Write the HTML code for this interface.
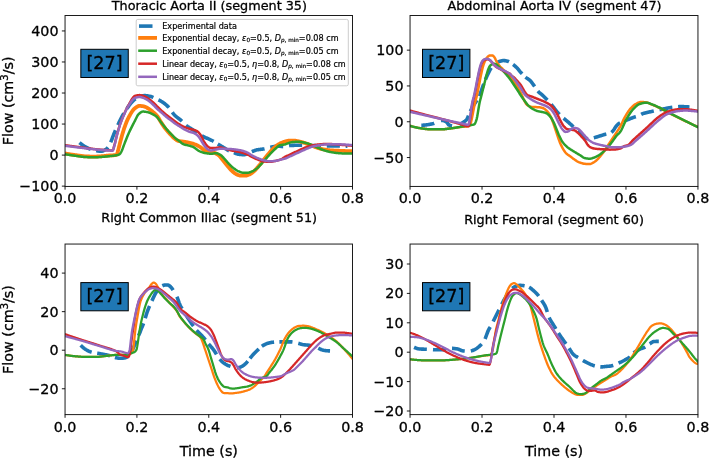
<!DOCTYPE html>
<html><head><meta charset="utf-8"><title>Flow waveforms</title>
<style>html,body{margin:0;padding:0;background:#fff}svg{display:block}</style></head>
<body>
<svg width="709" height="458" viewBox="0 0 709 458" font-family="DejaVu Sans, Liberation Sans, sans-serif">
<rect width="709" height="458" fill="#fff"/>
<defs>
<clipPath id="cTL"><rect x="65.05" y="15.5" width="287.45" height="170.95"/></clipPath>
<clipPath id="cTR"><rect x="410.05" y="15.5" width="287.90" height="170.95"/></clipPath>
<clipPath id="cBL"><rect x="65.05" y="244.05" width="287.45" height="170.55"/></clipPath>
<clipPath id="cBR"><rect x="410.05" y="244.05" width="287.90" height="170.55"/></clipPath>
</defs>
<g clip-path="url(#cTL)" fill="none" stroke-linejoin="round">
<path d="M79.48,142.63 L79.98,143.05 L80.48,143.46 L80.98,143.86 L81.48,144.25 L81.98,144.63 L82.48,145.00 L82.98,145.36 L83.48,145.70 L83.98,146.03 L84.48,146.35 L84.98,146.64 L85.48,146.92 L85.98,147.19 L86.48,147.43 L86.98,147.67 L87.48,147.91 L87.98,148.14 L88.48,148.36 L88.98,148.58 L89.48,148.79 L89.98,148.99 L90.48,149.18 L90.98,149.36 L91.48,149.54 L91.98,149.70 L92.48,149.85 L92.98,149.99 L93.48,150.11 L93.98,150.23 L94.48,150.33 L94.98,150.43 L95.48,150.54 L95.98,150.64 L96.48,150.73 L96.98,150.83 L97.48,150.91 L97.98,150.99 L98.48,151.07 L98.98,151.13 L99.48,151.18 L99.98,151.22 L100.48,151.25 L100.98,151.26 L101.48,151.26 L101.98,151.19 L102.48,151.08 L102.98,150.93 L103.48,150.72 L103.98,150.48 L104.48,150.21 L104.98,149.90 L105.48,149.57 L105.98,149.21 L106.48,148.83 L106.98,148.43 L107.48,147.99 L107.98,147.36 L108.48,146.57 L108.98,145.67 L109.48,144.69 L109.98,143.69 L110.48,142.67 L110.98,141.55 L111.48,140.33 L111.98,139.03 L112.48,137.70 L112.98,136.36 L113.48,135.05 L113.98,133.78 L114.48,132.59 L114.98,131.42 L115.48,130.26 L115.98,129.12 L116.48,127.99 L116.98,126.88 L117.48,125.79 L117.98,124.71 L118.48,123.65 L118.98,122.60 L119.48,121.55 L119.98,120.52 L120.48,119.51 L120.98,118.52 L121.48,117.55 L121.98,116.62 L122.48,115.73 L122.98,114.85 L123.48,114.00 L123.98,113.16 L124.48,112.34 L124.98,111.54 L125.48,110.76 L125.98,109.99 L126.48,109.25 L126.98,108.52 L127.48,107.80 L127.98,107.09 L128.48,106.39 L128.98,105.69 L129.48,105.01 L129.98,104.35 L130.48,103.71 L130.98,103.10 L131.48,102.52 L131.98,101.98 L132.48,101.48 L132.98,100.99 L133.48,100.51 L133.98,100.04 L134.48,99.59 L134.98,99.16 L135.48,98.76 L135.98,98.40 L136.48,98.08 L136.98,97.80 L137.48,97.57 L137.98,97.36 L138.48,97.15 L138.98,96.94 L139.48,96.74 L139.98,96.55 L140.48,96.37 L140.98,96.21 L141.48,96.06 L141.98,95.93 L142.48,95.83 L142.98,95.74 L143.48,95.68 L143.98,95.64 L144.48,95.63 L144.98,95.64 L145.48,95.67 L145.98,95.71 L146.48,95.76 L146.98,95.83 L147.48,95.90 L147.98,95.98 L148.48,96.06 L148.98,96.16 L149.48,96.25 L149.98,96.35 L150.48,96.46 L150.98,96.58 L151.48,96.74 L151.98,96.92 L152.48,97.13 L152.98,97.35 L153.48,97.59 L153.98,97.84 L154.48,98.09 L154.98,98.35 L155.48,98.60 L155.98,98.85 L156.48,99.08 L156.98,99.31 L157.48,99.54 L157.98,99.77 L158.48,99.99 L158.98,100.23 L159.48,100.46 L159.98,100.71 L160.48,100.96 L160.98,101.22 L161.48,101.50 L161.98,101.79 L162.48,102.09 L162.98,102.42 L163.48,102.76 L163.98,103.12 L164.48,103.50 L164.98,103.90 L165.48,104.31 L165.98,104.74 L166.48,105.18 L166.98,105.64 L167.48,106.12 L167.98,106.60 L168.48,107.11 L168.98,107.65 L169.48,108.25 L169.98,108.90 L170.48,109.59 L170.98,110.29 L171.48,111.01 L171.98,111.73 L172.48,112.44 L172.98,113.13 L173.48,113.78 L173.98,114.39 L174.48,114.94 L174.98,115.44 L175.48,115.91 L175.98,116.35 L176.48,116.77 L176.98,117.18 L177.48,117.57 L177.98,117.95 L178.48,118.34 L178.98,118.72 L179.48,119.11 L179.98,119.50 L180.48,119.91 L180.98,120.34 L181.48,120.80 L181.98,121.28 L182.48,121.79 L182.98,122.32 L183.48,122.85 L183.98,123.39 L184.48,123.91 L184.98,124.40 L185.48,124.87 L185.98,125.29 L186.48,125.68 L186.98,126.05 L187.48,126.41 L187.98,126.75 L188.48,127.08 L188.98,127.40 L189.48,127.71 L189.98,128.02 L190.48,128.33 L190.98,128.64 L191.48,128.96 L191.98,129.28 L192.48,129.61 L192.98,129.95 L193.48,130.30 L193.98,130.65 L194.48,131.02 L194.98,131.38 L195.48,131.74 L195.98,132.10 L196.48,132.45 L196.98,132.80 L197.48,133.15 L197.98,133.48 L198.48,133.79 L198.98,134.11 L199.48,134.41 L199.98,134.71 L200.48,135.00 L200.98,135.29 L201.48,135.57 L201.98,135.84 L202.48,136.11 L202.98,136.37 L203.48,136.63 L203.98,136.88 L204.48,137.12 L204.98,137.35 L205.48,137.58 L205.98,137.80 L206.48,138.03 L206.98,138.24 L207.48,138.46 L207.98,138.68 L208.48,138.89 L208.98,139.11 L209.48,139.33 L209.98,139.56 L210.48,139.79 L210.98,140.02 L211.48,140.26 L211.98,140.51 L212.48,140.76 L212.98,141.03 L213.48,141.30 L213.98,141.59 L214.48,141.90 L214.98,142.22 L215.48,142.54 L215.98,142.86 L216.48,143.19 L216.98,143.51 L217.48,143.83 L217.98,144.13 L218.48,144.44 L218.98,144.74 L219.48,145.04 L219.98,145.34 L220.48,145.64 L220.98,145.94 L221.48,146.24 L221.98,146.54 L222.48,146.83 L222.98,147.13 L223.48,147.43 L223.98,147.74 L224.48,148.05 L224.98,148.37 L225.48,148.69 L225.98,149.02 L226.48,149.34 L226.98,149.66 L227.48,149.96 L227.98,150.26 L228.48,150.54 L228.98,150.80 L229.48,151.05 L229.98,151.27 L230.48,151.46 L230.98,151.64 L231.48,151.80 L231.98,151.95 L232.48,152.11 L232.98,152.27 L233.48,152.44 L233.98,152.63 L234.48,152.84 L234.98,153.06 L235.48,153.28 L235.98,153.50 L236.48,153.70 L236.98,153.88 L237.48,154.02 L237.98,154.12 L238.48,154.20 L238.98,154.27 L239.48,154.35 L239.98,154.42 L240.48,154.48 L240.98,154.53 L241.48,154.58 L241.98,154.62 L242.48,154.65 L242.98,154.67 L243.48,154.68 L243.98,154.67 L244.48,154.62 L244.98,154.53 L245.48,154.42 L245.98,154.28 L246.48,154.12 L246.98,153.96 L247.48,153.78 L247.98,153.61 L248.48,153.43 L248.98,153.20 L249.48,152.94 L249.98,152.67 L250.48,152.39 L250.98,152.12 L251.48,151.88 L251.98,151.67 L252.48,151.45 L252.98,151.24 L253.48,151.03 L253.98,150.82 L254.48,150.63 L254.98,150.44 L255.48,150.27 L255.98,150.11 L256.48,149.97 L256.98,149.85 L257.48,149.76 L257.98,149.67 L258.48,149.60 L258.98,149.54 L259.48,149.48 L259.98,149.42 L260.48,149.37 L260.98,149.32 L261.48,149.27 L261.98,149.21 L262.48,149.15 L262.98,149.08 L263.48,149.01 L263.98,148.91 L264.48,148.81 L264.98,148.69 L265.48,148.56 L265.98,148.43 L266.48,148.29 L266.98,148.15 L267.48,148.01 L267.98,147.87 L268.48,147.73 L268.98,147.60 L269.48,147.48 L269.98,147.37 L270.48,147.27 L270.98,147.17 L271.48,147.07 L271.98,146.96 L272.48,146.86 L272.98,146.75 L273.48,146.65 L273.98,146.56 L274.48,146.47 L274.98,146.39 L275.48,146.32 L275.98,146.26 L276.48,146.22 L276.98,146.18 L277.48,146.17 L277.98,146.17 L278.48,146.18 L278.98,146.21 L279.48,146.24 L279.98,146.29 L280.48,146.33 L280.98,146.39 L281.48,146.44 L281.98,146.49 L282.48,146.54 L282.98,146.59 L283.48,146.62 L283.98,146.65 L284.48,146.67 L284.98,146.68 L285.48,146.65 L285.98,146.55 L286.48,146.42 L286.98,146.25 L287.48,146.07 L287.98,145.89 L288.48,145.74 L288.98,145.62 L289.48,145.55 L289.98,145.52 L290.48,145.49 L290.98,145.47 L291.48,145.44 L291.98,145.42 L292.48,145.40 L292.98,145.38 L293.48,145.36 L293.98,145.34 L294.48,145.32 L294.98,145.30 L295.48,145.29 L295.98,145.28 L296.48,145.26 L296.98,145.25 L297.48,145.24 L297.98,145.23 L298.48,145.23 L298.98,145.22 L299.48,145.21 L299.98,145.21 L300.48,145.21 L300.98,145.21 L301.48,145.21 L301.98,145.21 L302.48,145.21 L302.98,145.22 L303.48,145.22 L303.98,145.23 L304.48,145.24 L304.98,145.25 L305.48,145.27 L305.98,145.28 L306.48,145.30 L306.98,145.32 L307.48,145.33 L307.98,145.35 L308.48,145.37 L308.98,145.39 L309.48,145.42 L309.98,145.44 L310.48,145.46 L310.98,145.48 L311.48,145.50 L311.98,145.53 L312.48,145.55 L312.98,145.57 L313.48,145.59 L313.98,145.61 L314.48,145.63 L314.98,145.65 L315.48,145.67 L315.98,145.69 L316.48,145.71 L316.98,145.72 L317.48,145.74 L317.98,145.75 L318.48,145.76 L318.98,145.77 L319.48,145.78 L319.98,145.79 L320.48,145.80 L320.98,145.80 L321.48,145.81 L321.98,145.82 L322.48,145.83 L322.98,145.83 L323.48,145.84 L323.98,145.85 L324.48,145.85 L324.98,145.86 L325.48,145.86 L325.98,145.87 L326.48,145.87 L326.98,145.88 L327.48,145.88 L327.98,145.89 L328.48,145.89 L328.98,145.90 L329.48,145.90 L329.98,145.91 L330.48,145.91 L330.98,145.92 L331.48,145.92 L331.98,145.93 L332.48,145.94 L332.98,145.94 L333.48,145.95 L333.98,145.95 L334.48,145.96 L334.98,145.97 L335.48,145.97 L335.98,145.98 L336.48,145.99 L336.98,146.00 L337.48,146.00 L337.98,146.01 L338.48,146.02 L338.98,146.03 L339.48,146.04 L339.98,146.05 L340.48,146.06 L340.98,146.07 L341.48,146.08 L341.98,146.09 L342.48,146.10 L342.98,146.12 L343.48,146.13 L343.98,146.14 L344.48,146.15 L344.98,146.16 L345.48,146.18 L345.98,146.19 L346.48,146.20 L346.98,146.22 L347.45,146.23" stroke="#1f77b4" stroke-width="3.6" stroke-dasharray="13.10 5.67 13.10 5.67 13.10 5.67 13.10 5.67 13.10 5.67 13.10 5.67 13.10 5.81 13.10 5.86 13.10 5.86 13.10 4.94 13.10 5.17 13.10 5.76 13.10 5.90 13.10 5.97 13.10 5.80 13.10 5.80 13.10 5.80"/>
<path d="M65.42,153.58 L65.92,153.66 L66.42,153.74 L66.92,153.83 L67.42,153.91 L67.92,153.99 L68.42,154.07 L68.92,154.15 L69.42,154.22 L69.92,154.30 L70.42,154.38 L70.92,154.45 L71.42,154.53 L71.92,154.60 L72.42,154.68 L72.92,154.75 L73.42,154.82 L73.92,154.89 L74.42,154.96 L74.92,155.03 L75.42,155.10 L75.92,155.17 L76.42,155.23 L76.92,155.30 L77.42,155.37 L77.92,155.45 L78.42,155.52 L78.92,155.59 L79.42,155.67 L79.92,155.74 L80.42,155.81 L80.92,155.88 L81.42,155.95 L81.92,156.01 L82.42,156.08 L82.92,156.14 L83.42,156.19 L83.92,156.24 L84.42,156.28 L84.92,156.32 L85.42,156.36 L85.92,156.38 L86.42,156.40 L86.92,156.42 L87.42,156.44 L87.92,156.46 L88.42,156.48 L88.92,156.49 L89.42,156.51 L89.92,156.53 L90.42,156.54 L90.92,156.55 L91.42,156.56 L91.92,156.57 L92.42,156.58 L92.92,156.58 L93.42,156.59 L93.92,156.59 L94.42,156.59 L94.92,156.58 L95.42,156.58 L95.92,156.56 L96.42,156.54 L96.92,156.52 L97.42,156.50 L97.92,156.47 L98.42,156.44 L98.92,156.41 L99.42,156.38 L99.92,156.34 L100.42,156.31 L100.92,156.28 L101.42,156.24 L101.92,156.21 L102.42,156.17 L102.92,156.13 L103.42,156.09 L103.92,156.04 L104.42,155.99 L104.92,155.94 L105.42,155.88 L105.92,155.82 L106.42,155.76 L106.92,155.71 L107.42,155.65 L107.92,155.59 L108.42,155.54 L108.92,155.49 L109.42,155.45 L109.92,155.41 L110.42,155.37 L110.92,155.35 L111.42,155.32 L111.92,155.31 L112.42,155.29 L112.92,155.28 L113.42,155.26 L113.92,155.24 L114.42,155.21 L114.92,155.18 L115.42,155.13 L115.92,155.06 L116.42,154.70 L116.92,154.01 L117.42,153.07 L117.92,151.31 L118.42,149.15 L118.92,147.20 L119.42,145.25 L119.92,143.28 L120.42,141.33 L120.92,139.43 L121.42,137.62 L121.92,135.84 L122.42,134.09 L122.92,132.39 L123.42,130.75 L123.92,129.19 L124.42,127.73 L124.92,126.31 L125.42,124.92 L125.92,123.58 L126.42,122.29 L126.92,121.07 L127.42,119.91 L127.92,118.85 L128.42,117.87 L128.92,116.92 L129.42,115.99 L129.92,115.08 L130.42,114.19 L130.92,113.33 L131.42,112.51 L131.92,111.73 L132.42,110.99 L132.92,110.31 L133.42,109.69 L133.92,109.13 L134.42,108.64 L134.92,108.22 L135.42,107.86 L135.92,107.50 L136.42,107.15 L136.92,106.83 L137.42,106.53 L137.92,106.29 L138.42,106.09 L138.92,105.96 L139.42,105.90 L139.92,105.90 L140.42,105.92 L140.92,105.96 L141.42,106.02 L141.92,106.08 L142.42,106.16 L142.92,106.24 L143.42,106.33 L143.92,106.43 L144.42,106.54 L144.92,106.70 L145.42,106.91 L145.92,107.14 L146.42,107.41 L146.92,107.70 L147.42,108.00 L147.92,108.31 L148.42,108.61 L148.92,108.92 L149.42,109.24 L149.92,109.58 L150.42,109.94 L150.92,110.31 L151.42,110.70 L151.92,111.10 L152.42,111.51 L152.92,111.93 L153.42,112.36 L153.92,112.79 L154.42,113.23 L154.92,113.69 L155.42,114.16 L155.92,114.66 L156.42,115.18 L156.92,115.73 L157.42,116.33 L157.92,116.97 L158.42,117.72 L158.92,118.56 L159.42,119.46 L159.92,120.37 L160.42,121.25 L160.92,122.07 L161.42,122.86 L161.92,123.64 L162.42,124.40 L162.92,125.16 L163.42,125.90 L163.92,126.62 L164.42,127.33 L164.92,128.01 L165.42,128.66 L165.92,129.30 L166.42,129.92 L166.92,130.53 L167.42,131.12 L167.92,131.69 L168.42,132.26 L168.92,132.82 L169.42,133.37 L169.92,133.91 L170.42,134.45 L170.92,134.99 L171.42,135.52 L171.92,136.05 L172.42,136.56 L172.92,137.05 L173.42,137.51 L173.92,137.95 L174.42,138.37 L174.92,138.78 L175.42,139.20 L175.92,139.60 L176.42,139.98 L176.92,140.31 L177.42,140.59 L177.92,140.80 L178.42,140.93 L178.92,141.04 L179.42,141.13 L179.92,141.21 L180.42,141.28 L180.92,141.34 L181.42,141.40 L181.92,141.46 L182.42,141.51 L182.92,141.58 L183.42,141.65 L183.92,141.73 L184.42,141.81 L184.92,141.89 L185.42,141.97 L185.92,142.06 L186.42,142.14 L186.92,142.23 L187.42,142.33 L187.92,142.43 L188.42,142.53 L188.92,142.64 L189.42,142.74 L189.92,142.86 L190.42,142.98 L190.92,143.10 L191.42,143.24 L191.92,143.38 L192.42,143.52 L192.92,143.68 L193.42,143.85 L193.92,144.03 L194.42,144.21 L194.92,144.41 L195.42,144.62 L195.92,144.83 L196.42,145.06 L196.92,145.29 L197.42,145.54 L197.92,145.79 L198.42,146.05 L198.92,146.32 L199.42,146.59 L199.92,146.88 L200.42,147.19 L200.92,147.55 L201.42,147.95 L201.92,148.37 L202.42,148.80 L202.92,149.22 L203.42,149.61 L203.92,149.97 L204.42,150.27 L204.92,150.52 L205.42,150.76 L205.92,150.98 L206.42,151.20 L206.92,151.40 L207.42,151.58 L207.92,151.74 L208.42,151.88 L208.92,152.00 L209.42,152.09 L209.92,152.16 L210.42,152.22 L210.92,152.27 L211.42,152.31 L211.92,152.36 L212.42,152.41 L212.92,152.48 L213.42,152.56 L213.92,152.67 L214.42,152.81 L214.92,153.00 L215.42,153.22 L215.92,153.47 L216.42,153.75 L216.92,154.05 L217.42,154.37 L217.92,154.70 L218.42,155.06 L218.92,155.49 L219.42,155.98 L219.92,156.53 L220.42,157.13 L220.92,157.75 L221.42,158.38 L221.92,159.02 L222.42,159.64 L222.92,160.24 L223.42,160.85 L223.92,161.47 L224.42,162.11 L224.92,162.75 L225.42,163.39 L225.92,164.02 L226.42,164.65 L226.92,165.26 L227.42,165.86 L227.92,166.46 L228.42,167.06 L228.92,167.67 L229.42,168.26 L229.92,168.84 L230.42,169.39 L230.92,169.92 L231.42,170.42 L231.92,170.88 L232.42,171.33 L232.92,171.77 L233.42,172.20 L233.92,172.61 L234.42,173.00 L234.92,173.36 L235.42,173.68 L235.92,173.97 L236.42,174.21 L236.92,174.44 L237.42,174.67 L237.92,174.89 L238.42,175.10 L238.92,175.28 L239.42,175.43 L239.92,175.55 L240.42,175.62 L240.92,175.65 L241.42,175.65 L241.92,175.65 L242.42,175.65 L242.92,175.65 L243.42,175.65 L243.92,175.65 L244.42,175.65 L244.92,175.65 L245.42,175.65 L245.92,175.62 L246.42,175.54 L246.92,175.42 L247.42,175.26 L247.92,175.07 L248.42,174.87 L248.92,174.64 L249.42,174.42 L249.92,174.19 L250.42,173.94 L250.92,173.65 L251.42,173.32 L251.92,172.96 L252.42,172.56 L252.92,172.15 L253.42,171.72 L253.92,171.28 L254.42,170.83 L254.92,170.37 L255.42,169.86 L255.92,169.33 L256.42,168.77 L256.92,168.19 L257.42,167.60 L257.92,167.00 L258.42,166.39 L258.92,165.79 L259.42,165.20 L259.92,164.59 L260.42,163.97 L260.92,163.34 L261.42,162.71 L261.92,162.08 L262.42,161.44 L262.92,160.81 L263.42,160.18 L263.92,159.55 L264.42,158.92 L264.92,158.28 L265.42,157.65 L265.92,157.01 L266.42,156.38 L266.92,155.76 L267.42,155.14 L267.92,154.54 L268.42,153.95 L268.92,153.35 L269.42,152.76 L269.92,152.18 L270.42,151.60 L270.92,151.03 L271.42,150.48 L271.92,149.95 L272.42,149.43 L272.92,148.94 L273.42,148.45 L273.92,147.97 L274.42,147.51 L274.92,147.06 L275.42,146.62 L275.92,146.20 L276.42,145.80 L276.92,145.42 L277.42,145.07 L277.92,144.73 L278.42,144.41 L278.92,144.11 L279.42,143.83 L279.92,143.57 L280.42,143.33 L280.92,143.10 L281.42,142.87 L281.92,142.66 L282.42,142.45 L282.92,142.25 L283.42,142.07 L283.92,141.89 L284.42,141.74 L284.92,141.59 L285.42,141.46 L285.92,141.32 L286.42,141.18 L286.92,141.05 L287.42,140.93 L287.92,140.83 L288.42,140.75 L288.92,140.69 L289.42,140.66 L289.92,140.66 L290.42,140.66 L290.92,140.66 L291.42,140.66 L291.92,140.66 L292.42,140.66 L292.92,140.66 L293.42,140.66 L293.92,140.66 L294.42,140.67 L294.92,140.70 L295.42,140.75 L295.92,140.83 L296.42,140.91 L296.92,141.00 L297.42,141.11 L297.92,141.21 L298.42,141.31 L298.92,141.40 L299.42,141.51 L299.92,141.62 L300.42,141.74 L300.92,141.86 L301.42,141.99 L301.92,142.13 L302.42,142.27 L302.92,142.41 L303.42,142.56 L303.92,142.71 L304.42,142.88 L304.92,143.05 L305.42,143.22 L305.92,143.41 L306.42,143.59 L306.92,143.78 L307.42,143.96 L307.92,144.15 L308.42,144.34 L308.92,144.54 L309.42,144.74 L309.92,144.95 L310.42,145.15 L310.92,145.36 L311.42,145.56 L311.92,145.76 L312.42,145.95 L312.92,146.15 L313.42,146.34 L313.92,146.54 L314.42,146.73 L314.92,146.92 L315.42,147.11 L315.92,147.29 L316.42,147.46 L316.92,147.63 L317.42,147.80 L317.92,147.97 L318.42,148.13 L318.92,148.29 L319.42,148.45 L319.92,148.59 L320.42,148.73 L320.92,148.86 L321.42,148.97 L321.92,149.08 L322.42,149.18 L322.92,149.27 L323.42,149.36 L323.92,149.45 L324.42,149.53 L324.92,149.60 L325.42,149.68 L325.92,149.75 L326.42,149.83 L326.92,149.90 L327.42,149.97 L327.92,150.04 L328.42,150.10 L328.92,150.16 L329.42,150.22 L329.92,150.27 L330.42,150.32 L330.92,150.35 L331.42,150.39 L331.92,150.43 L332.42,150.46 L332.92,150.49 L333.42,150.52 L333.92,150.55 L334.42,150.57 L334.92,150.60 L335.42,150.62 L335.92,150.65 L336.42,150.67 L336.92,150.69 L337.42,150.71 L337.92,150.73 L338.42,150.75 L338.92,150.77 L339.42,150.79 L339.92,150.81 L340.42,150.83 L340.92,150.85 L341.42,150.87 L341.92,150.89 L342.42,150.91 L342.92,150.93 L343.42,150.95 L343.92,150.97 L344.42,151.00 L344.92,151.02 L345.42,151.04 L345.92,151.06 L346.42,151.08 L346.92,151.09 L347.42,151.11 L347.92,151.12 L348.42,151.14 L348.92,151.15 L349.42,151.16 L349.92,151.17 L350.42,151.18 L350.92,151.20 L351.42,151.20 L351.92,151.21 L352.42,151.22 L352.55,151.22" stroke="#ff7f0e" stroke-width="3.8" stroke-linecap="square"/>
<path d="M65.42,154.28 L65.92,154.36 L66.42,154.44 L66.92,154.53 L67.42,154.61 L67.92,154.69 L68.42,154.77 L68.92,154.85 L69.42,154.92 L69.92,155.00 L70.42,155.08 L70.92,155.15 L71.42,155.23 L71.92,155.30 L72.42,155.38 L72.92,155.45 L73.42,155.52 L73.92,155.59 L74.42,155.66 L74.92,155.73 L75.42,155.80 L75.92,155.87 L76.42,155.93 L76.92,156.00 L77.42,156.07 L77.92,156.15 L78.42,156.22 L78.92,156.29 L79.42,156.37 L79.92,156.44 L80.42,156.51 L80.92,156.58 L81.42,156.65 L81.92,156.71 L82.42,156.78 L82.92,156.84 L83.42,156.89 L83.92,156.94 L84.42,156.98 L84.92,157.02 L85.42,157.06 L85.92,157.08 L86.42,157.10 L86.92,157.12 L87.42,157.14 L87.92,157.16 L88.42,157.18 L88.92,157.19 L89.42,157.21 L89.92,157.23 L90.42,157.24 L90.92,157.25 L91.42,157.26 L91.92,157.27 L92.42,157.28 L92.92,157.28 L93.42,157.29 L93.92,157.29 L94.42,157.29 L94.92,157.28 L95.42,157.28 L95.92,157.26 L96.42,157.24 L96.92,157.22 L97.42,157.20 L97.92,157.17 L98.42,157.14 L98.92,157.11 L99.42,157.08 L99.92,157.04 L100.42,157.01 L100.92,156.98 L101.42,156.94 L101.92,156.91 L102.42,156.87 L102.92,156.84 L103.42,156.80 L103.92,156.75 L104.42,156.71 L104.92,156.66 L105.42,156.61 L105.92,156.56 L106.42,156.51 L106.92,156.46 L107.42,156.40 L107.92,156.35 L108.42,156.29 L108.92,156.23 L109.42,156.18 L109.92,156.12 L110.42,156.06 L110.92,156.00 L111.42,155.95 L111.92,155.89 L112.42,155.83 L112.92,155.77 L113.42,155.71 L113.92,155.65 L114.42,155.58 L114.92,155.50 L115.42,155.42 L115.92,155.34 L116.42,155.25 L116.92,155.16 L117.42,155.06 L117.92,154.94 L118.42,154.80 L118.92,154.62 L119.42,154.38 L119.92,153.91 L120.42,153.23 L120.92,152.43 L121.42,151.57 L121.92,150.52 L122.42,149.28 L122.92,147.93 L123.42,146.52 L123.92,145.14 L124.42,143.85 L124.92,142.57 L125.42,141.29 L125.92,140.00 L126.42,138.71 L126.92,137.45 L127.42,136.22 L127.92,135.03 L128.42,133.89 L128.92,132.78 L129.42,131.70 L129.92,130.64 L130.42,129.60 L130.92,128.58 L131.42,127.58 L131.92,126.59 L132.42,125.61 L132.92,124.63 L133.42,123.67 L133.92,122.71 L134.42,121.76 L134.92,120.80 L135.42,119.81 L135.92,118.77 L136.42,117.71 L136.92,116.69 L137.42,115.76 L137.92,114.98 L138.42,114.39 L138.92,113.92 L139.42,113.46 L139.92,113.03 L140.42,112.63 L140.92,112.28 L141.42,111.99 L141.92,111.77 L142.42,111.63 L142.92,111.57 L143.42,111.58 L143.92,111.61 L144.42,111.65 L144.92,111.71 L145.42,111.78 L145.92,111.86 L146.42,111.94 L146.92,112.03 L147.42,112.13 L147.92,112.23 L148.42,112.37 L148.92,112.52 L149.42,112.70 L149.92,112.90 L150.42,113.11 L150.92,113.33 L151.42,113.56 L151.92,113.79 L152.42,114.03 L152.92,114.28 L153.42,114.55 L153.92,114.83 L154.42,115.13 L154.92,115.45 L155.42,115.80 L155.92,116.16 L156.42,116.56 L156.92,117.00 L157.42,117.51 L157.92,118.09 L158.42,118.72 L158.92,119.39 L159.42,120.08 L159.92,120.77 L160.42,121.46 L160.92,122.12 L161.42,122.75 L161.92,123.38 L162.42,124.01 L162.92,124.65 L163.42,125.28 L163.92,125.91 L164.42,126.54 L164.92,127.15 L165.42,127.76 L165.92,128.35 L166.42,128.94 L166.92,129.52 L167.42,130.09 L167.92,130.66 L168.42,131.22 L168.92,131.77 L169.42,132.32 L169.92,132.85 L170.42,133.38 L170.92,133.91 L171.42,134.44 L171.92,134.97 L172.42,135.48 L172.92,135.99 L173.42,136.48 L173.92,136.96 L174.42,137.41 L174.92,137.84 L175.42,138.25 L175.92,138.65 L176.42,139.02 L176.92,139.39 L177.42,139.75 L177.92,140.11 L178.42,140.47 L178.92,140.83 L179.42,141.20 L179.92,141.60 L180.42,142.02 L180.92,142.45 L181.42,142.87 L181.92,143.27 L182.42,143.64 L182.92,143.95 L183.42,144.21 L183.92,144.40 L184.42,144.56 L184.92,144.69 L185.42,144.81 L185.92,144.92 L186.42,145.03 L186.92,145.13 L187.42,145.24 L187.92,145.36 L188.42,145.50 L188.92,145.63 L189.42,145.76 L189.92,145.90 L190.42,146.03 L190.92,146.18 L191.42,146.33 L191.92,146.50 L192.42,146.68 L192.92,146.88 L193.42,147.12 L193.92,147.40 L194.42,147.72 L194.92,148.06 L195.42,148.42 L195.92,148.79 L196.42,149.17 L196.92,149.55 L197.42,149.92 L197.92,150.28 L198.42,150.62 L198.92,150.93 L199.42,151.20 L199.92,151.43 L200.42,151.63 L200.92,151.82 L201.42,152.01 L201.92,152.19 L202.42,152.36 L202.92,152.52 L203.42,152.67 L203.92,152.80 L204.42,152.93 L204.92,153.03 L205.42,153.13 L205.92,153.20 L206.42,153.28 L206.92,153.35 L207.42,153.42 L207.92,153.49 L208.42,153.55 L208.92,153.60 L209.42,153.65 L209.92,153.68 L210.42,153.71 L210.92,153.73 L211.42,153.73 L211.92,153.71 L212.42,153.65 L212.92,153.58 L213.42,153.49 L213.92,153.39 L214.42,153.31 L214.92,153.23 L215.42,153.18 L215.92,153.17 L216.42,153.20 L216.92,153.29 L217.42,153.43 L217.92,153.61 L218.42,153.82 L218.92,154.06 L219.42,154.32 L219.92,154.59 L220.42,154.86 L220.92,155.18 L221.42,155.57 L221.92,156.03 L222.42,156.54 L222.92,157.09 L223.42,157.66 L223.92,158.23 L224.42,158.80 L224.92,159.35 L225.42,159.89 L225.92,160.46 L226.42,161.04 L226.92,161.62 L227.42,162.21 L227.92,162.79 L228.42,163.36 L228.92,163.91 L229.42,164.42 L229.92,164.91 L230.42,165.39 L230.92,165.86 L231.42,166.32 L231.92,166.77 L232.42,167.20 L232.92,167.61 L233.42,168.01 L233.92,168.39 L234.42,168.76 L234.92,169.12 L235.42,169.48 L235.92,169.82 L236.42,170.16 L236.92,170.47 L237.42,170.76 L237.92,171.02 L238.42,171.26 L238.92,171.46 L239.42,171.67 L239.92,171.88 L240.42,172.08 L240.92,172.26 L241.42,172.42 L241.92,172.55 L242.42,172.64 L242.92,172.69 L243.42,172.69 L243.92,172.69 L244.42,172.69 L244.92,172.69 L245.42,172.69 L245.92,172.69 L246.42,172.69 L246.92,172.69 L247.42,172.69 L247.92,172.69 L248.42,172.64 L248.92,172.55 L249.42,172.42 L249.92,172.25 L250.42,172.07 L250.92,171.87 L251.42,171.67 L251.92,171.46 L252.42,171.25 L252.92,171.02 L253.42,170.76 L253.92,170.48 L254.42,170.17 L254.92,169.84 L255.42,169.49 L255.92,169.13 L256.42,168.76 L256.92,168.37 L257.42,167.95 L257.92,167.50 L258.42,167.02 L258.92,166.51 L259.42,165.98 L259.92,165.45 L260.42,164.91 L260.92,164.37 L261.42,163.83 L261.92,163.29 L262.42,162.74 L262.92,162.18 L263.42,161.62 L263.92,161.04 L264.42,160.47 L264.92,159.90 L265.42,159.33 L265.92,158.76 L266.42,158.20 L266.92,157.62 L267.42,157.05 L267.92,156.48 L268.42,155.91 L268.92,155.34 L269.42,154.79 L269.92,154.24 L270.42,153.70 L270.92,153.17 L271.42,152.65 L271.92,152.12 L272.42,151.61 L272.92,151.10 L273.42,150.60 L273.92,150.12 L274.42,149.65 L274.92,149.20 L275.42,148.75 L275.92,148.28 L276.42,147.80 L276.92,147.33 L277.42,146.88 L277.92,146.45 L278.42,146.06 L278.92,145.72 L279.42,145.45 L279.92,145.25 L280.42,145.12 L280.92,145.02 L281.42,144.94 L281.92,144.86 L282.42,144.80 L282.92,144.74 L283.42,144.68 L283.92,144.61 L284.42,144.53 L284.92,144.43 L285.42,144.30 L285.92,144.13 L286.42,143.93 L286.92,143.72 L287.42,143.50 L287.92,143.28 L288.42,143.07 L288.92,142.89 L289.42,142.74 L289.92,142.62 L290.42,142.50 L290.92,142.38 L291.42,142.28 L291.92,142.18 L292.42,142.09 L292.92,142.02 L293.42,141.96 L293.92,141.92 L294.42,141.90 L294.92,141.88 L295.42,141.86 L295.92,141.84 L296.42,141.83 L296.92,141.82 L297.42,141.81 L297.92,141.80 L298.42,141.80 L298.92,141.80 L299.42,141.83 L299.92,141.87 L300.42,141.92 L300.92,141.99 L301.42,142.07 L301.92,142.15 L302.42,142.24 L302.92,142.33 L303.42,142.41 L303.92,142.51 L304.42,142.61 L304.92,142.73 L305.42,142.86 L305.92,142.99 L306.42,143.13 L306.92,143.27 L307.42,143.42 L307.92,143.57 L308.42,143.73 L308.92,143.90 L309.42,144.08 L309.92,144.27 L310.42,144.47 L310.92,144.66 L311.42,144.87 L311.92,145.07 L312.42,145.28 L312.92,145.49 L313.42,145.71 L313.92,145.93 L314.42,146.16 L314.92,146.39 L315.42,146.62 L315.92,146.85 L316.42,147.08 L316.92,147.31 L317.42,147.54 L317.92,147.77 L318.42,148.00 L318.92,148.24 L319.42,148.47 L319.92,148.70 L320.42,148.92 L320.92,149.13 L321.42,149.33 L321.92,149.52 L322.42,149.71 L322.92,149.90 L323.42,150.08 L323.92,150.26 L324.42,150.43 L324.92,150.59 L325.42,150.75 L325.92,150.90 L326.42,151.04 L326.92,151.18 L327.42,151.32 L327.92,151.45 L328.42,151.57 L328.92,151.69 L329.42,151.81 L329.92,151.92 L330.42,152.02 L330.92,152.12 L331.42,152.21 L331.92,152.30 L332.42,152.39 L332.92,152.48 L333.42,152.56 L333.92,152.64 L334.42,152.72 L334.92,152.79 L335.42,152.85 L335.92,152.91 L336.42,152.96 L336.92,153.01 L337.42,153.06 L337.92,153.11 L338.42,153.15 L338.92,153.19 L339.42,153.23 L339.92,153.27 L340.42,153.30 L340.92,153.33 L341.42,153.36 L341.92,153.39 L342.42,153.42 L342.92,153.44 L343.42,153.47 L343.92,153.50 L344.42,153.52 L344.92,153.55 L345.42,153.57 L345.92,153.58 L346.42,153.60 L346.92,153.60 L347.42,153.61 L347.92,153.61 L348.42,153.61 L348.92,153.61 L349.42,153.61 L349.92,153.61 L350.42,153.61 L350.92,153.61 L351.42,153.61 L351.92,153.61 L352.42,153.61 L352.55,153.61" stroke="#2ca02c" stroke-width="2.5" stroke-linecap="square"/>
<path d="M65.42,145.24 L65.92,145.31 L66.42,145.38 L66.92,145.45 L67.42,145.52 L67.92,145.59 L68.42,145.67 L68.92,145.74 L69.42,145.81 L69.92,145.88 L70.42,145.94 L70.92,146.01 L71.42,146.08 L71.92,146.15 L72.42,146.22 L72.92,146.29 L73.42,146.36 L73.92,146.43 L74.42,146.49 L74.92,146.56 L75.42,146.63 L75.92,146.70 L76.42,146.76 L76.92,146.83 L77.42,146.90 L77.92,146.96 L78.42,147.03 L78.92,147.10 L79.42,147.16 L79.92,147.23 L80.42,147.29 L80.92,147.36 L81.42,147.43 L81.92,147.49 L82.42,147.56 L82.92,147.63 L83.42,147.69 L83.92,147.76 L84.42,147.83 L84.92,147.89 L85.42,147.96 L85.92,148.03 L86.42,148.09 L86.92,148.16 L87.42,148.23 L87.92,148.29 L88.42,148.36 L88.92,148.42 L89.42,148.48 L89.92,148.55 L90.42,148.61 L90.92,148.67 L91.42,148.73 L91.92,148.79 L92.42,148.85 L92.92,148.91 L93.42,148.97 L93.92,149.02 L94.42,149.08 L94.92,149.13 L95.42,149.18 L95.92,149.23 L96.42,149.28 L96.92,149.33 L97.42,149.38 L97.92,149.43 L98.42,149.48 L98.92,149.53 L99.42,149.57 L99.92,149.62 L100.42,149.67 L100.92,149.71 L101.42,149.76 L101.92,149.80 L102.42,149.84 L102.92,149.89 L103.42,149.93 L103.92,149.97 L104.42,150.01 L104.92,150.05 L105.42,150.08 L105.92,150.12 L106.42,150.15 L106.92,150.18 L107.42,150.22 L107.92,150.25 L108.42,150.27 L108.92,150.30 L109.42,150.33 L109.92,150.37 L110.42,150.39 L110.92,150.42 L111.42,150.44 L111.92,150.45 L112.42,150.46 L112.92,150.19 L113.42,148.82 L113.92,146.94 L114.42,145.18 L114.92,143.31 L115.42,141.27 L115.92,139.14 L116.42,137.02 L116.92,134.99 L117.42,133.13 L117.92,131.34 L118.42,129.59 L118.92,127.90 L119.42,126.27 L119.92,124.72 L120.42,123.27 L120.92,121.87 L121.42,120.54 L121.92,119.25 L122.42,118.00 L122.92,116.80 L123.42,115.63 L123.92,114.49 L124.42,113.37 L124.92,112.27 L125.42,111.20 L125.92,110.16 L126.42,109.14 L126.92,108.16 L127.42,107.21 L127.92,106.31 L128.42,105.44 L128.92,104.55 L129.42,103.64 L129.92,102.71 L130.42,101.78 L130.92,100.86 L131.42,99.98 L131.92,99.14 L132.42,98.37 L132.92,97.67 L133.42,97.06 L133.92,96.56 L134.42,96.17 L134.92,95.93 L135.42,95.78 L135.92,95.64 L136.42,95.52 L136.92,95.41 L137.42,95.31 L137.92,95.23 L138.42,95.17 L138.92,95.13 L139.42,95.11 L139.92,95.12 L140.42,95.17 L140.92,95.26 L141.42,95.37 L141.92,95.51 L142.42,95.67 L142.92,95.84 L143.42,96.01 L143.92,96.19 L144.42,96.37 L144.92,96.59 L145.42,96.84 L145.92,97.11 L146.42,97.41 L146.92,97.72 L147.42,98.05 L147.92,98.38 L148.42,98.72 L148.92,99.06 L149.42,99.41 L149.92,99.78 L150.42,100.17 L150.92,100.57 L151.42,100.98 L151.92,101.40 L152.42,101.84 L152.92,102.27 L153.42,102.72 L153.92,103.19 L154.42,103.68 L154.92,104.18 L155.42,104.70 L155.92,105.22 L156.42,105.73 L156.92,106.25 L157.42,106.75 L157.92,107.24 L158.42,107.73 L158.92,108.21 L159.42,108.70 L159.92,109.18 L160.42,109.66 L160.92,110.13 L161.42,110.59 L161.92,111.05 L162.42,111.50 L162.92,111.95 L163.42,112.39 L163.92,112.82 L164.42,113.25 L164.92,113.67 L165.42,114.09 L165.92,114.50 L166.42,114.91 L166.92,115.31 L167.42,115.70 L167.92,116.08 L168.42,116.46 L168.92,116.83 L169.42,117.20 L169.92,117.57 L170.42,117.94 L170.92,118.31 L171.42,118.68 L171.92,119.06 L172.42,119.44 L172.92,119.82 L173.42,120.21 L173.92,120.59 L174.42,120.97 L174.92,121.34 L175.42,121.70 L175.92,122.05 L176.42,122.40 L176.92,122.74 L177.42,123.09 L177.92,123.42 L178.42,123.75 L178.92,124.07 L179.42,124.38 L179.92,124.68 L180.42,124.97 L180.92,125.25 L181.42,125.53 L181.92,125.80 L182.42,126.06 L182.92,126.31 L183.42,126.56 L183.92,126.79 L184.42,127.01 L184.92,127.23 L185.42,127.43 L185.92,127.62 L186.42,127.81 L186.92,128.00 L187.42,128.17 L187.92,128.34 L188.42,128.50 L188.92,128.66 L189.42,128.81 L189.92,128.95 L190.42,129.07 L190.92,129.19 L191.42,129.30 L191.92,129.41 L192.42,129.53 L192.92,129.65 L193.42,129.78 L193.92,129.93 L194.42,130.09 L194.92,130.26 L195.42,130.44 L195.92,130.65 L196.42,130.87 L196.92,131.13 L197.42,131.43 L197.92,131.79 L198.42,132.26 L198.92,132.81 L199.42,133.42 L199.92,134.09 L200.42,134.79 L200.92,135.52 L201.42,136.36 L201.92,137.33 L202.42,138.38 L202.92,139.45 L203.42,140.49 L203.92,141.44 L204.42,142.26 L204.92,143.04 L205.42,143.81 L205.92,144.53 L206.42,145.18 L206.92,145.75 L207.42,146.19 L207.92,146.55 L208.42,146.91 L208.92,147.24 L209.42,147.52 L209.92,147.74 L210.42,147.88 L210.92,147.93 L211.42,147.93 L211.92,147.93 L212.42,147.93 L212.92,147.93 L213.42,147.93 L213.92,147.93 L214.42,147.93 L214.92,147.93 L215.42,147.93 L215.92,147.91 L216.42,147.85 L216.92,147.78 L217.42,147.69 L217.92,147.60 L218.42,147.51 L218.92,147.43 L219.42,147.38 L219.92,147.36 L220.42,147.38 L220.92,147.45 L221.42,147.55 L221.92,147.68 L222.42,147.83 L222.92,148.00 L223.42,148.16 L223.92,148.32 L224.42,148.47 L224.92,148.61 L225.42,148.76 L225.92,148.91 L226.42,149.07 L226.92,149.23 L227.42,149.39 L227.92,149.55 L228.42,149.71 L228.92,149.85 L229.42,149.99 L229.92,150.12 L230.42,150.24 L230.92,150.35 L231.42,150.46 L231.92,150.56 L232.42,150.66 L232.92,150.75 L233.42,150.85 L233.92,150.94 L234.42,151.03 L234.92,151.13 L235.42,151.22 L235.92,151.32 L236.42,151.42 L236.92,151.51 L237.42,151.61 L237.92,151.70 L238.42,151.79 L238.92,151.88 L239.42,151.98 L239.92,152.08 L240.42,152.19 L240.92,152.31 L241.42,152.43 L241.92,152.56 L242.42,152.70 L242.92,152.85 L243.42,153.01 L243.92,153.17 L244.42,153.34 L244.92,153.52 L245.42,153.71 L245.92,153.90 L246.42,154.09 L246.92,154.30 L247.42,154.51 L247.92,154.74 L248.42,154.99 L248.92,155.25 L249.42,155.52 L249.92,155.80 L250.42,156.08 L250.92,156.36 L251.42,156.63 L251.92,156.90 L252.42,157.15 L252.92,157.40 L253.42,157.63 L253.92,157.87 L254.42,158.11 L254.92,158.34 L255.42,158.57 L255.92,158.80 L256.42,159.01 L256.92,159.22 L257.42,159.43 L257.92,159.62 L258.42,159.80 L258.92,159.99 L259.42,160.17 L259.92,160.36 L260.42,160.54 L260.92,160.72 L261.42,160.89 L261.92,161.05 L262.42,161.19 L262.92,161.31 L263.42,161.41 L263.92,161.48 L264.42,161.53 L264.92,161.58 L265.42,161.62 L265.92,161.66 L266.42,161.70 L266.92,161.74 L267.42,161.77 L267.92,161.79 L268.42,161.81 L268.92,161.83 L269.42,161.83 L269.92,161.83 L270.42,161.81 L270.92,161.77 L271.42,161.71 L271.92,161.64 L272.42,161.56 L272.92,161.46 L273.42,161.36 L273.92,161.25 L274.42,161.14 L274.92,161.03 L275.42,160.92 L275.92,160.82 L276.42,160.70 L276.92,160.58 L277.42,160.45 L277.92,160.31 L278.42,160.16 L278.92,160.01 L279.42,159.84 L279.92,159.67 L280.42,159.49 L280.92,159.29 L281.42,159.08 L281.92,158.82 L282.42,158.52 L282.92,158.20 L283.42,157.87 L283.92,157.54 L284.42,157.23 L284.92,156.94 L285.42,156.68 L285.92,156.44 L286.42,156.20 L286.92,155.97 L287.42,155.74 L287.92,155.52 L288.42,155.30 L288.92,155.08 L289.42,154.86 L289.92,154.64 L290.42,154.41 L290.92,154.17 L291.42,153.94 L291.92,153.70 L292.42,153.45 L292.92,153.21 L293.42,152.97 L293.92,152.73 L294.42,152.49 L294.92,152.24 L295.42,152.00 L295.92,151.77 L296.42,151.53 L296.92,151.30 L297.42,151.06 L297.92,150.82 L298.42,150.59 L298.92,150.35 L299.42,150.12 L299.92,149.89 L300.42,149.66 L300.92,149.44 L301.42,149.22 L301.92,149.00 L302.42,148.78 L302.92,148.57 L303.42,148.35 L303.92,148.14 L304.42,147.92 L304.92,147.71 L305.42,147.51 L305.92,147.31 L306.42,147.12 L306.92,146.94 L307.42,146.77 L307.92,146.61 L308.42,146.46 L308.92,146.31 L309.42,146.16 L309.92,146.02 L310.42,145.88 L310.92,145.75 L311.42,145.63 L311.92,145.51 L312.42,145.40 L312.92,145.29 L313.42,145.20 L313.92,145.11 L314.42,145.02 L314.92,144.94 L315.42,144.86 L315.92,144.78 L316.42,144.71 L316.92,144.64 L317.42,144.58 L317.92,144.52 L318.42,144.47 L318.92,144.42 L319.42,144.38 L319.92,144.34 L320.42,144.30 L320.92,144.25 L321.42,144.22 L321.92,144.18 L322.42,144.15 L322.92,144.12 L323.42,144.10 L323.92,144.08 L324.42,144.07 L324.92,144.07 L325.42,144.07 L325.92,144.07 L326.42,144.07 L326.92,144.07 L327.42,144.07 L327.92,144.07 L328.42,144.07 L328.92,144.07 L329.42,144.07 L329.92,144.07 L330.42,144.07 L330.92,144.07 L331.42,144.09 L331.92,144.11 L332.42,144.14 L332.92,144.17 L333.42,144.20 L333.92,144.24 L334.42,144.28 L334.92,144.32 L335.42,144.36 L335.92,144.40 L336.42,144.43 L336.92,144.47 L337.42,144.51 L337.92,144.55 L338.42,144.59 L338.92,144.63 L339.42,144.67 L339.92,144.71 L340.42,144.75 L340.92,144.80 L341.42,144.84 L341.92,144.88 L342.42,144.92 L342.92,144.96 L343.42,145.00 L343.92,145.03 L344.42,145.07 L344.92,145.11 L345.42,145.15 L345.92,145.19 L346.42,145.23 L346.92,145.28 L347.42,145.32 L347.92,145.36 L348.42,145.40 L348.92,145.45 L349.42,145.49 L349.92,145.53 L350.42,145.58 L350.92,145.62 L351.42,145.67 L351.92,145.71 L352.42,145.76 L352.55,145.77" stroke="#d62728" stroke-width="2.5" stroke-linecap="square"/>
<path d="M65.42,145.84 L65.92,145.91 L66.42,145.97 L66.92,146.03 L67.42,146.10 L67.92,146.16 L68.42,146.23 L68.92,146.29 L69.42,146.35 L69.92,146.41 L70.42,146.48 L70.92,146.54 L71.42,146.60 L71.92,146.66 L72.42,146.73 L72.92,146.79 L73.42,146.85 L73.92,146.91 L74.42,146.97 L74.92,147.03 L75.42,147.09 L75.92,147.15 L76.42,147.21 L76.92,147.27 L77.42,147.33 L77.92,147.39 L78.42,147.45 L78.92,147.51 L79.42,147.57 L79.92,147.63 L80.42,147.69 L80.92,147.75 L81.42,147.81 L81.92,147.87 L82.42,147.93 L82.92,147.99 L83.42,148.05 L83.92,148.11 L84.42,148.17 L84.92,148.22 L85.42,148.28 L85.92,148.34 L86.42,148.40 L86.92,148.46 L87.42,148.52 L87.92,148.58 L88.42,148.63 L88.92,148.69 L89.42,148.75 L89.92,148.81 L90.42,148.86 L90.92,148.92 L91.42,148.97 L91.92,149.03 L92.42,149.08 L92.92,149.13 L93.42,149.19 L93.92,149.24 L94.42,149.29 L94.92,149.34 L95.42,149.39 L95.92,149.44 L96.42,149.48 L96.92,149.53 L97.42,149.58 L97.92,149.63 L98.42,149.67 L98.92,149.72 L99.42,149.77 L99.92,149.82 L100.42,149.86 L100.92,149.91 L101.42,149.95 L101.92,150.00 L102.42,150.04 L102.92,150.08 L103.42,150.12 L103.92,150.17 L104.42,150.21 L104.92,150.24 L105.42,150.28 L105.92,150.32 L106.42,150.35 L106.92,150.38 L107.42,150.42 L107.92,150.45 L108.42,150.47 L108.92,150.51 L109.42,150.54 L109.92,150.57 L110.42,150.59 L110.92,150.62 L111.42,150.64 L111.92,150.65 L112.42,150.66 L112.92,150.40 L113.42,149.10 L113.92,147.30 L114.42,145.60 L114.92,143.75 L115.42,141.71 L115.92,139.57 L116.42,137.44 L116.92,135.40 L117.42,133.53 L117.92,131.74 L118.42,129.99 L118.92,128.30 L119.42,126.67 L119.92,125.12 L120.42,123.67 L120.92,122.28 L121.42,120.94 L121.92,119.65 L122.42,118.41 L122.92,117.20 L123.42,116.03 L123.92,114.89 L124.42,113.77 L124.92,112.66 L125.42,111.57 L125.92,110.49 L126.42,109.45 L126.92,108.46 L127.42,107.53 L127.92,106.66 L128.42,105.87 L128.92,105.09 L129.42,104.30 L129.92,103.52 L130.42,102.75 L130.92,102.01 L131.42,101.30 L131.92,100.63 L132.42,100.00 L132.92,99.44 L133.42,98.95 L133.92,98.53 L134.42,98.21 L134.92,97.97 L135.42,97.81 L135.92,97.66 L136.42,97.52 L136.92,97.39 L137.42,97.27 L137.92,97.18 L138.42,97.11 L138.92,97.06 L139.42,97.04 L139.92,97.05 L140.42,97.10 L140.92,97.19 L141.42,97.30 L141.92,97.44 L142.42,97.60 L142.92,97.77 L143.42,97.94 L143.92,98.12 L144.42,98.30 L144.92,98.52 L145.42,98.76 L145.92,99.03 L146.42,99.33 L146.92,99.64 L147.42,99.96 L147.92,100.30 L148.42,100.65 L148.92,101.00 L149.42,101.38 L149.92,101.79 L150.42,102.22 L150.92,102.66 L151.42,103.12 L151.92,103.59 L152.42,104.06 L152.92,104.53 L153.42,105.00 L153.92,105.49 L154.42,105.99 L154.92,106.50 L155.42,107.02 L155.92,107.53 L156.42,108.04 L156.92,108.54 L157.42,109.03 L157.92,109.50 L158.42,109.96 L158.92,110.40 L159.42,110.84 L159.92,111.27 L160.42,111.70 L160.92,112.13 L161.42,112.56 L161.92,112.99 L162.42,113.43 L162.92,113.87 L163.42,114.32 L163.92,114.77 L164.42,115.21 L164.92,115.66 L165.42,116.10 L165.92,116.53 L166.42,116.95 L166.92,117.36 L167.42,117.75 L167.92,118.14 L168.42,118.51 L168.92,118.88 L169.42,119.25 L169.92,119.62 L170.42,119.98 L170.92,120.35 L171.42,120.72 L171.92,121.10 L172.42,121.49 L172.92,121.87 L173.42,122.26 L173.92,122.64 L174.42,123.02 L174.92,123.39 L175.42,123.75 L175.92,124.09 L176.42,124.43 L176.92,124.75 L177.42,125.07 L177.92,125.38 L178.42,125.68 L178.92,125.99 L179.42,126.29 L179.92,126.59 L180.42,126.90 L180.92,127.22 L181.42,127.55 L181.92,127.88 L182.42,128.20 L182.92,128.53 L183.42,128.85 L183.92,129.15 L184.42,129.45 L184.92,129.72 L185.42,129.98 L185.92,130.23 L186.42,130.48 L186.92,130.71 L187.42,130.94 L187.92,131.16 L188.42,131.37 L188.92,131.57 L189.42,131.75 L189.92,131.93 L190.42,132.08 L190.92,132.21 L191.42,132.34 L191.92,132.47 L192.42,132.60 L192.92,132.74 L193.42,132.91 L193.92,133.10 L194.42,133.32 L194.92,133.58 L195.42,133.87 L195.92,134.20 L196.42,134.57 L196.92,134.97 L197.42,135.39 L197.92,135.88 L198.42,136.45 L198.92,137.09 L199.42,137.78 L199.92,138.52 L200.42,139.29 L200.92,140.07 L201.42,140.99 L201.92,141.90 L202.42,142.68 L202.92,143.47 L203.42,144.26 L203.92,145.02 L204.42,145.76 L204.92,146.47 L205.42,147.12 L205.92,147.71 L206.42,148.24 L206.92,148.68 L207.42,149.03 L207.92,149.33 L208.42,149.61 L208.92,149.87 L209.42,150.10 L209.92,150.28 L210.42,150.39 L210.92,150.42 L211.42,150.40 L211.92,150.35 L212.42,150.27 L212.92,150.17 L213.42,150.06 L213.92,149.95 L214.42,149.83 L214.92,149.72 L215.42,149.63 L215.92,149.53 L216.42,149.42 L216.92,149.31 L217.42,149.19 L217.92,149.08 L218.42,148.98 L218.92,148.91 L219.42,148.85 L219.92,148.83 L220.42,148.83 L220.92,148.83 L221.42,148.83 L221.92,148.83 L222.42,148.83 L222.92,148.83 L223.42,148.83 L223.92,148.83 L224.42,148.83 L224.92,148.84 L225.42,148.84 L225.92,148.85 L226.42,148.86 L226.92,148.88 L227.42,148.89 L227.92,148.91 L228.42,148.93 L228.92,148.95 L229.42,148.98 L229.92,149.00 L230.42,149.03 L230.92,149.06 L231.42,149.10 L231.92,149.14 L232.42,149.19 L232.92,149.24 L233.42,149.30 L233.92,149.36 L234.42,149.42 L234.92,149.48 L235.42,149.54 L235.92,149.60 L236.42,149.67 L236.92,149.73 L237.42,149.80 L237.92,149.87 L238.42,149.94 L238.92,150.02 L239.42,150.11 L239.92,150.20 L240.42,150.29 L240.92,150.39 L241.42,150.50 L241.92,150.61 L242.42,150.74 L242.92,150.88 L243.42,151.04 L243.92,151.20 L244.42,151.37 L244.92,151.56 L245.42,151.75 L245.92,151.95 L246.42,152.15 L246.92,152.36 L247.42,152.59 L247.92,152.85 L248.42,153.13 L248.92,153.44 L249.42,153.76 L249.92,154.09 L250.42,154.42 L250.92,154.75 L251.42,155.07 L251.92,155.38 L252.42,155.66 L252.92,155.93 L253.42,156.18 L253.92,156.44 L254.42,156.68 L254.92,156.92 L255.42,157.16 L255.92,157.39 L256.42,157.61 L256.92,157.83 L257.42,158.04 L257.92,158.24 L258.42,158.44 L258.92,158.64 L259.42,158.84 L259.92,159.03 L260.42,159.22 L260.92,159.41 L261.42,159.59 L261.92,159.76 L262.42,159.92 L262.92,160.07 L263.42,160.21 L263.92,160.33 L264.42,160.44 L264.92,160.55 L265.42,160.66 L265.92,160.77 L266.42,160.87 L266.92,160.97 L267.42,161.06 L267.92,161.13 L268.42,161.19 L268.92,161.24 L269.42,161.26 L269.92,161.27 L270.42,161.26 L270.92,161.25 L271.42,161.23 L271.92,161.20 L272.42,161.17 L272.92,161.14 L273.42,161.10 L273.92,161.06 L274.42,161.02 L274.92,160.97 L275.42,160.92 L275.92,160.86 L276.42,160.78 L276.92,160.68 L277.42,160.57 L277.92,160.44 L278.42,160.30 L278.92,160.16 L279.42,160.02 L279.92,159.87 L280.42,159.74 L280.92,159.61 L281.42,159.48 L281.92,159.37 L282.42,159.26 L282.92,159.14 L283.42,159.03 L283.92,158.90 L284.42,158.77 L284.92,158.63 L285.42,158.46 L285.92,158.28 L286.42,158.08 L286.92,157.87 L287.42,157.65 L287.92,157.41 L288.42,157.17 L288.92,156.93 L289.42,156.69 L289.92,156.45 L290.42,156.22 L290.92,155.99 L291.42,155.77 L291.92,155.54 L292.42,155.31 L292.92,155.08 L293.42,154.85 L293.92,154.62 L294.42,154.39 L294.92,154.15 L295.42,153.92 L295.92,153.69 L296.42,153.46 L296.92,153.23 L297.42,153.00 L297.92,152.77 L298.42,152.54 L298.92,152.31 L299.42,152.07 L299.92,151.84 L300.42,151.61 L300.92,151.38 L301.42,151.16 L301.92,150.93 L302.42,150.71 L302.92,150.48 L303.42,150.25 L303.92,150.02 L304.42,149.80 L304.92,149.57 L305.42,149.35 L305.92,149.13 L306.42,148.91 L306.92,148.70 L307.42,148.50 L307.92,148.30 L308.42,148.10 L308.92,147.90 L309.42,147.70 L309.92,147.50 L310.42,147.31 L310.92,147.12 L311.42,146.94 L311.92,146.77 L312.42,146.61 L312.92,146.47 L313.42,146.33 L313.92,146.21 L314.42,146.09 L314.92,145.97 L315.42,145.86 L315.92,145.76 L316.42,145.66 L316.92,145.56 L317.42,145.47 L317.92,145.39 L318.42,145.30 L318.92,145.23 L319.42,145.15 L319.92,145.08 L320.42,145.01 L320.92,144.94 L321.42,144.87 L321.92,144.81 L322.42,144.75 L322.92,144.70 L323.42,144.64 L323.92,144.59 L324.42,144.55 L324.92,144.51 L325.42,144.47 L325.92,144.43 L326.42,144.39 L326.92,144.35 L327.42,144.31 L327.92,144.27 L328.42,144.24 L328.92,144.22 L329.42,144.20 L329.92,144.19 L330.42,144.18 L330.92,144.18 L331.42,144.18 L331.92,144.18 L332.42,144.18 L332.92,144.18 L333.42,144.18 L333.92,144.18 L334.42,144.18 L334.92,144.18 L335.42,144.18 L335.92,144.18 L336.42,144.18 L336.92,144.19 L337.42,144.20 L337.92,144.22 L338.42,144.24 L338.92,144.26 L339.42,144.29 L339.92,144.31 L340.42,144.34 L340.92,144.37 L341.42,144.39 L341.92,144.42 L342.42,144.44 L342.92,144.47 L343.42,144.50 L343.92,144.52 L344.42,144.55 L344.92,144.58 L345.42,144.61 L345.92,144.65 L346.42,144.68 L346.92,144.71 L347.42,144.75 L347.92,144.79 L348.42,144.83 L348.92,144.87 L349.42,144.91 L349.92,144.95 L350.42,145.00 L350.92,145.04 L351.42,145.09 L351.92,145.14 L352.42,145.19 L352.55,145.21" stroke="#9467bd" stroke-width="2.5" stroke-linecap="square"/>
</g>
<rect x="65.05" y="15.5" width="287.45" height="170.95" fill="none" stroke="#1c1c1c" stroke-width="1"/>
<line x1="65.05" y1="186.45" x2="65.05" y2="189.64999999999998" stroke="#000" stroke-width="0.9"/>
<text transform="translate(65.05,203.45) scale(1.0,1)" font-size="14.3" text-anchor="middle" fill="#000" stroke="#000" stroke-width="0.3" >0.0</text>
<line x1="136.91" y1="186.45" x2="136.91" y2="189.64999999999998" stroke="#000" stroke-width="0.9"/>
<text transform="translate(136.91,203.45) scale(1.0,1)" font-size="14.3" text-anchor="middle" fill="#000" stroke="#000" stroke-width="0.3" >0.2</text>
<line x1="208.77" y1="186.45" x2="208.77" y2="189.64999999999998" stroke="#000" stroke-width="0.9"/>
<text transform="translate(208.77,203.45) scale(1.0,1)" font-size="14.3" text-anchor="middle" fill="#000" stroke="#000" stroke-width="0.3" >0.4</text>
<line x1="280.64" y1="186.45" x2="280.64" y2="189.64999999999998" stroke="#000" stroke-width="0.9"/>
<text transform="translate(280.64,203.45) scale(1.0,1)" font-size="14.3" text-anchor="middle" fill="#000" stroke="#000" stroke-width="0.3" >0.6</text>
<line x1="352.50" y1="186.45" x2="352.50" y2="189.64999999999998" stroke="#000" stroke-width="0.9"/>
<text transform="translate(352.50,203.45) scale(1.0,1)" font-size="14.3" text-anchor="middle" fill="#000" stroke="#000" stroke-width="0.3" >0.8</text>
<line x1="65.05" y1="186.14" x2="61.849999999999994" y2="186.14" stroke="#000" stroke-width="0.9"/>
<text transform="translate(58.55,191.14) scale(1.0,1)" font-size="14.3" text-anchor="end" fill="#000" stroke="#000" stroke-width="0.3" >−100</text>
<line x1="65.05" y1="155.10" x2="61.849999999999994" y2="155.10" stroke="#000" stroke-width="0.9"/>
<text transform="translate(58.55,160.10) scale(1.0,1)" font-size="14.3" text-anchor="end" fill="#000" stroke="#000" stroke-width="0.3" >0</text>
<line x1="65.05" y1="124.06" x2="61.849999999999994" y2="124.06" stroke="#000" stroke-width="0.9"/>
<text transform="translate(58.55,129.06) scale(1.0,1)" font-size="14.3" text-anchor="end" fill="#000" stroke="#000" stroke-width="0.3" >100</text>
<line x1="65.05" y1="93.02" x2="61.849999999999994" y2="93.02" stroke="#000" stroke-width="0.9"/>
<text transform="translate(58.55,98.02) scale(1.0,1)" font-size="14.3" text-anchor="end" fill="#000" stroke="#000" stroke-width="0.3" >200</text>
<line x1="65.05" y1="61.98" x2="61.849999999999994" y2="61.98" stroke="#000" stroke-width="0.9"/>
<text transform="translate(58.55,66.98) scale(1.0,1)" font-size="14.3" text-anchor="end" fill="#000" stroke="#000" stroke-width="0.3" >300</text>
<line x1="65.05" y1="30.94" x2="61.849999999999994" y2="30.94" stroke="#000" stroke-width="0.9"/>
<text transform="translate(58.55,35.94) scale(1.0,1)" font-size="14.3" text-anchor="end" fill="#000" stroke="#000" stroke-width="0.3" >400</text>
<g clip-path="url(#cTR)" fill="none" stroke-linejoin="round">
<path d="M421.33,125.21 L421.83,125.21 L422.33,125.20 L422.83,125.18 L423.33,125.15 L423.83,125.12 L424.33,125.09 L424.83,125.04 L425.33,124.99 L425.83,124.94 L426.33,124.88 L426.83,124.81 L427.33,124.74 L427.83,124.67 L428.33,124.59 L428.83,124.50 L429.33,124.41 L429.83,124.32 L430.33,124.22 L430.83,124.12 L431.33,124.02 L431.83,123.91 L432.33,123.80 L432.83,123.69 L433.33,123.57 L433.83,123.43 L434.33,123.22 L434.83,122.96 L435.33,122.67 L435.83,122.36 L436.33,122.05 L436.83,121.74 L437.33,121.47 L437.83,121.23 L438.33,121.06 L438.83,120.93 L439.33,120.81 L439.83,120.70 L440.33,120.60 L440.83,120.51 L441.33,120.44 L441.83,120.40 L442.33,120.39 L442.83,120.42 L443.33,120.52 L443.83,120.65 L444.33,120.83 L444.83,121.04 L445.33,121.27 L445.83,121.53 L446.33,121.82 L446.83,122.35 L447.33,123.04 L447.83,123.78 L448.33,124.46 L448.83,124.98 L449.33,125.23 L449.83,125.35 L450.33,125.46 L450.83,125.57 L451.33,125.66 L451.83,125.74 L452.33,125.82 L452.83,125.89 L453.33,125.94 L453.83,125.99 L454.33,126.03 L454.83,126.06 L455.33,126.08 L455.83,126.10 L456.33,126.10 L456.83,126.05 L457.33,125.95 L457.83,125.78 L458.33,125.57 L458.83,125.32 L459.33,125.03 L459.83,124.72 L460.33,124.38 L460.83,124.02 L461.33,123.65 L461.83,123.28 L462.33,122.92 L462.83,122.56 L463.33,122.22 L463.83,121.89 L464.33,121.56 L464.83,121.22 L465.33,120.84 L465.83,120.42 L466.33,119.93 L466.83,119.36 L467.33,118.63 L467.83,117.50 L468.33,116.11 L468.83,114.66 L469.33,113.31 L469.83,112.21 L470.33,111.20 L470.83,110.23 L471.33,109.29 L471.83,108.39 L472.33,107.51 L472.83,106.66 L473.33,105.82 L473.83,104.99 L474.33,104.17 L474.83,103.38 L475.33,102.65 L475.83,101.95 L476.33,101.27 L476.83,100.57 L477.33,99.84 L477.83,99.06 L478.33,98.20 L478.83,97.24 L479.33,96.14 L479.83,94.92 L480.33,93.60 L480.83,92.21 L481.33,90.77 L481.83,89.31 L482.33,87.86 L482.83,86.43 L483.33,85.06 L483.83,83.77 L484.33,82.49 L484.83,81.21 L485.33,79.94 L485.83,78.69 L486.33,77.47 L486.83,76.29 L487.33,75.17 L487.83,74.11 L488.33,73.09 L488.83,72.09 L489.33,71.12 L489.83,70.21 L490.33,69.35 L490.83,68.55 L491.33,67.83 L491.83,67.14 L492.33,66.48 L492.83,65.87 L493.33,65.29 L493.83,64.78 L494.33,64.33 L494.83,63.94 L495.33,63.57 L495.83,63.22 L496.33,62.89 L496.83,62.59 L497.33,62.31 L497.83,62.06 L498.33,61.84 L498.83,61.65 L499.33,61.49 L499.83,61.32 L500.33,61.17 L500.83,61.02 L501.33,60.88 L501.83,60.76 L502.33,60.67 L502.83,60.60 L503.33,60.56 L503.83,60.56 L504.33,60.59 L504.83,60.64 L505.33,60.71 L505.83,60.80 L506.33,60.90 L506.83,61.02 L507.33,61.14 L507.83,61.27 L508.33,61.42 L508.83,61.61 L509.33,61.85 L509.83,62.14 L510.33,62.47 L510.83,62.82 L511.33,63.19 L511.83,63.57 L512.33,63.94 L512.83,64.31 L513.33,64.69 L513.83,65.08 L514.33,65.49 L514.83,65.92 L515.33,66.36 L515.83,66.82 L516.33,67.29 L516.83,67.78 L517.33,68.29 L517.83,68.86 L518.33,69.47 L518.83,70.10 L519.33,70.73 L519.83,71.33 L520.33,71.89 L520.83,72.44 L521.33,72.98 L521.83,73.52 L522.33,74.04 L522.83,74.56 L523.33,75.07 L523.83,75.56 L524.33,76.04 L524.83,76.51 L525.33,76.95 L525.83,77.37 L526.33,77.76 L526.83,78.12 L527.33,78.46 L527.83,78.80 L528.33,79.14 L528.83,79.50 L529.33,79.88 L529.83,80.31 L530.33,80.78 L530.83,81.33 L531.33,81.93 L531.83,82.57 L532.33,83.25 L532.83,83.94 L533.33,84.64 L533.83,85.34 L534.33,86.02 L534.83,86.75 L535.33,87.52 L535.83,88.29 L536.33,89.05 L536.83,89.79 L537.33,90.48 L537.83,91.10 L538.33,91.64 L538.83,92.13 L539.33,92.58 L539.83,93.00 L540.33,93.40 L540.83,93.80 L541.33,94.20 L541.83,94.62 L542.33,95.07 L542.83,95.54 L543.33,96.01 L543.83,96.48 L544.33,96.96 L544.83,97.45 L545.33,97.94 L545.83,98.44 L546.33,98.94 L546.83,99.45 L547.33,99.97 L547.83,100.49 L548.33,101.02 L548.83,101.56 L549.33,102.11 L549.83,102.68 L550.33,103.26 L550.83,103.87 L551.33,104.49 L551.83,105.12 L552.33,105.76 L552.83,106.40 L553.33,107.05 L553.83,107.71 L554.33,108.36 L554.83,109.01 L555.33,109.66 L555.83,110.29 L556.33,110.92 L556.83,111.54 L557.33,112.14 L557.83,112.72 L558.33,113.29 L558.83,113.83 L559.33,114.35 L559.83,114.85 L560.33,115.33 L560.83,115.81 L561.33,116.27 L561.83,116.71 L562.33,117.15 L562.83,117.59 L563.33,118.01 L563.83,118.43 L564.33,118.85 L564.83,119.27 L565.33,119.68 L565.83,120.09 L566.33,120.51 L566.83,120.93 L567.33,121.35 L567.83,121.78 L568.33,122.22 L568.83,122.66 L569.33,123.11 L569.83,123.56 L570.33,124.01 L570.83,124.46 L571.33,124.92 L571.83,125.37 L572.33,125.83 L572.83,126.28 L573.33,126.74 L573.83,127.19 L574.33,127.64 L574.83,128.09 L575.33,128.54 L575.83,128.98 L576.33,129.42 L576.83,129.85 L577.33,130.28 L577.83,130.71 L578.33,131.12 L578.83,131.54 L579.33,131.98 L579.83,132.45 L580.33,132.93 L580.83,133.43 L581.33,133.94 L581.83,134.45 L582.33,134.95 L582.83,135.45 L583.33,135.94 L583.83,136.41 L584.33,136.85 L584.83,137.26 L585.33,137.64 L585.83,137.97 L586.33,138.26 L586.83,138.50 L587.33,138.68 L587.83,138.79 L588.33,138.84 L588.83,138.83 L589.33,138.79 L589.83,138.73 L590.33,138.64 L590.83,138.54 L591.33,138.43 L591.83,138.30 L592.33,138.17 L592.83,138.03 L593.33,137.90 L593.83,137.77 L594.33,137.65 L594.83,137.52 L595.33,137.38 L595.83,137.24 L596.33,137.09 L596.83,136.93 L597.33,136.77 L597.83,136.61 L598.33,136.45 L598.83,136.29 L599.33,136.14 L599.83,135.98 L600.33,135.83 L600.83,135.67 L601.33,135.51 L601.83,135.35 L602.33,135.19 L602.83,135.03 L603.33,134.87 L603.83,134.72 L604.33,134.56 L604.83,134.41 L605.33,134.27 L605.83,134.12 L606.33,133.99 L606.83,133.87 L607.33,133.77 L607.83,133.67 L608.33,133.57 L608.83,133.47 L609.33,133.34 L609.83,133.20 L610.33,133.02 L610.83,132.80 L611.33,132.46 L611.83,132.03 L612.33,131.52 L612.83,130.97 L613.33,130.39 L613.83,129.75 L614.33,128.97 L614.83,128.15 L615.33,127.37 L615.83,126.70 L616.33,126.08 L616.83,125.48 L617.33,124.92 L617.83,124.41 L618.33,123.98 L618.83,123.62 L619.33,123.30 L619.83,123.00 L620.33,122.73 L620.83,122.47 L621.33,122.23 L621.83,122.01 L622.33,121.79 L622.83,121.58 L623.33,121.36 L623.83,121.15 L624.33,120.94 L624.83,120.75 L625.33,120.56 L625.83,120.38 L626.33,120.21 L626.83,120.03 L627.33,119.85 L627.83,119.66 L628.33,119.47 L628.83,119.27 L629.33,119.07 L629.83,118.86 L630.33,118.65 L630.83,118.44 L631.33,118.23 L631.83,118.02 L632.33,117.82 L632.83,117.63 L633.33,117.44 L633.83,117.27 L634.33,117.11 L634.83,116.96 L635.33,116.82 L635.83,116.69 L636.33,116.55 L636.83,116.41 L637.33,116.26 L637.83,116.10 L638.33,115.92 L638.83,115.71 L639.33,115.45 L639.83,115.16 L640.33,114.86 L640.83,114.56 L641.33,114.27 L641.83,114.02 L642.33,113.82 L642.83,113.65 L643.33,113.48 L643.83,113.33 L644.33,113.18 L644.83,113.03 L645.33,112.90 L645.83,112.77 L646.33,112.64 L646.83,112.52 L647.33,112.40 L647.83,112.29 L648.33,112.18 L648.83,112.07 L649.33,111.96 L649.83,111.86 L650.33,111.75 L650.83,111.64 L651.33,111.54 L651.83,111.43 L652.33,111.32 L652.83,111.20 L653.33,111.09 L653.83,110.97 L654.33,110.86 L654.83,110.75 L655.33,110.64 L655.83,110.53 L656.33,110.42 L656.83,110.31 L657.33,110.20 L657.83,110.10 L658.33,109.99 L658.83,109.89 L659.33,109.78 L659.83,109.68 L660.33,109.58 L660.83,109.47 L661.33,109.37 L661.83,109.27 L662.33,109.17 L662.83,109.07 L663.33,108.97 L663.83,108.86 L664.33,108.75 L664.83,108.65 L665.33,108.54 L665.83,108.43 L666.33,108.33 L666.83,108.23 L667.33,108.12 L667.83,108.02 L668.33,107.93 L668.83,107.83 L669.33,107.74 L669.83,107.66 L670.33,107.57 L670.83,107.50 L671.33,107.42 L671.83,107.36 L672.33,107.30 L672.83,107.24 L673.33,107.18 L673.83,107.12 L674.33,107.06 L674.83,107.01 L675.33,106.95 L675.83,106.90 L676.33,106.85 L676.83,106.80 L677.33,106.76 L677.83,106.72 L678.33,106.69 L678.83,106.66 L679.33,106.64 L679.83,106.63 L680.33,106.63 L680.83,106.63 L681.33,106.63 L681.83,106.63 L682.33,106.64 L682.83,106.65 L683.33,106.65 L683.83,106.67 L684.33,106.68 L684.83,106.70 L685.33,106.71 L685.83,106.74 L686.33,106.76 L686.83,106.79 L687.33,106.83 L687.83,106.87 L688.33,106.91 L688.83,106.95 L689.33,107.01 L689.47,107.02" stroke="#1f77b4" stroke-width="3.6" stroke-dasharray="13.10 7.31 13.10 7.94 13.10 4.66 13.10 4.66 13.10 4.58 13.10 7.29 13.10 4.88 13.10 4.69 13.10 5.69 13.10 5.69 13.10 5.69 13.10 5.89 13.10 5.89 13.10 5.29 13.10 3.92 13.10 5.80 13.10 5.80 13.10 5.80 13.10 5.80"/>
<path d="M410.22,125.92 L410.72,126.06 L411.22,126.20 L411.72,126.34 L412.22,126.47 L412.72,126.61 L413.22,126.74 L413.72,126.86 L414.22,126.99 L414.72,127.11 L415.22,127.23 L415.72,127.34 L416.22,127.45 L416.72,127.56 L417.22,127.67 L417.72,127.77 L418.22,127.86 L418.72,127.96 L419.22,128.04 L419.72,128.13 L420.22,128.21 L420.72,128.28 L421.22,128.35 L421.72,128.42 L422.22,128.49 L422.72,128.56 L423.22,128.63 L423.72,128.70 L424.22,128.77 L424.72,128.83 L425.22,128.90 L425.72,128.96 L426.22,129.02 L426.72,129.07 L427.22,129.12 L427.72,129.17 L428.22,129.21 L428.72,129.25 L429.22,129.28 L429.72,129.30 L430.22,129.32 L430.72,129.33 L431.22,129.33 L431.72,129.33 L432.22,129.33 L432.72,129.33 L433.22,129.33 L433.72,129.33 L434.22,129.33 L434.72,129.33 L435.22,129.33 L435.72,129.33 L436.22,129.33 L436.72,129.33 L437.22,129.33 L437.72,129.33 L438.22,129.33 L438.72,129.33 L439.22,129.33 L439.72,129.33 L440.22,129.33 L440.72,129.33 L441.22,129.33 L441.72,129.33 L442.22,129.31 L442.72,129.29 L443.22,129.26 L443.72,129.23 L444.22,129.19 L444.72,129.14 L445.22,129.09 L445.72,129.03 L446.22,128.97 L446.72,128.91 L447.22,128.85 L447.72,128.78 L448.22,128.71 L448.72,128.65 L449.22,128.58 L449.72,128.51 L450.22,128.45 L450.72,128.39 L451.22,128.33 L451.72,128.27 L452.22,128.20 L452.72,128.14 L453.22,128.07 L453.72,128.00 L454.22,127.93 L454.72,127.86 L455.22,127.79 L455.72,127.72 L456.22,127.64 L456.72,127.57 L457.22,127.50 L457.72,127.42 L458.22,127.35 L458.72,127.27 L459.22,127.20 L459.72,127.13 L460.22,127.06 L460.72,126.99 L461.22,126.92 L461.72,126.86 L462.22,126.81 L462.72,126.76 L463.22,126.72 L463.72,126.67 L464.22,126.63 L464.72,126.59 L465.22,126.55 L465.72,126.50 L466.22,126.45 L466.72,126.39 L467.22,126.32 L467.72,126.24 L468.22,126.15 L468.72,126.05 L469.22,125.93 L469.72,125.55 L470.22,124.60 L470.72,123.16 L471.22,121.32 L471.72,119.15 L472.22,116.74 L472.72,114.18 L473.22,111.54 L473.72,108.91 L474.22,106.37 L474.72,104.01 L475.22,101.90 L475.72,99.99 L476.22,98.11 L476.72,96.15 L477.22,94.02 L477.72,91.74 L478.22,89.34 L478.72,86.86 L479.22,84.20 L479.72,81.45 L480.22,78.81 L480.72,76.32 L481.22,73.92 L481.72,71.65 L482.22,69.56 L482.72,67.57 L483.22,65.74 L483.72,64.16 L484.22,62.82 L484.72,61.63 L485.22,60.58 L485.72,59.66 L486.22,58.77 L486.72,57.97 L487.22,57.29 L487.72,56.78 L488.22,56.35 L488.72,55.96 L489.22,55.65 L489.72,55.47 L490.22,55.45 L490.72,55.45 L491.22,55.45 L491.72,55.45 L492.22,55.45 L492.72,55.58 L493.22,55.94 L493.72,56.45 L494.22,57.04 L494.72,57.70 L495.22,58.67 L495.72,59.80 L496.22,60.82 L496.72,61.72 L497.22,62.57 L497.72,63.36 L498.22,64.07 L498.72,64.74 L499.22,65.36 L499.72,65.95 L500.22,66.52 L500.72,67.05 L501.22,67.54 L501.72,68.03 L502.22,68.51 L502.72,69.01 L503.22,69.51 L503.72,70.01 L504.22,70.51 L504.72,71.01 L505.22,71.51 L505.72,72.01 L506.22,72.51 L506.72,72.99 L507.22,73.48 L507.72,73.96 L508.22,74.46 L508.72,74.97 L509.22,75.51 L509.72,76.07 L510.22,76.65 L510.72,77.26 L511.22,77.88 L511.72,78.52 L512.22,79.16 L512.72,79.82 L513.22,80.50 L513.72,81.18 L514.22,81.88 L514.72,82.60 L515.22,83.34 L515.72,84.09 L516.22,84.87 L516.72,85.67 L517.22,86.50 L517.72,87.35 L518.22,88.22 L518.72,89.09 L519.22,89.98 L519.72,90.87 L520.22,91.76 L520.72,92.72 L521.22,93.75 L521.72,94.84 L522.22,95.95 L522.72,97.09 L523.22,98.22 L523.72,99.33 L524.22,100.41 L524.72,101.42 L525.22,102.37 L525.72,103.22 L526.22,103.96 L526.72,104.57 L527.22,105.04 L527.72,105.35 L528.22,105.63 L528.72,105.89 L529.22,106.13 L529.72,106.34 L530.22,106.52 L530.72,106.68 L531.22,106.80 L531.72,106.89 L532.22,106.94 L532.72,106.98 L533.22,107.01 L533.72,107.04 L534.22,107.06 L534.72,107.08 L535.22,107.09 L535.72,107.11 L536.22,107.12 L536.72,107.14 L537.22,107.16 L537.72,107.19 L538.22,107.22 L538.72,107.25 L539.22,107.30 L539.72,107.36 L540.22,107.43 L540.72,107.53 L541.22,107.63 L541.72,107.75 L542.22,107.88 L542.72,108.03 L543.22,108.21 L543.72,108.45 L544.22,108.75 L544.72,109.10 L545.22,109.49 L545.72,109.90 L546.22,110.33 L546.72,110.79 L547.22,111.32 L547.72,111.90 L548.22,112.54 L548.72,113.24 L549.22,113.98 L549.72,114.82 L550.22,115.76 L550.72,116.78 L551.22,117.86 L551.72,119.00 L552.22,120.19 L552.72,121.51 L553.22,122.91 L553.72,124.36 L554.22,125.80 L554.72,127.27 L555.22,128.77 L555.72,130.29 L556.22,131.81 L556.72,133.32 L557.22,134.87 L557.72,136.41 L558.22,137.91 L558.72,139.31 L559.22,140.63 L559.72,141.93 L560.22,143.17 L560.72,144.35 L561.22,145.43 L561.72,146.42 L562.22,147.37 L562.72,148.28 L563.22,149.17 L563.72,150.01 L564.22,150.80 L564.72,151.54 L565.22,152.22 L565.72,152.82 L566.22,153.36 L566.72,153.82 L567.22,154.24 L567.72,154.61 L568.22,154.96 L568.72,155.30 L569.22,155.63 L569.72,155.98 L570.22,156.34 L570.72,156.72 L571.22,157.11 L571.72,157.49 L572.22,157.88 L572.72,158.26 L573.22,158.63 L573.72,158.99 L574.22,159.34 L574.72,159.68 L575.22,160.02 L575.72,160.36 L576.22,160.70 L576.72,161.03 L577.22,161.34 L577.72,161.63 L578.22,161.89 L578.72,162.13 L579.22,162.33 L579.72,162.51 L580.22,162.69 L580.72,162.86 L581.22,163.02 L581.72,163.17 L582.22,163.31 L582.72,163.44 L583.22,163.55 L583.72,163.65 L584.22,163.73 L584.72,163.80 L585.22,163.84 L585.72,163.88 L586.22,163.91 L586.72,163.95 L587.22,163.98 L587.72,164.00 L588.22,164.02 L588.72,164.04 L589.22,164.05 L589.72,164.04 L590.22,163.98 L590.72,163.85 L591.22,163.67 L591.72,163.45 L592.22,163.20 L592.72,162.92 L593.22,162.62 L593.72,162.33 L594.22,162.04 L594.72,161.71 L595.22,161.35 L595.72,160.94 L596.22,160.51 L596.72,160.05 L597.22,159.57 L597.72,159.07 L598.22,158.56 L598.72,158.04 L599.22,157.50 L599.72,156.93 L600.22,156.34 L600.72,155.72 L601.22,155.07 L601.72,154.42 L602.22,153.75 L602.72,153.07 L603.22,152.39 L603.72,151.69 L604.22,150.97 L604.72,150.22 L605.22,149.47 L605.72,148.70 L606.22,147.93 L606.72,147.16 L607.22,146.39 L607.72,145.63 L608.22,144.88 L608.72,144.13 L609.22,143.38 L609.72,142.63 L610.22,141.88 L610.72,141.13 L611.22,140.38 L611.72,139.63 L612.22,138.88 L612.72,138.14 L613.22,137.39 L613.72,136.65 L614.22,135.90 L614.72,135.16 L615.22,134.41 L615.72,133.66 L616.22,132.90 L616.72,132.14 L617.22,131.37 L617.72,130.61 L618.22,129.84 L618.72,129.06 L619.22,128.26 L619.72,127.43 L620.22,126.55 L620.72,125.61 L621.22,124.62 L621.72,123.59 L622.22,122.53 L622.72,121.46 L623.22,120.40 L623.72,119.36 L624.22,118.35 L624.72,117.39 L625.22,116.50 L625.72,115.64 L626.22,114.79 L626.72,113.96 L627.22,113.14 L627.72,112.35 L628.22,111.58 L628.72,110.85 L629.22,110.15 L629.72,109.50 L630.22,108.89 L630.72,108.33 L631.22,107.79 L631.72,107.27 L632.22,106.76 L632.72,106.28 L633.22,105.82 L633.72,105.39 L634.22,104.99 L634.72,104.62 L635.22,104.30 L635.72,104.01 L636.22,103.75 L636.72,103.48 L637.22,103.22 L637.72,102.97 L638.22,102.74 L638.72,102.53 L639.22,102.35 L639.72,102.20 L640.22,102.10 L640.72,102.05 L641.22,102.04 L641.72,102.05 L642.22,102.06 L642.72,102.07 L643.22,102.09 L643.72,102.12 L644.22,102.15 L644.72,102.18 L645.22,102.22 L645.72,102.26 L646.22,102.30 L646.72,102.38 L647.22,102.50 L647.72,102.66 L648.22,102.86 L648.72,103.08 L649.22,103.32 L649.72,103.57 L650.22,103.82 L650.72,104.07 L651.22,104.30 L651.72,104.51 L652.22,104.72 L652.72,104.92 L653.22,105.13 L653.72,105.34 L654.22,105.55 L654.72,105.76 L655.22,105.97 L655.72,106.19 L656.22,106.40 L656.72,106.62 L657.22,106.84 L657.72,107.07 L658.22,107.29 L658.72,107.53 L659.22,107.76 L659.72,108.00 L660.22,108.24 L660.72,108.49 L661.22,108.75 L661.72,109.01 L662.22,109.27 L662.72,109.53 L663.22,109.80 L663.72,110.06 L664.22,110.33 L664.72,110.60 L665.22,110.87 L665.72,111.13 L666.22,111.40 L666.72,111.67 L667.22,111.94 L667.72,112.21 L668.22,112.48 L668.72,112.76 L669.22,113.03 L669.72,113.30 L670.22,113.58 L670.72,113.85 L671.22,114.12 L671.72,114.38 L672.22,114.65 L672.72,114.91 L673.22,115.16 L673.72,115.42 L674.22,115.67 L674.72,115.92 L675.22,116.17 L675.72,116.42 L676.22,116.67 L676.72,116.92 L677.22,117.17 L677.72,117.41 L678.22,117.66 L678.72,117.90 L679.22,118.15 L679.72,118.39 L680.22,118.63 L680.72,118.87 L681.22,119.11 L681.72,119.35 L682.22,119.59 L682.72,119.83 L683.22,120.07 L683.72,120.31 L684.22,120.55 L684.72,120.79 L685.22,121.03 L685.72,121.27 L686.22,121.51 L686.72,121.75 L687.22,121.99 L687.72,122.23 L688.22,122.48 L688.72,122.72 L689.22,122.96 L689.72,123.20 L690.22,123.44 L690.72,123.68 L691.22,123.92 L691.72,124.15 L692.22,124.38 L692.72,124.61 L693.22,124.84 L693.72,125.07 L694.22,125.29 L694.72,125.52 L695.22,125.74 L695.72,125.96 L696.22,126.18 L696.72,126.40 L697.22,126.61 L697.72,126.83 L697.99,126.95" stroke="#ff7f0e" stroke-width="2.5" stroke-linecap="square"/>
<path d="M410.22,125.92 L410.72,126.06 L411.22,126.20 L411.72,126.34 L412.22,126.47 L412.72,126.61 L413.22,126.74 L413.72,126.86 L414.22,126.99 L414.72,127.11 L415.22,127.23 L415.72,127.34 L416.22,127.45 L416.72,127.56 L417.22,127.67 L417.72,127.77 L418.22,127.86 L418.72,127.96 L419.22,128.04 L419.72,128.13 L420.22,128.21 L420.72,128.28 L421.22,128.35 L421.72,128.42 L422.22,128.49 L422.72,128.56 L423.22,128.63 L423.72,128.70 L424.22,128.77 L424.72,128.83 L425.22,128.90 L425.72,128.96 L426.22,129.02 L426.72,129.07 L427.22,129.12 L427.72,129.17 L428.22,129.21 L428.72,129.25 L429.22,129.28 L429.72,129.30 L430.22,129.32 L430.72,129.33 L431.22,129.33 L431.72,129.33 L432.22,129.33 L432.72,129.33 L433.22,129.33 L433.72,129.33 L434.22,129.33 L434.72,129.33 L435.22,129.33 L435.72,129.33 L436.22,129.33 L436.72,129.33 L437.22,129.33 L437.72,129.33 L438.22,129.33 L438.72,129.33 L439.22,129.33 L439.72,129.33 L440.22,129.33 L440.72,129.33 L441.22,129.33 L441.72,129.33 L442.22,129.31 L442.72,129.29 L443.22,129.26 L443.72,129.23 L444.22,129.19 L444.72,129.14 L445.22,129.09 L445.72,129.04 L446.22,128.98 L446.72,128.92 L447.22,128.85 L447.72,128.79 L448.22,128.72 L448.72,128.65 L449.22,128.59 L449.72,128.52 L450.22,128.45 L450.72,128.39 L451.22,128.33 L451.72,128.26 L452.22,128.20 L452.72,128.13 L453.22,128.05 L453.72,127.98 L454.22,127.90 L454.72,127.83 L455.22,127.75 L455.72,127.66 L456.22,127.58 L456.72,127.50 L457.22,127.41 L457.72,127.33 L458.22,127.24 L458.72,127.15 L459.22,127.07 L459.72,126.98 L460.22,126.89 L460.72,126.81 L461.22,126.72 L461.72,126.64 L462.22,126.56 L462.72,126.47 L463.22,126.39 L463.72,126.30 L464.22,126.22 L464.72,126.13 L465.22,126.04 L465.72,125.96 L466.22,125.87 L466.72,125.78 L467.22,125.69 L467.72,125.60 L468.22,125.51 L468.72,125.42 L469.22,125.33 L469.72,125.24 L470.22,125.16 L470.72,125.10 L471.22,125.03 L471.72,124.96 L472.22,124.88 L472.72,124.79 L473.22,124.67 L473.72,124.52 L474.22,124.34 L474.72,123.93 L475.22,123.06 L475.72,121.87 L476.22,120.51 L476.72,118.83 L477.22,116.47 L477.72,113.64 L478.22,110.57 L478.72,107.48 L479.22,104.57 L479.72,102.07 L480.22,100.00 L480.72,98.12 L481.22,96.26 L481.72,94.30 L482.22,92.31 L482.72,90.30 L483.22,88.29 L483.72,86.29 L484.22,84.29 L484.72,82.29 L485.22,80.27 L485.72,78.21 L486.22,76.21 L486.72,74.35 L487.22,72.53 L487.72,70.83 L488.22,69.38 L488.72,68.16 L489.22,67.06 L489.72,66.20 L490.22,65.61 L490.72,65.11 L491.22,64.70 L491.72,64.39 L492.22,64.19 L492.72,64.07 L493.22,63.97 L493.72,63.90 L494.22,63.86 L494.72,63.86 L495.22,63.98 L495.72,64.19 L496.22,64.45 L496.72,64.73 L497.22,65.09 L497.72,65.58 L498.22,66.13 L498.72,66.70 L499.22,67.21 L499.72,67.71 L500.22,68.21 L500.72,68.71 L501.22,69.21 L501.72,69.71 L502.22,70.21 L502.72,70.70 L503.22,71.19 L503.72,71.68 L504.22,72.19 L504.72,72.71 L505.22,73.26 L505.72,73.82 L506.22,74.39 L506.72,74.98 L507.22,75.58 L507.72,76.19 L508.22,76.81 L508.72,77.44 L509.22,78.08 L509.72,78.74 L510.22,79.41 L510.72,80.10 L511.22,80.79 L511.72,81.50 L512.22,82.22 L512.72,82.97 L513.22,83.73 L513.72,84.49 L514.22,85.25 L514.72,86.01 L515.22,86.76 L515.72,87.50 L516.22,88.24 L516.72,88.97 L517.22,89.72 L517.72,90.48 L518.22,91.25 L518.72,92.07 L519.22,92.92 L519.72,93.76 L520.22,94.56 L520.72,95.32 L521.22,96.08 L521.72,96.81 L522.22,97.53 L522.72,98.24 L523.22,98.94 L523.72,99.62 L524.22,100.30 L524.72,100.98 L525.22,101.66 L525.72,102.34 L526.22,103.00 L526.72,103.65 L527.22,104.27 L527.72,104.85 L528.22,105.39 L528.72,105.88 L529.22,106.33 L529.72,106.77 L530.22,107.19 L530.72,107.58 L531.22,107.96 L531.72,108.31 L532.22,108.64 L532.72,108.94 L533.22,109.22 L533.72,109.49 L534.22,109.74 L534.72,109.99 L535.22,110.22 L535.72,110.43 L536.22,110.63 L536.72,110.82 L537.22,110.98 L537.72,111.13 L538.22,111.25 L538.72,111.36 L539.22,111.46 L539.72,111.55 L540.22,111.64 L540.72,111.73 L541.22,111.82 L541.72,111.91 L542.22,112.02 L542.72,112.14 L543.22,112.26 L543.72,112.37 L544.22,112.50 L544.72,112.64 L545.22,112.79 L545.72,112.97 L546.22,113.17 L546.72,113.41 L547.22,113.73 L547.72,114.10 L548.22,114.53 L548.72,114.99 L549.22,115.50 L549.72,116.04 L550.22,116.60 L550.72,117.23 L551.22,117.95 L551.72,118.75 L552.22,119.62 L552.72,120.54 L553.22,121.50 L553.72,122.49 L554.22,123.58 L554.72,124.76 L555.22,126.01 L555.72,127.28 L556.22,128.53 L556.72,129.74 L557.22,130.98 L557.72,132.23 L558.22,133.47 L558.72,134.65 L559.22,135.75 L559.72,136.79 L560.22,137.81 L560.72,138.80 L561.22,139.75 L561.72,140.63 L562.22,141.44 L562.72,142.17 L563.22,142.83 L563.72,143.46 L564.22,144.05 L564.72,144.61 L565.22,145.14 L565.72,145.64 L566.22,146.12 L566.72,146.57 L567.22,147.00 L567.72,147.41 L568.22,147.80 L568.72,148.17 L569.22,148.53 L569.72,148.88 L570.22,149.22 L570.72,149.54 L571.22,149.86 L571.72,150.17 L572.22,150.48 L572.72,150.78 L573.22,151.08 L573.72,151.38 L574.22,151.69 L574.72,151.99 L575.22,152.30 L575.72,152.61 L576.22,152.92 L576.72,153.22 L577.22,153.52 L577.72,153.82 L578.22,154.12 L578.72,154.41 L579.22,154.71 L579.72,155.00 L580.22,155.30 L580.72,155.62 L581.22,155.96 L581.72,156.32 L582.22,156.68 L582.72,157.03 L583.22,157.36 L583.72,157.65 L584.22,157.89 L584.72,158.07 L585.22,158.19 L585.72,158.29 L586.22,158.38 L586.72,158.46 L587.22,158.54 L587.72,158.60 L588.22,158.65 L588.72,158.69 L589.22,158.71 L589.72,158.71 L590.22,158.67 L590.72,158.60 L591.22,158.49 L591.72,158.36 L592.22,158.21 L592.72,158.04 L593.22,157.87 L593.72,157.70 L594.22,157.53 L594.72,157.34 L595.22,157.13 L595.72,156.91 L596.22,156.66 L596.72,156.40 L597.22,156.12 L597.72,155.84 L598.22,155.55 L598.72,155.25 L599.22,154.93 L599.72,154.60 L600.22,154.25 L600.72,153.88 L601.22,153.50 L601.72,153.10 L602.22,152.69 L602.72,152.28 L603.22,151.85 L603.72,151.41 L604.22,150.95 L604.72,150.48 L605.22,149.99 L605.72,149.48 L606.22,148.97 L606.72,148.43 L607.22,147.89 L607.72,147.34 L608.22,146.77 L608.72,146.19 L609.22,145.58 L609.72,144.96 L610.22,144.32 L610.72,143.68 L611.22,143.03 L611.72,142.37 L612.22,141.72 L612.72,141.05 L613.22,140.35 L613.72,139.63 L614.22,138.90 L614.72,138.18 L615.22,137.47 L615.72,136.78 L616.22,136.13 L616.72,135.52 L617.22,134.97 L617.72,134.48 L618.22,134.02 L618.72,133.57 L619.22,133.08 L619.72,132.53 L620.22,131.89 L620.72,131.13 L621.22,130.26 L621.72,129.31 L622.22,128.29 L622.72,127.21 L623.22,126.10 L623.72,124.97 L624.22,123.84 L624.72,122.73 L625.22,121.65 L625.72,120.63 L626.22,119.67 L626.72,118.79 L627.22,117.94 L627.72,117.08 L628.22,116.24 L628.72,115.40 L629.22,114.58 L629.72,113.79 L630.22,113.01 L630.72,112.27 L631.22,111.56 L631.72,110.89 L632.22,110.25 L632.72,109.67 L633.22,109.13 L633.72,108.61 L634.22,108.10 L634.72,107.59 L635.22,107.10 L635.72,106.63 L636.22,106.18 L636.72,105.75 L637.22,105.36 L637.72,105.00 L638.22,104.68 L638.72,104.40 L639.22,104.17 L639.72,103.99 L640.22,103.83 L640.72,103.68 L641.22,103.53 L641.72,103.39 L642.22,103.26 L642.72,103.14 L643.22,103.03 L643.72,102.93 L644.22,102.85 L644.72,102.78 L645.22,102.74 L645.72,102.71 L646.22,102.70 L646.72,102.72 L647.22,102.77 L647.72,102.86 L648.22,102.98 L648.72,103.13 L649.22,103.29 L649.72,103.47 L650.22,103.66 L650.72,103.86 L651.22,104.06 L651.72,104.26 L652.22,104.46 L652.72,104.64 L653.22,104.83 L653.72,105.02 L654.22,105.22 L654.72,105.43 L655.22,105.64 L655.72,105.86 L656.22,106.08 L656.72,106.31 L657.22,106.55 L657.72,106.78 L658.22,107.02 L658.72,107.26 L659.22,107.50 L659.72,107.74 L660.22,107.98 L660.72,108.23 L661.22,108.49 L661.72,108.75 L662.22,109.01 L662.72,109.27 L663.22,109.54 L663.72,109.80 L664.22,110.07 L664.72,110.34 L665.22,110.60 L665.72,110.87 L666.22,111.14 L666.72,111.40 L667.22,111.68 L667.72,111.95 L668.22,112.22 L668.72,112.49 L669.22,112.77 L669.72,113.04 L670.22,113.31 L670.72,113.59 L671.22,113.85 L671.72,114.12 L672.22,114.38 L672.72,114.64 L673.22,114.90 L673.72,115.15 L674.22,115.41 L674.72,115.66 L675.22,115.91 L675.72,116.15 L676.22,116.40 L676.72,116.65 L677.22,116.89 L677.72,117.14 L678.22,117.39 L678.72,117.64 L679.22,117.89 L679.72,118.14 L680.22,118.39 L680.72,118.64 L681.22,118.89 L681.72,119.14 L682.22,119.39 L682.72,119.64 L683.22,119.89 L683.72,120.14 L684.22,120.39 L684.72,120.64 L685.22,120.89 L685.72,121.14 L686.22,121.39 L686.72,121.64 L687.22,121.89 L687.72,122.14 L688.22,122.39 L688.72,122.64 L689.22,122.89 L689.72,123.14 L690.22,123.39 L690.72,123.64 L691.22,123.89 L691.72,124.14 L692.22,124.39 L692.72,124.63 L693.22,124.88 L693.72,125.13 L694.22,125.37 L694.72,125.62 L695.22,125.86 L695.72,126.11 L696.22,126.35 L696.72,126.59 L697.22,126.83 L697.72,127.08 L697.99,127.21" stroke="#2ca02c" stroke-width="2.5" stroke-linecap="square"/>
<path d="M410.22,110.65 L410.72,110.79 L411.22,110.93 L411.72,111.07 L412.22,111.20 L412.72,111.34 L413.22,111.48 L413.72,111.61 L414.22,111.75 L414.72,111.89 L415.22,112.02 L415.72,112.16 L416.22,112.29 L416.72,112.43 L417.22,112.56 L417.72,112.70 L418.22,112.83 L418.72,112.97 L419.22,113.10 L419.72,113.24 L420.22,113.37 L420.72,113.51 L421.22,113.64 L421.72,113.78 L422.22,113.91 L422.72,114.04 L423.22,114.18 L423.72,114.31 L424.22,114.44 L424.72,114.58 L425.22,114.71 L425.72,114.84 L426.22,114.97 L426.72,115.10 L427.22,115.23 L427.72,115.37 L428.22,115.50 L428.72,115.63 L429.22,115.76 L429.72,115.89 L430.22,116.02 L430.72,116.14 L431.22,116.27 L431.72,116.40 L432.22,116.53 L432.72,116.66 L433.22,116.79 L433.72,116.92 L434.22,117.04 L434.72,117.17 L435.22,117.30 L435.72,117.43 L436.22,117.56 L436.72,117.69 L437.22,117.82 L437.72,117.94 L438.22,118.07 L438.72,118.20 L439.22,118.33 L439.72,118.46 L440.22,118.59 L440.72,118.72 L441.22,118.85 L441.72,118.98 L442.22,119.11 L442.72,119.24 L443.22,119.38 L443.72,119.51 L444.22,119.64 L444.72,119.77 L445.22,119.91 L445.72,120.04 L446.22,120.18 L446.72,120.31 L447.22,120.45 L447.72,120.58 L448.22,120.72 L448.72,120.85 L449.22,120.99 L449.72,121.12 L450.22,121.26 L450.72,121.40 L451.22,121.53 L451.72,121.67 L452.22,121.81 L452.72,121.94 L453.22,122.08 L453.72,122.22 L454.22,122.36 L454.72,122.50 L455.22,122.63 L455.72,122.77 L456.22,122.91 L456.72,123.05 L457.22,123.19 L457.72,123.33 L458.22,123.47 L458.72,123.61 L459.22,123.75 L459.72,123.89 L460.22,124.03 L460.72,124.17 L461.22,124.31 L461.72,124.46 L462.22,124.62 L462.72,124.80 L463.22,124.99 L463.72,125.18 L464.22,125.37 L464.72,125.55 L465.22,125.73 L465.72,125.89 L466.22,126.03 L466.72,126.15 L467.22,126.24 L467.72,126.30 L468.22,126.32 L468.72,125.80 L469.22,124.18 L469.72,121.70 L470.22,118.60 L470.72,115.13 L471.22,111.52 L471.72,108.03 L472.22,104.89 L472.72,102.35 L473.22,100.34 L473.72,98.50 L474.22,96.61 L474.72,94.48 L475.22,92.20 L475.72,89.81 L476.22,87.33 L476.72,84.67 L477.22,81.92 L477.72,79.27 L478.22,76.79 L478.72,74.38 L479.22,72.12 L479.72,70.02 L480.22,67.99 L480.72,66.14 L481.22,64.63 L481.72,63.39 L482.22,62.32 L482.72,61.48 L483.22,60.91 L483.72,60.41 L484.22,59.99 L484.72,59.69 L485.22,59.53 L485.72,59.45 L486.22,59.38 L486.72,59.34 L487.22,59.31 L487.72,59.33 L488.22,59.43 L488.72,59.61 L489.22,59.84 L489.72,60.10 L490.22,60.44 L490.72,60.92 L491.22,61.48 L491.72,62.06 L492.22,62.63 L492.72,63.27 L493.22,63.95 L493.72,64.60 L494.22,65.17 L494.72,65.64 L495.22,66.09 L495.72,66.50 L496.22,66.89 L496.72,67.24 L497.22,67.55 L497.72,67.84 L498.22,68.10 L498.72,68.34 L499.22,68.58 L499.72,68.81 L500.22,69.04 L500.72,69.29 L501.22,69.54 L501.72,69.79 L502.22,70.04 L502.72,70.29 L503.22,70.54 L503.72,70.79 L504.22,71.04 L504.72,71.29 L505.22,71.54 L505.72,71.80 L506.22,72.05 L506.72,72.30 L507.22,72.54 L507.72,72.76 L508.22,72.94 L508.72,73.10 L509.22,73.29 L509.72,73.55 L510.22,73.91 L510.72,74.85 L511.22,75.43 L511.72,75.87 L512.22,76.20 L512.72,76.50 L513.22,76.80 L513.72,77.18 L514.22,77.64 L514.72,78.15 L515.22,78.68 L515.72,79.23 L516.22,79.79 L516.72,80.35 L517.22,80.90 L517.72,81.44 L518.22,81.98 L518.72,82.52 L519.22,83.08 L519.72,83.67 L520.22,84.29 L520.72,84.98 L521.22,85.75 L521.72,86.57 L522.22,87.42 L522.72,88.31 L523.22,89.20 L523.72,90.08 L524.22,90.95 L524.72,91.77 L525.22,92.55 L525.72,93.26 L526.22,93.88 L526.72,94.41 L527.22,94.83 L527.72,95.13 L528.22,95.37 L528.72,95.59 L529.22,95.77 L529.72,95.94 L530.22,96.10 L530.72,96.26 L531.22,96.42 L531.72,96.59 L532.22,96.78 L532.72,96.97 L533.22,97.17 L533.72,97.37 L534.22,97.57 L534.72,97.77 L535.22,97.97 L535.72,98.17 L536.22,98.38 L536.72,98.58 L537.22,98.78 L537.72,98.98 L538.22,99.18 L538.72,99.37 L539.22,99.57 L539.72,99.76 L540.22,99.95 L540.72,100.14 L541.22,100.34 L541.72,100.54 L542.22,100.75 L542.72,100.96 L543.22,101.17 L543.72,101.40 L544.22,101.62 L544.72,101.85 L545.22,102.09 L545.72,102.33 L546.22,102.58 L546.72,102.84 L547.22,103.11 L547.72,103.40 L548.22,103.69 L548.72,103.99 L549.22,104.30 L549.72,104.63 L550.22,104.98 L550.72,105.35 L551.22,105.75 L551.72,106.19 L552.22,106.67 L552.72,107.23 L553.22,107.86 L553.72,108.53 L554.22,109.25 L554.72,110.00 L555.22,110.77 L555.72,111.56 L556.22,112.42 L556.72,113.32 L557.22,114.25 L557.72,115.20 L558.22,116.15 L558.72,117.14 L559.22,118.17 L559.72,119.21 L560.22,120.23 L560.72,121.21 L561.22,122.11 L561.72,123.01 L562.22,123.88 L562.72,124.71 L563.22,125.47 L563.72,126.11 L564.22,126.67 L564.72,127.20 L565.22,127.71 L565.72,128.17 L566.22,128.56 L566.72,128.86 L567.22,129.06 L567.72,129.18 L568.22,129.28 L568.72,129.36 L569.22,129.43 L569.72,129.50 L570.22,129.57 L570.72,129.64 L571.22,129.72 L571.72,129.79 L572.22,129.85 L572.72,129.93 L573.22,130.01 L573.72,130.12 L574.22,130.25 L574.72,130.46 L575.22,130.75 L575.72,131.09 L576.22,131.47 L576.72,131.88 L577.22,132.29 L577.72,132.70 L578.22,133.14 L578.72,133.63 L579.22,134.14 L579.72,134.66 L580.22,135.20 L580.72,135.74 L581.22,136.26 L581.72,136.79 L582.22,137.32 L582.72,137.86 L583.22,138.42 L583.72,138.99 L584.22,139.58 L584.72,140.19 L585.22,140.85 L585.72,141.61 L586.22,142.44 L586.72,143.29 L587.22,144.11 L587.72,144.86 L588.22,145.47 L588.72,145.94 L589.22,146.37 L589.72,146.77 L590.22,147.13 L590.72,147.44 L591.22,147.70 L591.72,147.90 L592.22,148.05 L592.72,148.19 L593.22,148.31 L593.72,148.43 L594.22,148.53 L594.72,148.62 L595.22,148.69 L595.72,148.76 L596.22,148.82 L596.72,148.87 L597.22,148.92 L597.72,148.96 L598.22,149.00 L598.72,149.03 L599.22,149.07 L599.72,149.10 L600.22,149.13 L600.72,149.16 L601.22,149.18 L601.72,149.21 L602.22,149.24 L602.72,149.26 L603.22,149.29 L603.72,149.32 L604.22,149.35 L604.72,149.39 L605.22,149.42 L605.72,149.45 L606.22,149.49 L606.72,149.52 L607.22,149.54 L607.72,149.57 L608.22,149.59 L608.72,149.61 L609.22,149.62 L609.72,149.63 L610.22,149.63 L610.72,149.62 L611.22,149.62 L611.72,149.60 L612.22,149.59 L612.72,149.57 L613.22,149.55 L613.72,149.52 L614.22,149.49 L614.72,149.46 L615.22,149.43 L615.72,149.40 L616.22,149.35 L616.72,149.29 L617.22,149.21 L617.72,149.12 L618.22,149.02 L618.72,148.90 L619.22,148.77 L619.72,148.63 L620.22,148.49 L620.72,148.29 L621.22,148.03 L621.72,147.72 L622.22,147.39 L622.72,147.05 L623.22,146.72 L623.72,146.43 L624.22,146.20 L624.72,146.02 L625.22,145.87 L625.72,145.73 L626.22,145.60 L626.72,145.46 L627.22,145.30 L627.72,145.10 L628.22,144.84 L628.72,144.51 L629.22,144.10 L629.72,143.63 L630.22,143.13 L630.72,142.59 L631.22,142.04 L631.72,141.48 L632.22,140.94 L632.72,140.43 L633.22,139.95 L633.72,139.48 L634.22,139.02 L634.72,138.57 L635.22,138.11 L635.72,137.65 L636.22,137.20 L636.72,136.75 L637.22,136.30 L637.72,135.85 L638.22,135.40 L638.72,134.95 L639.22,134.50 L639.72,134.06 L640.22,133.61 L640.72,133.16 L641.22,132.72 L641.72,132.27 L642.22,131.83 L642.72,131.38 L643.22,130.94 L643.72,130.49 L644.22,130.04 L644.72,129.60 L645.22,129.15 L645.72,128.70 L646.22,128.25 L646.72,127.80 L647.22,127.34 L647.72,126.87 L648.22,126.40 L648.72,125.92 L649.22,125.45 L649.72,124.97 L650.22,124.48 L650.72,124.00 L651.22,123.52 L651.72,123.04 L652.22,122.56 L652.72,122.08 L653.22,121.61 L653.72,121.14 L654.22,120.68 L654.72,120.22 L655.22,119.77 L655.72,119.33 L656.22,118.90 L656.72,118.47 L657.22,118.06 L657.72,117.66 L658.22,117.27 L658.72,116.89 L659.22,116.53 L659.72,116.18 L660.22,115.83 L660.72,115.49 L661.22,115.16 L661.72,114.84 L662.22,114.52 L662.72,114.21 L663.22,113.91 L663.72,113.62 L664.22,113.35 L664.72,113.08 L665.22,112.83 L665.72,112.60 L666.22,112.37 L666.72,112.15 L667.22,111.93 L667.72,111.72 L668.22,111.51 L668.72,111.31 L669.22,111.12 L669.72,110.94 L670.22,110.76 L670.72,110.60 L671.22,110.46 L671.72,110.33 L672.22,110.21 L672.72,110.11 L673.22,110.01 L673.72,109.91 L674.22,109.81 L674.72,109.71 L675.22,109.62 L675.72,109.54 L676.22,109.47 L676.72,109.40 L677.22,109.34 L677.72,109.30 L678.22,109.27 L678.72,109.25 L679.22,109.25 L679.72,109.25 L680.22,109.25 L680.72,109.25 L681.22,109.25 L681.72,109.25 L682.22,109.25 L682.72,109.25 L683.22,109.25 L683.72,109.25 L684.22,109.25 L684.72,109.25 L685.22,109.25 L685.72,109.25 L686.22,109.26 L686.72,109.28 L687.22,109.32 L687.72,109.36 L688.22,109.41 L688.72,109.46 L689.22,109.52 L689.72,109.59 L690.22,109.65 L690.72,109.72 L691.22,109.79 L691.72,109.86 L692.22,109.92 L692.72,109.99 L693.22,110.06 L693.72,110.14 L694.22,110.22 L694.72,110.31 L695.22,110.40 L695.72,110.49 L696.22,110.59 L696.72,110.69 L697.22,110.79 L697.72,110.90 L697.99,110.95" stroke="#d62728" stroke-width="2.5" stroke-linecap="square"/>
<path d="M410.22,111.86 L410.72,111.97 L411.22,112.09 L411.72,112.20 L412.22,112.32 L412.72,112.43 L413.22,112.55 L413.72,112.66 L414.22,112.78 L414.72,112.89 L415.22,113.01 L415.72,113.12 L416.22,113.24 L416.72,113.35 L417.22,113.47 L417.72,113.58 L418.22,113.70 L418.72,113.81 L419.22,113.93 L419.72,114.04 L420.22,114.16 L420.72,114.27 L421.22,114.39 L421.72,114.50 L422.22,114.62 L422.72,114.73 L423.22,114.85 L423.72,114.96 L424.22,115.08 L424.72,115.19 L425.22,115.31 L425.72,115.42 L426.22,115.54 L426.72,115.65 L427.22,115.77 L427.72,115.88 L428.22,116.00 L428.72,116.12 L429.22,116.23 L429.72,116.35 L430.22,116.46 L430.72,116.58 L431.22,116.70 L431.72,116.81 L432.22,116.93 L432.72,117.05 L433.22,117.16 L433.72,117.28 L434.22,117.40 L434.72,117.51 L435.22,117.63 L435.72,117.75 L436.22,117.86 L436.72,117.98 L437.22,118.09 L437.72,118.21 L438.22,118.32 L438.72,118.44 L439.22,118.55 L439.72,118.67 L440.22,118.78 L440.72,118.90 L441.22,119.01 L441.72,119.12 L442.22,119.24 L442.72,119.35 L443.22,119.46 L443.72,119.57 L444.22,119.68 L444.72,119.79 L445.22,119.91 L445.72,120.02 L446.22,120.13 L446.72,120.23 L447.22,120.34 L447.72,120.45 L448.22,120.56 L448.72,120.67 L449.22,120.78 L449.72,120.89 L450.22,120.99 L450.72,121.10 L451.22,121.21 L451.72,121.32 L452.22,121.42 L452.72,121.53 L453.22,121.64 L453.72,121.74 L454.22,121.85 L454.72,121.95 L455.22,122.06 L455.72,122.16 L456.22,122.27 L456.72,122.37 L457.22,122.48 L457.72,122.58 L458.22,122.69 L458.72,122.79 L459.22,122.89 L459.72,123.00 L460.22,123.10 L460.72,123.20 L461.22,123.30 L461.72,123.41 L462.22,123.53 L462.72,123.66 L463.22,123.79 L463.72,123.92 L464.22,124.06 L464.72,124.18 L465.22,124.30 L465.72,124.42 L466.22,124.51 L466.72,124.59 L467.22,124.66 L467.72,124.70 L468.22,124.71 L468.72,124.13 L469.22,122.33 L469.72,119.62 L470.22,116.28 L470.72,112.61 L471.22,108.92 L471.72,105.49 L472.22,102.64 L472.72,100.48 L473.22,98.62 L473.72,96.77 L474.22,94.73 L474.72,92.49 L475.22,90.13 L475.72,87.68 L476.22,85.08 L476.72,82.34 L477.22,79.64 L477.72,77.12 L478.22,74.69 L478.72,72.37 L479.22,70.22 L479.72,68.17 L480.22,66.25 L480.72,64.61 L481.22,63.32 L481.72,62.18 L482.22,61.26 L482.72,60.63 L483.22,60.11 L483.72,59.66 L484.22,59.32 L484.72,59.11 L485.22,59.02 L485.72,58.95 L486.22,58.90 L486.72,58.86 L487.22,58.86 L487.72,58.93 L488.22,59.09 L488.72,59.31 L489.22,59.56 L489.72,59.86 L490.22,60.30 L490.72,60.84 L491.22,61.42 L491.72,61.99 L492.22,62.61 L492.72,63.28 L493.22,63.94 L493.72,64.54 L494.22,65.04 L494.72,65.50 L495.22,65.92 L495.72,66.31 L496.22,66.67 L496.72,67.00 L497.22,67.30 L497.72,67.57 L498.22,67.81 L498.72,68.05 L499.22,68.28 L499.72,68.51 L500.22,68.76 L500.72,69.01 L501.22,69.26 L501.72,69.51 L502.22,69.76 L502.72,70.01 L503.22,70.26 L503.72,70.51 L504.22,70.75 L504.72,70.99 L505.22,71.23 L505.72,71.47 L506.22,71.72 L506.72,71.99 L507.22,72.27 L507.72,72.56 L508.22,72.86 L508.72,73.18 L509.22,73.51 L509.72,73.87 L510.22,74.27 L510.72,74.71 L511.22,75.21 L511.72,75.78 L512.22,76.38 L512.72,77.01 L513.22,77.65 L513.72,78.29 L514.22,78.92 L514.72,79.56 L515.22,80.23 L515.72,80.90 L516.22,81.58 L516.72,82.26 L517.22,82.95 L517.72,83.63 L518.22,84.32 L518.72,85.01 L519.22,85.71 L519.72,86.43 L520.22,87.17 L520.72,87.96 L521.22,88.79 L521.72,89.66 L522.22,90.54 L522.72,91.41 L523.22,92.25 L523.72,93.05 L524.22,93.79 L524.72,94.45 L525.22,95.00 L525.72,95.48 L526.22,95.92 L526.72,96.33 L527.22,96.70 L527.72,97.06 L528.22,97.40 L528.72,97.72 L529.22,98.05 L529.72,98.38 L530.22,98.71 L530.72,99.05 L531.22,99.37 L531.72,99.69 L532.22,100.01 L532.72,100.32 L533.22,100.62 L533.72,100.91 L534.22,101.19 L534.72,101.45 L535.22,101.71 L535.72,101.95 L536.22,102.17 L536.72,102.39 L537.22,102.59 L537.72,102.79 L538.22,102.98 L538.72,103.17 L539.22,103.36 L539.72,103.55 L540.22,103.74 L540.72,103.93 L541.22,104.13 L541.72,104.32 L542.22,104.51 L542.72,104.69 L543.22,104.87 L543.72,105.05 L544.22,105.23 L544.72,105.42 L545.22,105.63 L545.72,105.84 L546.22,106.07 L546.72,106.32 L547.22,106.59 L547.72,106.88 L548.22,107.19 L548.72,107.53 L549.22,107.89 L549.72,108.28 L550.22,108.70 L550.72,109.15 L551.22,109.65 L551.72,110.22 L552.22,110.85 L552.72,111.53 L553.22,112.26 L553.72,113.02 L554.22,113.82 L554.72,114.70 L555.22,115.67 L555.72,116.71 L556.22,117.78 L556.72,118.83 L557.22,119.84 L557.72,120.87 L558.22,121.90 L558.72,122.93 L559.22,123.92 L559.72,124.86 L560.22,125.76 L560.72,126.66 L561.22,127.54 L561.72,128.35 L562.22,129.07 L562.72,129.67 L563.22,130.22 L563.72,130.76 L564.22,131.25 L564.72,131.63 L565.22,131.86 L565.72,131.90 L566.22,131.85 L566.72,131.78 L567.22,131.66 L567.72,131.53 L568.22,131.38 L568.72,131.17 L569.22,130.80 L569.72,130.33 L570.22,129.84 L570.72,129.39 L571.22,129.05 L571.72,128.78 L572.22,128.50 L572.72,128.26 L573.22,128.06 L573.72,127.95 L574.22,127.93 L574.72,127.95 L575.22,128.01 L575.72,128.09 L576.22,128.19 L576.72,128.30 L577.22,128.43 L577.72,128.59 L578.22,128.87 L578.72,129.24 L579.22,129.69 L579.72,130.19 L580.22,130.70 L580.72,131.21 L581.22,131.70 L581.72,132.23 L582.22,132.79 L582.72,133.37 L583.22,133.96 L583.72,134.56 L584.22,135.14 L584.72,135.70 L585.22,136.24 L585.72,136.78 L586.22,137.33 L586.72,137.88 L587.22,138.41 L587.72,138.93 L588.22,139.42 L588.72,139.88 L589.22,140.30 L589.72,140.68 L590.22,141.03 L590.72,141.37 L591.22,141.69 L591.72,142.00 L592.22,142.28 L592.72,142.55 L593.22,142.79 L593.72,143.01 L594.22,143.21 L594.72,143.39 L595.22,143.56 L595.72,143.71 L596.22,143.86 L596.72,144.00 L597.22,144.13 L597.72,144.25 L598.22,144.38 L598.72,144.50 L599.22,144.62 L599.72,144.74 L600.22,144.86 L600.72,144.98 L601.22,145.10 L601.72,145.21 L602.22,145.32 L602.72,145.44 L603.22,145.55 L603.72,145.65 L604.22,145.76 L604.72,145.86 L605.22,145.96 L605.72,146.06 L606.22,146.16 L606.72,146.25 L607.22,146.35 L607.72,146.46 L608.22,146.57 L608.72,146.68 L609.22,146.79 L609.72,146.90 L610.22,147.00 L610.72,147.09 L611.22,147.18 L611.72,147.25 L612.22,147.30 L612.72,147.34 L613.22,147.36 L613.72,147.36 L614.22,147.36 L614.72,147.36 L615.22,147.36 L615.72,147.36 L616.22,147.36 L616.72,147.36 L617.22,147.36 L617.72,147.36 L618.22,147.36 L618.72,147.36 L619.22,147.36 L619.72,147.34 L620.22,147.30 L620.72,147.25 L621.22,147.18 L621.72,147.11 L622.22,147.03 L622.72,146.94 L623.22,146.85 L623.72,146.77 L624.22,146.69 L624.72,146.60 L625.22,146.51 L625.72,146.41 L626.22,146.30 L626.72,146.19 L627.22,146.07 L627.72,145.94 L628.22,145.80 L628.72,145.66 L629.22,145.50 L629.72,145.32 L630.22,145.14 L630.72,144.93 L631.22,144.66 L631.72,144.33 L632.22,143.94 L632.72,143.51 L633.22,143.06 L633.72,142.58 L634.22,142.10 L634.72,141.62 L635.22,141.15 L635.72,140.71 L636.22,140.29 L636.72,139.86 L637.22,139.44 L637.72,139.01 L638.22,138.57 L638.72,138.14 L639.22,137.71 L639.72,137.27 L640.22,136.83 L640.72,136.39 L641.22,135.95 L641.72,135.51 L642.22,135.07 L642.72,134.63 L643.22,134.19 L643.72,133.75 L644.22,133.30 L644.72,132.86 L645.22,132.41 L645.72,131.97 L646.22,131.53 L646.72,131.08 L647.22,130.63 L647.72,130.18 L648.22,129.72 L648.72,129.26 L649.22,128.80 L649.72,128.34 L650.22,127.87 L650.72,127.40 L651.22,126.94 L651.72,126.47 L652.22,126.01 L652.72,125.54 L653.22,125.08 L653.72,124.62 L654.22,124.16 L654.72,123.70 L655.22,123.25 L655.72,122.80 L656.22,122.36 L656.72,121.92 L657.22,121.49 L657.72,121.06 L658.22,120.64 L658.72,120.22 L659.22,119.82 L659.72,119.41 L660.22,119.01 L660.72,118.59 L661.22,118.18 L661.72,117.78 L662.22,117.38 L662.72,116.98 L663.22,116.60 L663.72,116.24 L664.22,115.89 L664.72,115.56 L665.22,115.25 L665.72,114.97 L666.22,114.71 L666.72,114.46 L667.22,114.22 L667.72,113.98 L668.22,113.76 L668.72,113.55 L669.22,113.34 L669.72,113.15 L670.22,112.96 L670.72,112.78 L671.22,112.62 L671.72,112.46 L672.22,112.32 L672.72,112.19 L673.22,112.06 L673.72,111.93 L674.22,111.80 L674.72,111.69 L675.22,111.57 L675.72,111.46 L676.22,111.36 L676.72,111.27 L677.22,111.18 L677.72,111.10 L678.22,111.04 L678.72,110.98 L679.22,110.93 L679.72,110.89 L680.22,110.84 L680.72,110.80 L681.22,110.76 L681.72,110.72 L682.22,110.68 L682.72,110.65 L683.22,110.62 L683.72,110.60 L684.22,110.58 L684.72,110.57 L685.22,110.56 L685.72,110.56 L686.22,110.57 L686.72,110.58 L687.22,110.60 L687.72,110.62 L688.22,110.65 L688.72,110.69 L689.22,110.72 L689.72,110.76 L690.22,110.80 L690.72,110.84 L691.22,110.88 L691.72,110.92 L692.22,110.96 L692.72,111.01 L693.22,111.05 L693.72,111.10 L694.22,111.15 L694.72,111.20 L695.22,111.26 L695.72,111.32 L696.22,111.38 L696.72,111.44 L697.22,111.51 L697.72,111.57 L697.99,111.61" stroke="#9467bd" stroke-width="2.5" stroke-linecap="square"/>
</g>
<rect x="410.05" y="15.5" width="287.90" height="170.95" fill="none" stroke="#1c1c1c" stroke-width="1"/>
<line x1="410.05" y1="186.45" x2="410.05" y2="189.64999999999998" stroke="#000" stroke-width="0.9"/>
<text transform="translate(410.05,203.45) scale(1.0,1)" font-size="14.3" text-anchor="middle" fill="#000" stroke="#000" stroke-width="0.3" >0.0</text>
<line x1="482.03" y1="186.45" x2="482.03" y2="189.64999999999998" stroke="#000" stroke-width="0.9"/>
<text transform="translate(482.03,203.45) scale(1.0,1)" font-size="14.3" text-anchor="middle" fill="#000" stroke="#000" stroke-width="0.3" >0.2</text>
<line x1="554.00" y1="186.45" x2="554.00" y2="189.64999999999998" stroke="#000" stroke-width="0.9"/>
<text transform="translate(554.00,203.45) scale(1.0,1)" font-size="14.3" text-anchor="middle" fill="#000" stroke="#000" stroke-width="0.3" >0.4</text>
<line x1="625.98" y1="186.45" x2="625.98" y2="189.64999999999998" stroke="#000" stroke-width="0.9"/>
<text transform="translate(625.98,203.45) scale(1.0,1)" font-size="14.3" text-anchor="middle" fill="#000" stroke="#000" stroke-width="0.3" >0.6</text>
<line x1="697.95" y1="186.45" x2="697.95" y2="189.64999999999998" stroke="#000" stroke-width="0.9"/>
<text transform="translate(697.95,203.45) scale(1.0,1)" font-size="14.3" text-anchor="middle" fill="#000" stroke="#000" stroke-width="0.3" >0.8</text>
<line x1="410.05" y1="157.55" x2="406.85" y2="157.55" stroke="#000" stroke-width="0.9"/>
<text transform="translate(403.55,162.55) scale(1.0,1)" font-size="14.3" text-anchor="end" fill="#000" stroke="#000" stroke-width="0.3" >−50</text>
<line x1="410.05" y1="121.75" x2="406.85" y2="121.75" stroke="#000" stroke-width="0.9"/>
<text transform="translate(403.55,126.75) scale(1.0,1)" font-size="14.3" text-anchor="end" fill="#000" stroke="#000" stroke-width="0.3" >0</text>
<line x1="410.05" y1="85.95" x2="406.85" y2="85.95" stroke="#000" stroke-width="0.9"/>
<text transform="translate(403.55,90.95) scale(1.0,1)" font-size="14.3" text-anchor="end" fill="#000" stroke="#000" stroke-width="0.3" >50</text>
<line x1="410.05" y1="50.15" x2="406.85" y2="50.15" stroke="#000" stroke-width="0.9"/>
<text transform="translate(403.55,55.15) scale(1.0,1)" font-size="14.3" text-anchor="end" fill="#000" stroke="#000" stroke-width="0.3" >100</text>
<g clip-path="url(#cBL)" fill="none" stroke-linejoin="round">
<path d="M80.69,345.30 L81.19,345.79 L81.69,346.27 L82.19,346.73 L82.69,347.18 L83.19,347.62 L83.69,348.03 L84.19,348.42 L84.69,348.79 L85.19,349.14 L85.69,349.46 L86.19,349.76 L86.69,350.04 L87.19,350.31 L87.69,350.57 L88.19,350.82 L88.69,351.06 L89.19,351.28 L89.69,351.50 L90.19,351.70 L90.69,351.88 L91.19,352.05 L91.69,352.20 L92.19,352.34 L92.69,352.46 L93.19,352.57 L93.69,352.67 L94.19,352.77 L94.69,352.86 L95.19,352.94 L95.69,353.02 L96.19,353.10 L96.69,353.18 L97.19,353.25 L97.69,353.32 L98.19,353.40 L98.69,353.48 L99.19,353.56 L99.69,353.64 L100.19,353.73 L100.69,353.83 L101.19,353.92 L101.69,354.01 L102.19,354.10 L102.69,354.20 L103.19,354.29 L103.69,354.38 L104.19,354.48 L104.69,354.58 L105.19,354.68 L105.69,354.78 L106.19,354.88 L106.69,354.99 L107.19,355.10 L107.69,355.22 L108.19,355.33 L108.69,355.46 L109.19,355.60 L109.69,355.75 L110.19,355.91 L110.69,356.07 L111.19,356.24 L111.69,356.41 L112.19,356.58 L112.69,356.75 L113.19,356.92 L113.69,357.08 L114.19,357.23 L114.69,357.38 L115.19,357.51 L115.69,357.63 L116.19,357.74 L116.69,357.84 L117.19,357.94 L117.69,358.04 L118.19,358.13 L118.69,358.21 L119.19,358.27 L119.69,358.30 L120.19,358.30 L120.69,358.30 L121.19,358.28 L121.69,358.25 L122.19,358.22 L122.69,358.17 L123.19,358.13 L123.69,358.07 L124.19,358.01 L124.69,357.94 L125.19,357.83 L125.69,357.67 L126.19,357.45 L126.69,357.19 L127.19,356.89 L127.69,356.56 L128.19,356.19 L128.69,355.80 L129.19,355.37 L129.69,354.82 L130.19,354.11 L130.69,353.27 L131.19,352.35 L131.69,351.38 L132.19,350.38 L132.69,349.40 L133.19,348.33 L133.69,347.19 L134.19,345.99 L134.69,344.77 L135.19,343.54 L135.69,342.33 L136.19,341.16 L136.69,340.01 L137.19,338.86 L137.69,337.70 L138.19,336.54 L138.69,335.36 L139.19,334.17 L139.69,332.95 L140.19,331.71 L140.69,330.45 L141.19,329.19 L141.69,327.93 L142.19,326.71 L142.69,325.50 L143.19,324.27 L143.69,322.97 L144.19,321.56 L144.69,320.02 L145.19,318.39 L145.69,316.73 L146.19,315.08 L146.69,313.48 L147.19,311.98 L147.69,310.60 L148.19,309.30 L148.69,308.06 L149.19,306.86 L149.69,305.68 L150.19,304.53 L150.69,303.40 L151.19,302.30 L151.69,301.22 L152.19,300.16 L152.69,299.11 L153.19,298.04 L153.69,296.97 L154.19,295.92 L154.69,294.90 L155.19,293.95 L155.69,293.07 L156.19,292.26 L156.69,291.50 L157.19,290.77 L157.69,290.08 L158.19,289.44 L158.69,288.85 L159.19,288.31 L159.69,287.82 L160.19,287.34 L160.69,286.90 L161.19,286.51 L161.69,286.18 L162.19,285.92 L162.69,285.69 L163.19,285.47 L163.69,285.28 L164.19,285.13 L164.69,285.05 L165.19,285.04 L165.69,285.04 L166.19,285.04 L166.69,285.04 L167.19,285.04 L167.69,285.04 L168.19,285.09 L168.69,285.30 L169.19,285.62 L169.69,286.02 L170.19,286.46 L170.69,286.90 L171.19,287.41 L171.69,288.02 L172.19,288.72 L172.69,289.47 L173.19,290.26 L173.69,291.06 L174.19,291.86 L174.69,292.67 L175.19,293.51 L175.69,294.39 L176.19,295.33 L176.69,296.33 L177.19,297.44 L177.69,298.74 L178.19,300.16 L178.69,301.62 L179.19,303.03 L179.69,304.31 L180.19,305.38 L180.69,306.31 L181.19,307.17 L181.69,307.98 L182.19,308.75 L182.69,309.52 L183.19,310.32 L183.69,311.15 L184.19,311.99 L184.69,312.84 L185.19,313.68 L185.69,314.52 L186.19,315.35 L186.69,316.15 L187.19,316.94 L187.69,317.72 L188.19,318.49 L188.69,319.25 L189.19,320.00 L189.69,320.74 L190.19,321.48 L190.69,322.20 L191.19,322.93 L191.69,323.64 L192.19,324.36 L192.69,325.08 L193.19,325.79 L193.69,326.50 L194.19,327.19 L194.69,327.87 L195.19,328.52 L195.69,329.15 L196.19,329.76 L196.69,330.35 L197.19,330.91 L197.69,331.45 L198.19,331.98 L198.69,332.50 L199.19,333.02 L199.69,333.52 L200.19,334.03 L200.69,334.53 L201.19,335.04 L201.69,335.55 L202.19,336.08 L202.69,336.62 L203.19,337.17 L203.69,337.74 L204.19,338.34 L204.69,338.96 L205.19,339.61 L205.69,340.27 L206.19,340.93 L206.69,341.59 L207.19,342.24 L207.69,342.87 L208.19,343.49 L208.69,344.08 L209.19,344.65 L209.69,345.22 L210.19,345.78 L210.69,346.34 L211.19,346.90 L211.69,347.47 L212.19,348.05 L212.69,348.66 L213.19,349.28 L213.69,349.94 L214.19,350.64 L214.69,351.39 L215.19,352.19 L215.69,353.02 L216.19,353.86 L216.69,354.70 L217.19,355.53 L217.69,356.32 L218.19,357.06 L218.69,357.75 L219.19,358.37 L219.69,358.98 L220.19,359.58 L220.69,360.15 L221.19,360.69 L221.69,361.21 L222.19,361.70 L222.69,362.15 L223.19,362.56 L223.69,362.94 L224.19,363.29 L224.69,363.63 L225.19,363.95 L225.69,364.25 L226.19,364.54 L226.69,364.81 L227.19,365.07 L227.69,365.31 L228.19,365.54 L228.69,365.75 L229.19,365.95 L229.69,366.14 L230.19,366.31 L230.69,366.48 L231.19,366.64 L231.69,366.80 L232.19,366.95 L232.69,367.10 L233.19,367.27 L233.69,367.45 L234.19,367.62 L234.69,367.77 L235.19,367.88 L235.69,367.93 L236.19,367.93 L236.69,367.90 L237.19,367.84 L237.69,367.75 L238.19,367.65 L238.69,367.53 L239.19,367.39 L239.69,367.25 L240.19,367.10 L240.69,366.94 L241.19,366.74 L241.69,366.50 L242.19,366.21 L242.69,365.90 L243.19,365.56 L243.69,365.19 L244.19,364.81 L244.69,364.41 L245.19,364.00 L245.69,363.53 L246.19,363.01 L246.69,362.44 L247.19,361.84 L247.69,361.21 L248.19,360.57 L248.69,359.93 L249.19,359.29 L249.69,358.68 L250.19,358.09 L250.69,357.49 L251.19,356.90 L251.69,356.30 L252.19,355.71 L252.69,355.13 L253.19,354.57 L253.69,354.03 L254.19,353.50 L254.69,352.99 L255.19,352.48 L255.69,351.99 L256.19,351.50 L256.69,351.02 L257.19,350.54 L257.69,350.07 L258.19,349.58 L258.69,349.09 L259.19,348.61 L259.69,348.13 L260.19,347.66 L260.69,347.21 L261.19,346.78 L261.69,346.38 L262.19,346.02 L262.69,345.69 L263.19,345.38 L263.69,345.09 L264.19,344.81 L264.69,344.55 L265.19,344.30 L265.69,344.07 L266.19,343.86 L266.69,343.67 L267.19,343.49 L267.69,343.33 L268.19,343.18 L268.69,343.04 L269.19,342.90 L269.69,342.78 L270.19,342.66 L270.69,342.56 L271.19,342.47 L271.69,342.39 L272.19,342.32 L272.69,342.25 L273.19,342.18 L273.69,342.11 L274.19,342.05 L274.69,341.99 L275.19,341.94 L275.69,341.90 L276.19,341.87 L276.69,341.85 L277.19,341.84 L277.69,341.84 L278.19,341.84 L278.69,341.84 L279.19,341.84 L279.69,341.84 L280.19,341.84 L280.69,341.84 L281.19,341.84 L281.69,341.84 L282.19,341.84 L282.69,341.84 L283.19,341.84 L283.69,341.84 L284.19,341.84 L284.69,341.84 L285.19,341.84 L285.69,341.84 L286.19,341.84 L286.69,341.84 L287.19,341.84 L287.69,341.84 L288.19,341.84 L288.69,341.84 L289.19,341.84 L289.69,341.84 L290.19,341.84 L290.69,341.84 L291.19,341.85 L291.69,341.88 L292.19,341.93 L292.69,342.00 L293.19,342.09 L293.69,342.19 L294.19,342.31 L294.69,342.43 L295.19,342.56 L295.69,342.70 L296.19,342.83 L296.69,342.96 L297.19,343.09 L297.69,343.21 L298.19,343.33 L298.69,343.46 L299.19,343.60 L299.69,343.75 L300.19,343.90 L300.69,344.05 L301.19,344.19 L301.69,344.33 L302.19,344.45 L302.69,344.56 L303.19,344.65 L303.69,344.73 L304.19,344.79 L304.69,344.84 L305.19,344.89 L305.69,344.93 L306.19,344.97 L306.69,345.01 L307.19,345.05 L307.69,345.10 L308.19,345.15 L308.69,345.20 L309.19,345.27 L309.69,345.34 L310.19,345.41 L310.69,345.49 L311.19,345.58 L311.69,345.67 L312.19,345.77 L312.69,345.87 L313.19,345.98 L313.69,346.11 L314.19,346.24 L314.69,346.38 L315.19,346.54 L315.69,346.76 L316.19,347.00 L316.69,347.27 L317.19,347.56 L317.69,347.84 L318.19,348.12 L318.69,348.39 L319.19,348.62 L319.69,348.84 L320.19,349.07 L320.69,349.30 L321.19,349.52 L321.69,349.73 L322.19,349.92 L322.69,350.09 L323.19,350.23 L323.69,350.34 L324.19,350.42 L324.69,350.49 L325.19,350.56 L325.69,350.62 L326.19,350.68 L326.69,350.74 L327.19,350.79 L327.69,350.83 L328.19,350.86 L328.69,350.89 L329.19,350.91 L329.69,350.92 L330.04,350.93" stroke="#1f77b4" stroke-width="3.6" stroke-dasharray="13.10 5.62 13.10 5.16 13.10 5.44 13.10 5.44 13.10 5.44 13.10 5.58 13.10 5.58 13.10 7.61 13.10 7.67 13.10 5.19 13.10 5.19 13.10 5.83 13.10 6.63 13.10 3.47 13.10 4.01 13.10 5.31 13.10 6.00 13.10 7.67 13.10 5.80"/>
<path d="M65.22,354.94 L65.72,355.02 L66.22,355.10 L66.72,355.18 L67.22,355.26 L67.72,355.33 L68.22,355.41 L68.72,355.48 L69.22,355.56 L69.72,355.63 L70.22,355.70 L70.72,355.76 L71.22,355.83 L71.72,355.89 L72.22,355.95 L72.72,356.01 L73.22,356.07 L73.72,356.12 L74.22,356.17 L74.72,356.22 L75.22,356.27 L75.72,356.31 L76.22,356.35 L76.72,356.40 L77.22,356.44 L77.72,356.48 L78.22,356.52 L78.72,356.56 L79.22,356.60 L79.72,356.64 L80.22,356.68 L80.72,356.72 L81.22,356.75 L81.72,356.79 L82.22,356.82 L82.72,356.85 L83.22,356.87 L83.72,356.89 L84.22,356.91 L84.72,356.93 L85.22,356.94 L85.72,356.94 L86.22,356.94 L86.72,356.94 L87.22,356.94 L87.72,356.94 L88.22,356.94 L88.72,356.94 L89.22,356.94 L89.72,356.94 L90.22,356.94 L90.72,356.94 L91.22,356.94 L91.72,356.94 L92.22,356.94 L92.72,356.94 L93.22,356.94 L93.72,356.94 L94.22,356.94 L94.72,356.94 L95.22,356.94 L95.72,356.94 L96.22,356.94 L96.72,356.94 L97.22,356.92 L97.72,356.90 L98.22,356.87 L98.72,356.83 L99.22,356.79 L99.72,356.74 L100.22,356.68 L100.72,356.62 L101.22,356.56 L101.72,356.50 L102.22,356.43 L102.72,356.37 L103.22,356.30 L103.72,356.23 L104.22,356.17 L104.72,356.11 L105.22,356.05 L105.72,355.99 L106.22,355.94 L106.72,355.88 L107.22,355.83 L107.72,355.77 L108.22,355.70 L108.72,355.64 L109.22,355.57 L109.72,355.51 L110.22,355.44 L110.72,355.38 L111.22,355.31 L111.72,355.25 L112.22,355.19 L112.72,355.14 L113.22,355.09 L113.72,355.05 L114.22,355.01 L114.72,354.98 L115.22,354.96 L115.72,354.94 L116.22,354.94 L116.72,354.94 L117.22,354.94 L117.72,354.94 L118.22,354.94 L118.72,354.94 L119.22,354.94 L119.72,354.94 L120.22,354.94 L120.72,354.94 L121.22,354.94 L121.72,354.94 L122.22,354.94 L122.72,354.94 L123.22,354.94 L123.72,354.94 L124.22,354.94 L124.72,354.94 L125.22,354.94 L125.72,354.94 L126.22,354.94 L126.72,354.92 L127.22,354.85 L127.72,354.74 L128.22,354.60 L128.72,354.44 L129.22,354.26 L129.72,354.08 L130.22,353.87 L130.72,353.60 L131.22,353.26 L131.72,352.83 L132.22,352.26 L132.72,351.30 L133.22,349.59 L133.72,345.34 L134.22,340.45 L134.72,335.83 L135.22,331.34 L135.72,327.51 L136.22,324.08 L136.72,320.98 L137.22,318.19 L137.72,315.40 L138.22,312.51 L138.72,309.65 L139.22,306.93 L139.72,304.47 L140.22,302.38 L140.72,300.75 L141.22,299.44 L141.72,298.30 L142.22,297.29 L142.72,296.34 L143.22,295.42 L143.72,294.55 L144.22,293.73 L144.72,292.96 L145.22,292.23 L145.72,291.53 L146.22,290.90 L146.72,290.31 L147.22,289.75 L147.72,289.21 L148.22,288.65 L148.72,288.07 L149.22,287.44 L149.72,286.70 L150.22,285.91 L150.72,285.12 L151.22,284.41 L151.72,283.83 L152.22,283.41 L152.72,283.02 L153.22,282.70 L153.72,282.55 L154.22,282.62 L154.72,282.89 L155.22,283.29 L155.72,283.76 L156.22,284.31 L156.72,285.08 L157.22,286.00 L157.72,286.93 L158.22,287.77 L158.72,288.53 L159.22,289.26 L159.72,289.99 L160.22,290.75 L160.72,291.58 L161.22,292.49 L161.72,293.42 L162.22,294.31 L162.72,295.08 L163.22,295.75 L163.72,296.37 L164.22,296.95 L164.72,297.49 L165.22,298.02 L165.72,298.54 L166.22,299.06 L166.72,299.59 L167.22,300.13 L167.72,300.70 L168.22,301.26 L168.72,301.82 L169.22,302.38 L169.72,302.95 L170.22,303.51 L170.72,304.07 L171.22,304.63 L171.72,305.20 L172.22,305.75 L172.72,306.28 L173.22,306.80 L173.72,307.32 L174.22,307.85 L174.72,308.39 L175.22,308.97 L175.72,309.58 L176.22,310.24 L176.72,310.98 L177.22,311.83 L177.72,312.77 L178.22,313.74 L178.72,314.71 L179.22,315.64 L179.72,316.50 L180.22,317.24 L180.72,317.91 L181.22,318.54 L181.72,319.14 L182.22,319.73 L182.72,320.31 L183.22,320.90 L183.72,321.51 L184.22,322.12 L184.72,322.74 L185.22,323.35 L185.72,323.96 L186.22,324.54 L186.72,325.11 L187.22,325.65 L187.72,326.18 L188.22,326.70 L188.72,327.21 L189.22,327.71 L189.72,328.20 L190.22,328.68 L190.72,329.16 L191.22,329.63 L191.72,330.09 L192.22,330.55 L192.72,331.00 L193.22,331.44 L193.72,331.88 L194.22,332.31 L194.72,332.74 L195.22,333.16 L195.72,333.58 L196.22,333.99 L196.72,334.35 L197.22,334.69 L197.72,335.02 L198.22,335.36 L198.72,335.72 L199.22,336.12 L199.72,336.58 L200.22,337.10 L200.72,337.75 L201.22,338.63 L201.72,339.73 L202.22,341.00 L202.72,342.41 L203.22,343.90 L203.72,345.45 L204.22,347.01 L204.72,348.55 L205.22,350.01 L205.72,351.46 L206.22,352.96 L206.72,354.48 L207.22,356.01 L207.72,357.51 L208.22,359.01 L208.72,360.51 L209.22,362.01 L209.72,363.51 L210.22,365.01 L210.72,366.51 L211.22,368.01 L211.72,369.51 L212.22,371.01 L212.72,372.55 L213.22,374.09 L213.72,375.60 L214.22,377.03 L214.72,378.38 L215.22,379.69 L215.72,380.94 L216.22,382.13 L216.72,383.26 L217.22,384.34 L217.72,385.37 L218.22,386.35 L218.72,387.26 L219.22,388.11 L219.72,388.93 L220.22,389.70 L220.72,390.40 L221.22,391.00 L221.72,391.59 L222.22,392.15 L222.72,392.61 L223.22,392.88 L223.72,392.96 L224.22,393.01 L224.72,393.04 L225.22,393.07 L225.72,393.09 L226.22,393.11 L226.72,393.14 L227.22,393.17 L227.72,393.20 L228.22,393.24 L228.72,393.27 L229.22,393.30 L229.72,393.33 L230.22,393.35 L230.72,393.36 L231.22,393.37 L231.72,393.37 L232.22,393.34 L232.72,393.31 L233.22,393.26 L233.72,393.20 L234.22,393.13 L234.72,393.07 L235.22,393.00 L235.72,392.94 L236.22,392.87 L236.72,392.81 L237.22,392.75 L237.72,392.68 L238.22,392.60 L238.72,392.53 L239.22,392.45 L239.72,392.36 L240.22,392.27 L240.72,392.18 L241.22,392.07 L241.72,391.96 L242.22,391.84 L242.72,391.72 L243.22,391.59 L243.72,391.45 L244.22,391.31 L244.72,391.17 L245.22,391.02 L245.72,390.87 L246.22,390.72 L246.72,390.56 L247.22,390.40 L247.72,390.22 L248.22,390.04 L248.72,389.84 L249.22,389.63 L249.72,389.41 L250.22,389.16 L250.72,388.88 L251.22,388.58 L251.72,388.27 L252.22,387.94 L252.72,387.59 L253.22,387.24 L253.72,386.86 L254.22,386.46 L254.72,386.04 L255.22,385.61 L255.72,385.16 L256.22,384.71 L256.72,384.25 L257.22,383.77 L257.72,383.27 L258.22,382.76 L258.72,382.25 L259.22,381.73 L259.72,381.22 L260.22,380.71 L260.72,380.22 L261.22,379.73 L261.72,379.25 L262.22,378.75 L262.72,378.24 L263.22,377.71 L263.72,377.15 L264.22,376.55 L264.72,375.90 L265.22,375.15 L265.72,374.32 L266.22,373.48 L266.72,372.71 L267.22,371.97 L267.72,371.23 L268.22,370.48 L268.72,369.72 L269.22,368.93 L269.72,368.14 L270.22,367.33 L270.72,366.52 L271.22,365.71 L271.72,364.92 L272.22,364.13 L272.72,363.34 L273.22,362.55 L273.72,361.75 L274.22,360.92 L274.72,360.07 L275.22,359.19 L275.72,358.30 L276.22,357.39 L276.72,356.46 L277.22,355.52 L277.72,354.56 L278.22,353.59 L278.72,352.60 L279.22,351.58 L279.72,350.54 L280.22,349.47 L280.72,348.33 L281.22,347.13 L281.72,345.89 L282.22,344.63 L282.72,343.38 L283.22,342.14 L283.72,340.95 L284.22,339.82 L284.72,338.77 L285.22,337.82 L285.72,336.95 L286.22,336.12 L286.72,335.33 L287.22,334.59 L287.72,333.89 L288.22,333.23 L288.72,332.62 L289.22,332.04 L289.72,331.49 L290.22,330.97 L290.72,330.48 L291.22,330.02 L291.72,329.59 L292.22,329.18 L292.72,328.79 L293.22,328.42 L293.72,328.06 L294.22,327.73 L294.72,327.43 L295.22,327.17 L295.72,326.95 L296.22,326.73 L296.72,326.52 L297.22,326.33 L297.72,326.16 L298.22,326.04 L298.72,325.96 L299.22,325.91 L299.72,325.87 L300.22,325.84 L300.72,325.80 L301.22,325.78 L301.72,325.75 L302.22,325.74 L302.72,325.73 L303.22,325.72 L303.72,325.72 L304.22,325.74 L304.72,325.77 L305.22,325.82 L305.72,325.87 L306.22,325.93 L306.72,326.00 L307.22,326.07 L307.72,326.15 L308.22,326.23 L308.72,326.34 L309.22,326.48 L309.72,326.63 L310.22,326.81 L310.72,326.99 L311.22,327.18 L311.72,327.38 L312.22,327.57 L312.72,327.75 L313.22,327.95 L313.72,328.15 L314.22,328.36 L314.72,328.58 L315.22,328.80 L315.72,329.02 L316.22,329.24 L316.72,329.46 L317.22,329.68 L317.72,329.90 L318.22,330.12 L318.72,330.33 L319.22,330.55 L319.72,330.78 L320.22,331.00 L320.72,331.24 L321.22,331.47 L321.72,331.72 L322.22,331.97 L322.72,332.23 L323.22,332.50 L323.72,332.77 L324.22,333.05 L324.72,333.33 L325.22,333.62 L325.72,333.91 L326.22,334.21 L326.72,334.52 L327.22,334.84 L327.72,335.16 L328.22,335.49 L328.72,335.83 L329.22,336.17 L329.72,336.51 L330.22,336.86 L330.72,337.20 L331.22,337.55 L331.72,337.89 L332.22,338.24 L332.72,338.59 L333.22,338.94 L333.72,339.31 L334.22,339.67 L334.72,340.05 L335.22,340.43 L335.72,340.83 L336.22,341.23 L336.72,341.65 L337.22,342.09 L337.72,342.54 L338.22,343.02 L338.72,343.51 L339.22,344.01 L339.72,344.52 L340.22,345.03 L340.72,345.56 L341.22,346.09 L341.72,346.61 L342.22,347.14 L342.72,347.67 L343.22,348.20 L343.72,348.73 L344.22,349.27 L344.72,349.82 L345.22,350.36 L345.72,350.92 L346.22,351.47 L346.72,352.04 L347.22,352.60 L347.72,353.17 L348.22,353.74 L348.72,354.31 L349.22,354.89 L349.72,355.48 L350.22,356.07 L350.72,356.66 L351.22,357.26 L351.72,357.87 L352.22,358.47 L352.40,358.69" stroke="#ff7f0e" stroke-width="2.25" stroke-linecap="square"/>
<path d="M65.22,354.94 L65.72,355.02 L66.22,355.10 L66.72,355.18 L67.22,355.26 L67.72,355.33 L68.22,355.41 L68.72,355.48 L69.22,355.56 L69.72,355.63 L70.22,355.70 L70.72,355.76 L71.22,355.83 L71.72,355.89 L72.22,355.95 L72.72,356.01 L73.22,356.07 L73.72,356.12 L74.22,356.17 L74.72,356.22 L75.22,356.27 L75.72,356.31 L76.22,356.35 L76.72,356.40 L77.22,356.44 L77.72,356.48 L78.22,356.52 L78.72,356.56 L79.22,356.60 L79.72,356.64 L80.22,356.68 L80.72,356.72 L81.22,356.75 L81.72,356.79 L82.22,356.82 L82.72,356.85 L83.22,356.87 L83.72,356.89 L84.22,356.91 L84.72,356.93 L85.22,356.94 L85.72,356.94 L86.22,356.94 L86.72,356.94 L87.22,356.94 L87.72,356.94 L88.22,356.94 L88.72,356.94 L89.22,356.94 L89.72,356.94 L90.22,356.94 L90.72,356.94 L91.22,356.94 L91.72,356.94 L92.22,356.94 L92.72,356.94 L93.22,356.94 L93.72,356.94 L94.22,356.94 L94.72,356.94 L95.22,356.94 L95.72,356.94 L96.22,356.94 L96.72,356.94 L97.22,356.92 L97.72,356.90 L98.22,356.87 L98.72,356.83 L99.22,356.79 L99.72,356.74 L100.22,356.68 L100.72,356.62 L101.22,356.56 L101.72,356.50 L102.22,356.43 L102.72,356.37 L103.22,356.30 L103.72,356.23 L104.22,356.17 L104.72,356.11 L105.22,356.05 L105.72,355.99 L106.22,355.94 L106.72,355.88 L107.22,355.83 L107.72,355.77 L108.22,355.71 L108.72,355.64 L109.22,355.58 L109.72,355.51 L110.22,355.45 L110.72,355.38 L111.22,355.32 L111.72,355.26 L112.22,355.20 L112.72,355.15 L113.22,355.10 L113.72,355.06 L114.22,355.02 L114.72,354.99 L115.22,354.96 L115.72,354.94 L116.22,354.94 L116.72,354.93 L117.22,354.93 L117.72,354.93 L118.22,354.93 L118.72,354.92 L119.22,354.92 L119.72,354.92 L120.22,354.92 L120.72,354.92 L121.22,354.92 L121.72,354.92 L122.22,354.92 L122.72,354.92 L123.22,354.92 L123.72,354.91 L124.22,354.91 L124.72,354.91 L125.22,354.91 L125.72,354.91 L126.22,354.90 L126.72,354.90 L127.22,354.87 L127.72,354.77 L128.22,354.62 L128.72,354.42 L129.22,354.20 L129.72,353.95 L130.22,353.71 L130.72,353.47 L131.22,353.25 L131.72,353.06 L132.22,352.89 L132.72,352.73 L133.22,352.56 L133.72,352.37 L134.22,352.14 L134.72,351.86 L135.22,351.49 L135.72,350.98 L136.22,350.24 L136.72,348.99 L137.22,346.38 L137.72,343.36 L138.22,339.83 L138.72,336.24 L139.22,333.00 L139.72,329.90 L140.22,327.01 L140.72,324.30 L141.22,321.75 L141.72,319.46 L142.22,317.40 L142.72,315.41 L143.22,313.48 L143.72,311.62 L144.22,309.84 L144.72,308.13 L145.22,306.52 L145.72,304.99 L146.22,303.56 L146.72,302.24 L147.22,301.02 L147.72,299.92 L148.22,298.92 L148.72,298.01 L149.22,297.16 L149.72,296.35 L150.22,295.56 L150.72,294.77 L151.22,293.99 L151.72,293.24 L152.22,292.55 L152.72,291.95 L153.22,291.44 L153.72,290.93 L154.22,290.45 L154.72,290.09 L155.22,289.93 L155.72,289.95 L156.22,290.04 L156.72,290.18 L157.22,290.35 L157.72,290.55 L158.22,290.89 L158.72,291.37 L159.22,291.94 L159.72,292.54 L160.22,293.12 L160.72,293.66 L161.22,294.20 L161.72,294.77 L162.22,295.34 L162.72,295.92 L163.22,296.50 L163.72,297.07 L164.22,297.64 L164.72,298.19 L165.22,298.72 L165.72,299.24 L166.22,299.76 L166.72,300.27 L167.22,300.78 L167.72,301.28 L168.22,301.77 L168.72,302.25 L169.22,302.72 L169.72,303.18 L170.22,303.61 L170.72,304.01 L171.22,304.41 L171.72,304.81 L172.22,305.22 L172.72,305.65 L173.22,306.13 L173.72,306.65 L174.22,307.23 L174.72,307.86 L175.22,308.52 L175.72,309.22 L176.22,309.95 L176.72,310.69 L177.22,311.47 L177.72,312.33 L178.22,313.24 L178.72,314.16 L179.22,315.07 L179.72,315.92 L180.22,316.69 L180.72,317.41 L181.22,318.10 L181.72,318.76 L182.22,319.41 L182.72,320.04 L183.22,320.67 L183.72,321.29 L184.22,321.90 L184.72,322.50 L185.22,323.08 L185.72,323.66 L186.22,324.22 L186.72,324.77 L187.22,325.31 L187.72,325.84 L188.22,326.35 L188.72,326.86 L189.22,327.36 L189.72,327.85 L190.22,328.34 L190.72,328.82 L191.22,329.29 L191.72,329.75 L192.22,330.21 L192.72,330.67 L193.22,331.11 L193.72,331.55 L194.22,331.99 L194.72,332.41 L195.22,332.83 L195.72,333.24 L196.22,333.64 L196.72,334.03 L197.22,334.41 L197.72,334.78 L198.22,335.15 L198.72,335.51 L199.22,335.88 L199.72,336.25 L200.22,336.62 L200.72,337.00 L201.22,337.35 L201.72,337.69 L202.22,338.06 L202.72,338.49 L203.22,339.00 L203.72,339.71 L204.22,340.68 L204.72,341.78 L205.22,342.91 L205.72,343.96 L206.22,344.93 L206.72,345.88 L207.22,346.85 L207.72,347.87 L208.22,349.00 L208.72,350.26 L209.22,351.81 L209.72,353.56 L210.22,355.32 L210.72,356.99 L211.22,358.66 L211.72,360.32 L212.22,361.99 L212.72,363.66 L213.22,365.32 L213.72,366.99 L214.22,368.70 L214.72,370.43 L215.22,372.07 L215.72,373.52 L216.22,374.88 L216.72,376.15 L217.22,377.33 L217.72,378.41 L218.22,379.41 L218.72,380.33 L219.22,381.18 L219.72,381.98 L220.22,382.71 L220.72,383.41 L221.22,384.06 L221.72,384.65 L222.22,385.17 L222.72,385.64 L223.22,386.10 L223.72,386.49 L224.22,386.79 L224.72,386.95 L225.22,387.06 L225.72,387.14 L226.22,387.20 L226.72,387.26 L227.22,387.33 L227.72,387.42 L228.22,387.56 L228.72,387.78 L229.22,388.04 L229.72,388.26 L230.22,388.38 L230.72,388.44 L231.22,388.49 L231.72,388.53 L232.22,388.56 L232.72,388.59 L233.22,388.60 L233.72,388.60 L234.22,388.58 L234.72,388.55 L235.22,388.49 L235.72,388.42 L236.22,388.35 L236.72,388.26 L237.22,388.18 L237.72,388.10 L238.22,388.02 L238.72,387.95 L239.22,387.86 L239.72,387.77 L240.22,387.68 L240.72,387.59 L241.22,387.50 L241.72,387.41 L242.22,387.32 L242.72,387.23 L243.22,387.16 L243.72,387.09 L244.22,387.02 L244.72,386.96 L245.22,386.89 L245.72,386.82 L246.22,386.74 L246.72,386.66 L247.22,386.56 L247.72,386.44 L248.22,386.31 L248.72,386.15 L249.22,385.98 L249.72,385.79 L250.22,385.59 L250.72,385.39 L251.22,385.15 L251.72,384.89 L252.22,384.61 L252.72,384.31 L253.22,384.00 L253.72,383.69 L254.22,383.38 L254.72,383.07 L255.22,382.75 L255.72,382.43 L256.22,382.09 L256.72,381.74 L257.22,381.39 L257.72,381.01 L258.22,380.58 L258.72,380.13 L259.22,379.66 L259.72,379.21 L260.22,378.81 L260.72,378.46 L261.22,378.19 L261.72,377.96 L262.22,377.76 L262.72,377.59 L263.22,377.43 L263.72,377.27 L264.22,377.11 L264.72,376.94 L265.22,376.75 L265.72,376.52 L266.22,376.26 L266.72,375.94 L267.22,375.46 L267.72,374.81 L268.22,374.08 L268.72,373.34 L269.22,372.67 L269.72,372.06 L270.22,371.48 L270.72,370.89 L271.22,370.30 L271.72,369.69 L272.22,369.05 L272.72,368.39 L273.22,367.70 L273.72,367.00 L274.22,366.28 L274.72,365.55 L275.22,364.80 L275.72,364.02 L276.22,363.23 L276.72,362.43 L277.22,361.60 L277.72,360.76 L278.22,359.90 L278.72,359.03 L279.22,358.13 L279.72,357.22 L280.22,356.29 L280.72,355.34 L281.22,354.40 L281.72,353.44 L282.22,352.45 L282.72,351.43 L283.22,350.36 L283.72,349.21 L284.22,347.91 L284.72,346.52 L285.22,345.07 L285.72,343.61 L286.22,342.17 L286.72,340.80 L287.22,339.55 L287.72,338.46 L288.22,337.55 L288.72,336.74 L289.22,336.00 L289.72,335.32 L290.22,334.69 L290.72,334.10 L291.22,333.56 L291.72,333.04 L292.22,332.56 L292.72,332.10 L293.22,331.67 L293.72,331.27 L294.22,330.91 L294.72,330.57 L295.22,330.26 L295.72,329.96 L296.22,329.67 L296.72,329.41 L297.22,329.17 L297.72,328.96 L298.22,328.80 L298.72,328.65 L299.22,328.51 L299.72,328.37 L300.22,328.25 L300.72,328.14 L301.22,328.06 L301.72,328.01 L302.22,327.99 L302.72,327.99 L303.22,327.99 L303.72,327.99 L304.22,327.99 L304.72,327.99 L305.22,327.99 L305.72,327.99 L306.22,327.99 L306.72,327.99 L307.22,328.00 L307.72,328.05 L308.22,328.11 L308.72,328.20 L309.22,328.30 L309.72,328.41 L310.22,328.53 L310.72,328.65 L311.22,328.77 L311.72,328.89 L312.22,329.02 L312.72,329.17 L313.22,329.32 L313.72,329.49 L314.22,329.67 L314.72,329.85 L315.22,330.03 L315.72,330.21 L316.22,330.40 L316.72,330.59 L317.22,330.79 L317.72,330.99 L318.22,331.20 L318.72,331.42 L319.22,331.64 L319.72,331.87 L320.22,332.11 L320.72,332.36 L321.22,332.62 L321.72,332.90 L322.22,333.18 L322.72,333.48 L323.22,333.78 L323.72,334.08 L324.22,334.38 L324.72,334.68 L325.22,334.97 L325.72,335.27 L326.22,335.56 L326.72,335.86 L327.22,336.15 L327.72,336.45 L328.22,336.75 L328.72,337.06 L329.22,337.36 L329.72,337.67 L330.22,337.98 L330.72,338.29 L331.22,338.60 L331.72,338.90 L332.22,339.21 L332.72,339.52 L333.22,339.83 L333.72,340.15 L334.22,340.47 L334.72,340.80 L335.22,341.14 L335.72,341.49 L336.22,341.85 L336.72,342.22 L337.22,342.61 L337.72,343.03 L338.22,343.46 L338.72,343.90 L339.22,344.36 L339.72,344.83 L340.22,345.30 L340.72,345.77 L341.22,346.24 L341.72,346.71 L342.22,347.17 L342.72,347.62 L343.22,348.07 L343.72,348.52 L344.22,348.97 L344.72,349.41 L345.22,349.86 L345.72,350.31 L346.22,350.76 L346.72,351.21 L347.22,351.66 L347.72,352.12 L348.22,352.57 L348.72,353.03 L349.22,353.49 L349.72,353.94 L350.22,354.40 L350.72,354.87 L351.22,355.33 L351.72,355.79 L352.22,356.26 L352.40,356.42" stroke="#2ca02c" stroke-width="2.25" stroke-linecap="square"/>
<path d="M65.22,334.25 L65.72,334.42 L66.22,334.59 L66.72,334.77 L67.22,334.94 L67.72,335.11 L68.22,335.28 L68.72,335.45 L69.22,335.62 L69.72,335.79 L70.22,335.96 L70.72,336.13 L71.22,336.30 L71.72,336.47 L72.22,336.64 L72.72,336.81 L73.22,336.98 L73.72,337.15 L74.22,337.32 L74.72,337.49 L75.22,337.65 L75.72,337.82 L76.22,337.99 L76.72,338.16 L77.22,338.32 L77.72,338.49 L78.22,338.65 L78.72,338.82 L79.22,338.99 L79.72,339.15 L80.22,339.32 L80.72,339.48 L81.22,339.64 L81.72,339.80 L82.22,339.97 L82.72,340.13 L83.22,340.29 L83.72,340.45 L84.22,340.61 L84.72,340.77 L85.22,340.93 L85.72,341.08 L86.22,341.24 L86.72,341.40 L87.22,341.56 L87.72,341.71 L88.22,341.87 L88.72,342.03 L89.22,342.18 L89.72,342.34 L90.22,342.50 L90.72,342.66 L91.22,342.81 L91.72,342.97 L92.22,343.13 L92.72,343.29 L93.22,343.44 L93.72,343.60 L94.22,343.76 L94.72,343.92 L95.22,344.08 L95.72,344.24 L96.22,344.40 L96.72,344.56 L97.22,344.73 L97.72,344.89 L98.22,345.05 L98.72,345.22 L99.22,345.38 L99.72,345.55 L100.22,345.71 L100.72,345.88 L101.22,346.04 L101.72,346.20 L102.22,346.35 L102.72,346.50 L103.22,346.65 L103.72,346.80 L104.22,346.94 L104.72,347.09 L105.22,347.23 L105.72,347.38 L106.22,347.52 L106.72,347.67 L107.22,347.82 L107.72,347.97 L108.22,348.12 L108.72,348.28 L109.22,348.44 L109.72,348.60 L110.22,348.77 L110.72,348.94 L111.22,349.12 L111.72,349.31 L112.22,349.50 L112.72,349.70 L113.22,349.90 L113.72,350.11 L114.22,350.34 L114.72,350.57 L115.22,350.80 L115.72,351.05 L116.22,351.31 L116.72,351.63 L117.22,352.02 L117.72,352.46 L118.22,352.93 L118.72,353.39 L119.22,353.81 L119.72,354.17 L120.22,354.44 L120.72,354.68 L121.22,354.89 L121.72,355.09 L122.22,355.27 L122.72,355.44 L123.22,355.60 L123.72,355.76 L124.22,355.93 L124.72,356.10 L125.22,356.29 L125.72,356.50 L126.22,356.70 L126.72,356.89 L127.22,357.04 L127.72,357.14 L128.22,357.17 L128.72,356.76 L129.22,355.79 L129.72,354.46 L130.22,351.84 L130.72,347.65 L131.22,343.61 L131.72,339.49 L132.22,335.64 L132.72,332.29 L133.22,329.12 L133.72,325.85 L134.22,322.24 L134.72,318.86 L135.22,316.18 L135.72,313.64 L136.22,311.21 L136.72,308.91 L137.22,306.75 L137.72,304.75 L138.22,302.93 L138.72,301.31 L139.22,299.90 L139.72,298.72 L140.22,297.75 L140.72,296.91 L141.22,296.17 L141.72,295.50 L142.22,294.87 L142.72,294.24 L143.22,293.61 L143.72,292.98 L144.22,292.38 L144.72,291.80 L145.22,291.26 L145.72,290.74 L146.22,290.26 L146.72,289.80 L147.22,289.35 L147.72,288.92 L148.22,288.52 L148.72,288.16 L149.22,287.85 L149.72,287.61 L150.22,287.39 L150.72,287.19 L151.22,286.99 L151.72,286.83 L152.22,286.71 L152.72,286.64 L153.22,286.63 L153.72,286.67 L154.22,286.73 L154.72,286.82 L155.22,286.93 L155.72,287.05 L156.22,287.18 L156.72,287.37 L157.22,287.61 L157.72,287.87 L158.22,288.16 L158.72,288.46 L159.22,288.75 L159.72,289.05 L160.22,289.35 L160.72,289.68 L161.22,290.01 L161.72,290.36 L162.22,290.72 L162.72,291.08 L163.22,291.46 L163.72,291.86 L164.22,292.27 L164.72,292.69 L165.22,293.11 L165.72,293.54 L166.22,293.97 L166.72,294.39 L167.22,294.80 L167.72,295.20 L168.22,295.60 L168.72,296.00 L169.22,296.39 L169.72,296.78 L170.22,297.18 L170.72,297.58 L171.22,297.98 L171.72,298.40 L172.22,298.81 L172.72,299.20 L173.22,299.60 L173.72,299.99 L174.22,300.40 L174.72,300.82 L175.22,301.28 L175.72,301.77 L176.22,302.31 L176.72,302.95 L177.22,303.74 L177.72,304.62 L178.22,305.56 L178.72,306.48 L179.22,307.34 L179.72,308.07 L180.22,308.64 L180.72,309.15 L181.22,309.61 L181.72,310.03 L182.22,310.43 L182.72,310.80 L183.22,311.16 L183.72,311.52 L184.22,311.87 L184.72,312.22 L185.22,312.59 L185.72,312.98 L186.22,313.39 L186.72,313.80 L187.22,314.21 L187.72,314.63 L188.22,315.04 L188.72,315.45 L189.22,315.86 L189.72,316.26 L190.22,316.65 L190.72,317.03 L191.22,317.39 L191.72,317.75 L192.22,318.10 L192.72,318.45 L193.22,318.79 L193.72,319.12 L194.22,319.45 L194.72,319.77 L195.22,320.08 L195.72,320.38 L196.22,320.67 L196.72,320.95 L197.22,321.22 L197.72,321.48 L198.22,321.72 L198.72,321.96 L199.22,322.18 L199.72,322.40 L200.22,322.62 L200.72,322.84 L201.22,323.06 L201.72,323.28 L202.22,323.51 L202.72,323.74 L203.22,323.97 L203.72,324.20 L204.22,324.42 L204.72,324.64 L205.22,324.87 L205.72,325.11 L206.22,325.38 L206.72,325.67 L207.22,325.99 L207.72,326.35 L208.22,326.76 L208.72,327.22 L209.22,327.72 L209.72,328.27 L210.22,328.86 L210.72,329.50 L211.22,330.22 L211.72,331.05 L212.22,331.95 L212.72,332.93 L213.22,333.95 L213.72,335.02 L214.22,336.20 L214.72,337.46 L215.22,338.78 L215.72,340.09 L216.22,341.39 L216.72,342.72 L217.22,344.06 L217.72,345.42 L218.22,346.78 L218.72,348.14 L219.22,349.49 L219.72,350.86 L220.22,352.27 L220.72,353.62 L221.22,354.77 L221.72,355.81 L222.22,356.77 L222.72,357.62 L223.22,358.32 L223.72,358.88 L224.22,359.40 L224.72,359.86 L225.22,360.26 L225.72,360.57 L226.22,360.79 L226.72,360.92 L227.22,361.02 L227.72,361.09 L228.22,361.17 L228.72,361.27 L229.22,361.40 L229.72,361.59 L230.22,361.81 L230.72,362.09 L231.22,362.41 L231.72,362.82 L232.22,363.36 L232.72,364.01 L233.22,364.74 L233.72,365.52 L234.22,366.49 L234.72,367.58 L235.22,368.59 L235.72,369.43 L236.22,370.22 L236.72,370.96 L237.22,371.66 L237.72,372.33 L238.22,372.99 L238.72,373.63 L239.22,374.24 L239.72,374.82 L240.22,375.35 L240.72,375.85 L241.22,376.32 L241.72,376.77 L242.22,377.20 L242.72,377.61 L243.22,377.98 L243.72,378.32 L244.22,378.63 L244.72,378.93 L245.22,379.21 L245.72,379.47 L246.22,379.72 L246.72,379.96 L247.22,380.18 L247.72,380.40 L248.22,380.60 L248.72,380.80 L249.22,380.99 L249.72,381.18 L250.22,381.37 L250.72,381.54 L251.22,381.71 L251.72,381.86 L252.22,381.99 L252.72,382.10 L253.22,382.19 L253.72,382.28 L254.22,382.37 L254.72,382.45 L255.22,382.52 L255.72,382.59 L256.22,382.64 L256.72,382.68 L257.22,382.70 L257.72,382.70 L258.22,382.69 L258.72,382.67 L259.22,382.65 L259.72,382.62 L260.22,382.59 L260.72,382.56 L261.22,382.52 L261.72,382.48 L262.22,382.43 L262.72,382.39 L263.22,382.35 L263.72,382.30 L264.22,382.25 L264.72,382.19 L265.22,382.13 L265.72,382.06 L266.22,381.99 L266.72,381.91 L267.22,381.83 L267.72,381.75 L268.22,381.66 L268.72,381.58 L269.22,381.49 L269.72,381.39 L270.22,381.30 L270.72,381.19 L271.22,381.08 L271.72,380.97 L272.22,380.85 L272.72,380.73 L273.22,380.60 L273.72,380.47 L274.22,380.33 L274.72,380.18 L275.22,380.03 L275.72,379.87 L276.22,379.71 L276.72,379.53 L277.22,379.34 L277.72,379.15 L278.22,378.94 L278.72,378.72 L279.22,378.48 L279.72,378.23 L280.22,377.97 L280.72,377.69 L281.22,377.38 L281.72,377.03 L282.22,376.66 L282.72,376.27 L283.22,375.85 L283.72,375.41 L284.22,374.95 L284.72,374.48 L285.22,374.00 L285.72,373.50 L286.22,373.00 L286.72,372.49 L287.22,371.98 L287.72,371.47 L288.22,370.96 L288.72,370.45 L289.22,369.95 L289.72,369.44 L290.22,368.91 L290.72,368.38 L291.22,367.83 L291.72,367.27 L292.22,366.71 L292.72,366.15 L293.22,365.60 L293.72,365.04 L294.22,364.49 L294.72,363.92 L295.22,363.36 L295.72,362.80 L296.22,362.23 L296.72,361.66 L297.22,361.10 L297.72,360.54 L298.22,359.97 L298.72,359.41 L299.22,358.85 L299.72,358.29 L300.22,357.72 L300.72,357.16 L301.22,356.60 L301.72,356.04 L302.22,355.47 L302.72,354.91 L303.22,354.35 L303.72,353.79 L304.22,353.22 L304.72,352.66 L305.22,352.10 L305.72,351.54 L306.22,350.97 L306.72,350.41 L307.22,349.85 L307.72,349.28 L308.22,348.70 L308.72,348.13 L309.22,347.56 L309.72,346.99 L310.22,346.43 L310.72,345.88 L311.22,345.34 L311.72,344.81 L312.22,344.28 L312.72,343.75 L313.22,343.23 L313.72,342.72 L314.22,342.22 L314.72,341.73 L315.22,341.27 L315.72,340.82 L316.22,340.39 L316.72,339.97 L317.22,339.56 L317.72,339.17 L318.22,338.78 L318.72,338.41 L319.22,338.06 L319.72,337.72 L320.22,337.41 L320.72,337.10 L321.22,336.81 L321.72,336.52 L322.22,336.24 L322.72,335.97 L323.22,335.72 L323.72,335.49 L324.22,335.28 L324.72,335.10 L325.22,334.94 L325.72,334.80 L326.22,334.68 L326.72,334.56 L327.22,334.45 L327.72,334.35 L328.22,334.25 L328.72,334.16 L329.22,334.06 L329.72,333.96 L330.22,333.86 L330.72,333.74 L331.22,333.62 L331.72,333.49 L332.22,333.36 L332.72,333.23 L333.22,333.11 L333.72,332.99 L334.22,332.88 L334.72,332.78 L335.22,332.70 L335.72,332.64 L336.22,332.60 L336.72,332.59 L337.22,332.59 L337.72,332.59 L338.22,332.59 L338.72,332.59 L339.22,332.59 L339.72,332.59 L340.22,332.59 L340.72,332.59 L341.22,332.59 L341.72,332.59 L342.22,332.59 L342.72,332.59 L343.22,332.61 L343.72,332.64 L344.22,332.68 L344.72,332.73 L345.22,332.79 L345.72,332.85 L346.22,332.92 L346.72,332.98 L347.22,333.05 L347.72,333.11 L348.22,333.17 L348.72,333.23 L349.22,333.29 L349.72,333.36 L350.22,333.42 L350.72,333.49 L351.22,333.56 L351.72,333.63 L352.22,333.70 L352.40,333.72" stroke="#d62728" stroke-width="2.25" stroke-linecap="square"/>
<path d="M65.22,336.26 L65.72,336.39 L66.22,336.52 L66.72,336.65 L67.22,336.78 L67.72,336.91 L68.22,337.04 L68.72,337.17 L69.22,337.30 L69.72,337.43 L70.22,337.57 L70.72,337.70 L71.22,337.83 L71.72,337.97 L72.22,338.10 L72.72,338.24 L73.22,338.37 L73.72,338.51 L74.22,338.64 L74.72,338.78 L75.22,338.92 L75.72,339.05 L76.22,339.19 L76.72,339.33 L77.22,339.47 L77.72,339.61 L78.22,339.75 L78.72,339.89 L79.22,340.03 L79.72,340.17 L80.22,340.31 L80.72,340.46 L81.22,340.60 L81.72,340.74 L82.22,340.89 L82.72,341.03 L83.22,341.18 L83.72,341.33 L84.22,341.48 L84.72,341.63 L85.22,341.78 L85.72,341.93 L86.22,342.08 L86.72,342.23 L87.22,342.38 L87.72,342.53 L88.22,342.68 L88.72,342.83 L89.22,342.99 L89.72,343.14 L90.22,343.29 L90.72,343.44 L91.22,343.60 L91.72,343.75 L92.22,343.90 L92.72,344.06 L93.22,344.21 L93.72,344.36 L94.22,344.51 L94.72,344.67 L95.22,344.82 L95.72,344.97 L96.22,345.12 L96.72,345.27 L97.22,345.42 L97.72,345.57 L98.22,345.72 L98.72,345.87 L99.22,346.02 L99.72,346.17 L100.22,346.32 L100.72,346.46 L101.22,346.62 L101.72,346.77 L102.22,346.93 L102.72,347.09 L103.22,347.25 L103.72,347.41 L104.22,347.58 L104.72,347.74 L105.22,347.91 L105.72,348.08 L106.22,348.24 L106.72,348.41 L107.22,348.57 L107.72,348.73 L108.22,348.89 L108.72,349.05 L109.22,349.21 L109.72,349.36 L110.22,349.51 L110.72,349.66 L111.22,349.80 L111.72,349.94 L112.22,350.07 L112.72,350.20 L113.22,350.32 L113.72,350.43 L114.22,350.55 L114.72,350.65 L115.22,350.75 L115.72,350.83 L116.22,350.92 L116.72,350.99 L117.22,351.05 L117.72,351.10 L118.22,351.15 L118.72,351.20 L119.22,351.25 L119.72,351.30 L120.22,351.36 L120.72,351.43 L121.22,351.51 L121.72,351.62 L122.22,351.76 L122.72,351.93 L123.22,352.10 L123.72,352.27 L124.22,352.43 L124.72,352.56 L125.22,352.71 L125.72,352.87 L126.22,353.02 L126.72,353.15 L127.22,353.25 L127.72,353.30 L128.22,353.19 L128.72,352.45 L129.22,351.17 L129.72,349.51 L130.22,345.87 L130.72,341.24 L131.22,337.06 L131.72,333.02 L132.22,329.79 L132.72,327.09 L133.22,324.57 L133.72,321.99 L134.22,319.46 L134.72,317.14 L135.22,314.85 L135.72,312.54 L136.22,310.26 L136.72,308.04 L137.22,305.93 L137.72,303.97 L138.22,302.20 L138.72,300.66 L139.22,299.40 L139.72,298.42 L140.22,297.59 L140.72,296.88 L141.22,296.24 L141.72,295.64 L142.22,295.06 L142.72,294.49 L143.22,293.94 L143.72,293.42 L144.22,292.92 L144.72,292.45 L145.22,292.00 L145.72,291.57 L146.22,291.14 L146.72,290.71 L147.22,290.29 L147.72,289.90 L148.22,289.56 L148.72,289.28 L149.22,289.06 L149.72,288.87 L150.22,288.68 L150.72,288.52 L151.22,288.38 L151.72,288.28 L152.22,288.23 L152.72,288.22 L153.22,288.23 L153.72,288.25 L154.22,288.29 L154.72,288.33 L155.22,288.37 L155.72,288.43 L156.22,288.50 L156.72,288.64 L157.22,288.84 L157.72,289.07 L158.22,289.34 L158.72,289.61 L159.22,289.89 L159.72,290.18 L160.22,290.50 L160.72,290.85 L161.22,291.22 L161.72,291.61 L162.22,292.01 L162.72,292.42 L163.22,292.84 L163.72,293.25 L164.22,293.66 L164.72,294.08 L165.22,294.51 L165.72,294.95 L166.22,295.39 L166.72,295.84 L167.22,296.29 L167.72,296.74 L168.22,297.18 L168.72,297.61 L169.22,298.03 L169.72,298.44 L170.22,298.85 L170.72,299.27 L171.22,299.69 L171.72,300.14 L172.22,300.60 L172.72,301.09 L173.22,301.62 L173.72,302.20 L174.22,302.82 L174.72,303.49 L175.22,304.18 L175.72,304.89 L176.22,305.62 L176.72,306.35 L177.22,307.07 L177.72,307.79 L178.22,308.49 L178.72,309.15 L179.22,309.78 L179.72,310.37 L180.22,310.91 L180.72,311.42 L181.22,311.90 L181.72,312.36 L182.22,312.81 L182.72,313.25 L183.22,313.68 L183.72,314.10 L184.22,314.52 L184.72,314.95 L185.22,315.38 L185.72,315.83 L186.22,316.28 L186.72,316.74 L187.22,317.21 L187.72,317.68 L188.22,318.15 L188.72,318.61 L189.22,319.07 L189.72,319.52 L190.22,319.96 L190.72,320.38 L191.22,320.79 L191.72,321.18 L192.22,321.56 L192.72,321.94 L193.22,322.30 L193.72,322.65 L194.22,323.00 L194.72,323.35 L195.22,323.68 L195.72,324.01 L196.22,324.34 L196.72,324.67 L197.22,324.99 L197.72,325.30 L198.22,325.60 L198.72,325.90 L199.22,326.19 L199.72,326.47 L200.22,326.76 L200.72,327.05 L201.22,327.34 L201.72,327.64 L202.22,327.96 L202.72,328.28 L203.22,328.62 L203.72,328.96 L204.22,329.30 L204.72,329.65 L205.22,330.01 L205.72,330.39 L206.22,330.79 L206.72,331.21 L207.22,331.66 L207.72,332.14 L208.22,332.66 L208.72,333.22 L209.22,333.81 L209.72,334.43 L210.22,335.08 L210.72,335.75 L211.22,336.46 L211.72,337.22 L212.22,338.02 L212.72,338.85 L213.22,339.72 L213.72,340.61 L214.22,341.55 L214.72,342.54 L215.22,343.56 L215.72,344.61 L216.22,345.67 L216.72,346.74 L217.22,347.81 L217.72,348.86 L218.22,349.89 L218.72,350.92 L219.22,351.96 L219.72,352.94 L220.22,353.83 L220.72,354.67 L221.22,355.47 L221.72,356.18 L222.22,356.78 L222.72,357.31 L223.22,357.80 L223.72,358.25 L224.22,358.64 L224.72,358.93 L225.22,359.13 L225.72,359.28 L226.22,359.41 L226.72,359.53 L227.22,359.61 L227.72,359.65 L228.22,359.64 L228.72,359.57 L229.22,359.47 L229.72,359.34 L230.22,359.22 L230.72,359.13 L231.22,359.08 L231.72,359.16 L232.22,359.44 L232.72,359.87 L233.22,360.38 L233.72,360.92 L234.22,361.68 L234.72,362.59 L235.22,363.49 L235.72,364.28 L236.22,365.06 L236.72,365.82 L237.22,366.54 L237.72,367.22 L238.22,367.88 L238.72,368.52 L239.22,369.13 L239.72,369.71 L240.22,370.24 L240.72,370.74 L241.22,371.21 L241.72,371.67 L242.22,372.09 L242.72,372.50 L243.22,372.87 L243.72,373.21 L244.22,373.52 L244.72,373.82 L245.22,374.10 L245.72,374.37 L246.22,374.62 L246.72,374.86 L247.22,375.08 L247.72,375.29 L248.22,375.49 L248.72,375.68 L249.22,375.86 L249.72,376.04 L250.22,376.21 L250.72,376.37 L251.22,376.52 L251.72,376.65 L252.22,376.77 L252.72,376.88 L253.22,376.96 L253.72,377.04 L254.22,377.12 L254.72,377.20 L255.22,377.26 L255.72,377.33 L256.22,377.39 L256.72,377.44 L257.22,377.49 L257.72,377.53 L258.22,377.57 L258.72,377.60 L259.22,377.63 L259.72,377.66 L260.22,377.69 L260.72,377.71 L261.22,377.74 L261.72,377.76 L262.22,377.78 L262.72,377.79 L263.22,377.81 L263.72,377.81 L264.22,377.82 L264.72,377.81 L265.22,377.81 L265.72,377.80 L266.22,377.78 L266.72,377.76 L267.22,377.74 L267.72,377.71 L268.22,377.69 L268.72,377.66 L269.22,377.63 L269.72,377.60 L270.22,377.57 L270.72,377.53 L271.22,377.49 L271.72,377.44 L272.22,377.38 L272.72,377.32 L273.22,377.26 L273.72,377.19 L274.22,377.13 L274.72,377.06 L275.22,377.00 L275.72,376.94 L276.22,376.88 L276.72,376.83 L277.22,376.77 L277.72,376.71 L278.22,376.65 L278.72,376.57 L279.22,376.50 L279.72,376.41 L280.22,376.31 L280.72,376.19 L281.22,376.03 L281.72,375.83 L282.22,375.60 L282.72,375.34 L283.22,375.06 L283.72,374.77 L284.22,374.48 L284.72,374.18 L285.22,373.89 L285.72,373.61 L286.22,373.35 L286.72,373.12 L287.22,372.90 L287.72,372.69 L288.22,372.49 L288.72,372.29 L289.22,372.10 L289.72,371.91 L290.22,371.71 L290.72,371.51 L291.22,371.29 L291.72,371.07 L292.22,370.83 L292.72,370.57 L293.22,370.30 L293.72,369.99 L294.22,369.64 L294.72,369.23 L295.22,368.77 L295.72,368.27 L296.22,367.76 L296.72,367.23 L297.22,366.72 L297.72,366.22 L298.22,365.73 L298.72,365.25 L299.22,364.76 L299.72,364.27 L300.22,363.77 L300.72,363.27 L301.22,362.76 L301.72,362.24 L302.22,361.72 L302.72,361.18 L303.22,360.63 L303.72,360.07 L304.22,359.51 L304.72,358.94 L305.22,358.37 L305.72,357.79 L306.22,357.22 L306.72,356.66 L307.22,356.09 L307.72,355.52 L308.22,354.95 L308.72,354.37 L309.22,353.80 L309.72,353.24 L310.22,352.68 L310.72,352.13 L311.22,351.59 L311.72,351.06 L312.22,350.55 L312.72,350.04 L313.22,349.54 L313.72,349.05 L314.22,348.56 L314.72,348.07 L315.22,347.58 L315.72,347.08 L316.22,346.58 L316.72,346.06 L317.22,345.54 L317.72,345.02 L318.22,344.50 L318.72,343.99 L319.22,343.49 L319.72,343.01 L320.22,342.56 L320.72,342.13 L321.22,341.71 L321.72,341.29 L322.22,340.89 L322.72,340.49 L323.22,340.12 L323.72,339.77 L324.22,339.43 L324.72,339.13 L325.22,338.84 L325.72,338.58 L326.22,338.32 L326.72,338.07 L327.22,337.83 L327.72,337.61 L328.22,337.40 L328.72,337.20 L329.22,337.01 L329.72,336.84 L330.22,336.68 L330.72,336.52 L331.22,336.37 L331.72,336.23 L332.22,336.10 L332.72,335.97 L333.22,335.86 L333.72,335.77 L334.22,335.69 L334.72,335.62 L335.22,335.56 L335.72,335.50 L336.22,335.45 L336.72,335.39 L337.22,335.35 L337.72,335.30 L338.22,335.27 L338.72,335.24 L339.22,335.22 L339.72,335.20 L340.22,335.20 L340.72,335.20 L341.22,335.20 L341.72,335.20 L342.22,335.20 L342.72,335.20 L343.22,335.20 L343.72,335.20 L344.22,335.20 L344.72,335.20 L345.22,335.20 L345.72,335.20 L346.22,335.20 L346.72,335.20 L347.22,335.21 L347.72,335.22 L348.22,335.24 L348.72,335.25 L349.22,335.27 L349.72,335.29 L350.22,335.32 L350.72,335.34 L351.22,335.36 L351.72,335.39 L352.22,335.42 L352.40,335.43" stroke="#9467bd" stroke-width="2.25" stroke-linecap="square"/>
</g>
<rect x="65.05" y="244.05" width="287.45" height="170.55" fill="none" stroke="#1c1c1c" stroke-width="1"/>
<line x1="65.05" y1="414.6" x2="65.05" y2="417.8" stroke="#000" stroke-width="0.9"/>
<text transform="translate(65.05,431.60) scale(1.0,1)" font-size="14.3" text-anchor="middle" fill="#000" stroke="#000" stroke-width="0.3" >0.0</text>
<line x1="136.91" y1="414.6" x2="136.91" y2="417.8" stroke="#000" stroke-width="0.9"/>
<text transform="translate(136.91,431.60) scale(1.0,1)" font-size="14.3" text-anchor="middle" fill="#000" stroke="#000" stroke-width="0.3" >0.2</text>
<line x1="208.77" y1="414.6" x2="208.77" y2="417.8" stroke="#000" stroke-width="0.9"/>
<text transform="translate(208.77,431.60) scale(1.0,1)" font-size="14.3" text-anchor="middle" fill="#000" stroke="#000" stroke-width="0.3" >0.4</text>
<line x1="280.64" y1="414.6" x2="280.64" y2="417.8" stroke="#000" stroke-width="0.9"/>
<text transform="translate(280.64,431.60) scale(1.0,1)" font-size="14.3" text-anchor="middle" fill="#000" stroke="#000" stroke-width="0.3" >0.6</text>
<line x1="352.50" y1="414.6" x2="352.50" y2="417.8" stroke="#000" stroke-width="0.9"/>
<text transform="translate(352.50,431.60) scale(1.0,1)" font-size="14.3" text-anchor="middle" fill="#000" stroke="#000" stroke-width="0.3" >0.8</text>
<line x1="65.05" y1="388.75" x2="61.849999999999994" y2="388.75" stroke="#000" stroke-width="0.9"/>
<text transform="translate(58.55,393.75) scale(1.0,1)" font-size="14.3" text-anchor="end" fill="#000" stroke="#000" stroke-width="0.3" >−20</text>
<line x1="65.05" y1="350.20" x2="61.849999999999994" y2="350.20" stroke="#000" stroke-width="0.9"/>
<text transform="translate(58.55,355.20) scale(1.0,1)" font-size="14.3" text-anchor="end" fill="#000" stroke="#000" stroke-width="0.3" >0</text>
<line x1="65.05" y1="311.65" x2="61.849999999999994" y2="311.65" stroke="#000" stroke-width="0.9"/>
<text transform="translate(58.55,316.65) scale(1.0,1)" font-size="14.3" text-anchor="end" fill="#000" stroke="#000" stroke-width="0.3" >20</text>
<line x1="65.05" y1="273.10" x2="61.849999999999994" y2="273.10" stroke="#000" stroke-width="0.9"/>
<text transform="translate(58.55,278.10) scale(1.0,1)" font-size="14.3" text-anchor="end" fill="#000" stroke="#000" stroke-width="0.3" >40</text>
<g clip-path="url(#cBR)" fill="none" stroke-linejoin="round">
<path d="M414.04,347.30 L414.54,347.52 L415.04,347.73 L415.54,347.93 L416.04,348.13 L416.54,348.31 L417.04,348.48 L417.54,348.63 L418.04,348.75 L418.54,348.84 L419.04,348.91 L419.54,348.95 L420.04,348.99 L420.54,349.03 L421.04,349.06 L421.54,349.08 L422.04,349.11 L422.54,349.13 L423.04,349.15 L423.54,349.17 L424.04,349.19 L424.54,349.21 L425.04,349.23 L425.54,349.24 L426.04,349.26 L426.54,349.29 L427.04,349.31 L427.54,349.34 L428.04,349.36 L428.54,349.40 L429.04,349.43 L429.54,349.46 L430.04,349.49 L430.54,349.53 L431.04,349.56 L431.54,349.59 L432.04,349.62 L432.54,349.64 L433.04,349.67 L433.54,349.69 L434.04,349.70 L434.54,349.71 L435.04,349.71 L435.54,349.71 L436.04,349.71 L436.54,349.71 L437.04,349.71 L437.54,349.71 L438.04,349.71 L438.54,349.71 L439.04,349.71 L439.54,349.71 L440.04,349.71 L440.54,349.71 L441.04,349.71 L441.54,349.71 L442.04,349.71 L442.54,349.71 L443.04,349.71 L443.54,349.70 L444.04,349.67 L444.54,349.60 L445.04,349.52 L445.54,349.42 L446.04,349.30 L446.54,349.18 L447.04,349.05 L447.54,348.92 L448.04,348.79 L448.54,348.67 L449.04,348.56 L449.54,348.46 L450.04,348.39 L450.54,348.33 L451.04,348.31 L451.54,348.31 L452.04,348.32 L452.54,348.35 L453.04,348.38 L453.54,348.42 L454.04,348.47 L454.54,348.53 L455.04,348.59 L455.54,348.66 L456.04,348.73 L456.54,348.81 L457.04,348.88 L457.54,348.97 L458.04,349.09 L458.54,349.26 L459.04,349.44 L459.54,349.65 L460.04,349.86 L460.54,350.08 L461.04,350.29 L461.54,350.48 L462.04,350.65 L462.54,350.79 L463.04,350.89 L463.54,350.95 L464.04,351.00 L464.54,351.06 L465.04,351.10 L465.54,351.15 L466.04,351.19 L466.54,351.22 L467.04,351.25 L467.54,351.28 L468.04,351.30 L468.54,351.31 L469.04,351.32 L469.54,351.31 L470.04,351.26 L470.54,351.17 L471.04,351.04 L471.54,350.88 L472.04,350.69 L472.54,350.49 L473.04,350.27 L473.54,350.05 L474.04,349.82 L474.54,349.60 L475.04,349.36 L475.54,349.08 L476.04,348.78 L476.54,348.46 L477.04,348.11 L477.54,347.74 L478.04,347.36 L478.54,346.95 L479.04,346.54 L479.54,346.10 L480.04,345.64 L480.54,345.16 L481.04,344.64 L481.54,344.09 L482.04,343.51 L482.54,342.88 L483.04,342.22 L483.54,341.51 L484.04,340.75 L484.54,339.92 L485.04,338.90 L485.54,337.71 L486.04,336.39 L486.54,335.01 L487.04,333.63 L487.54,332.28 L488.04,331.04 L488.54,329.95 L489.04,329.01 L489.54,328.15 L490.04,327.34 L490.54,326.53 L491.04,325.68 L491.54,324.77 L492.04,323.81 L492.54,322.81 L493.04,321.79 L493.54,320.77 L494.04,319.75 L494.54,318.75 L495.04,317.75 L495.54,316.75 L496.04,315.75 L496.54,314.75 L497.04,313.75 L497.54,312.75 L498.04,311.75 L498.54,310.75 L499.04,309.75 L499.54,308.75 L500.04,307.75 L500.54,306.74 L501.04,305.72 L501.54,304.71 L502.04,303.71 L502.54,302.73 L503.04,301.79 L503.54,300.86 L504.04,299.94 L504.54,299.05 L505.04,298.17 L505.54,297.31 L506.04,296.47 L506.54,295.62 L507.04,294.79 L507.54,294.00 L508.04,293.25 L508.54,292.55 L509.04,291.88 L509.54,291.24 L510.04,290.62 L510.54,290.03 L511.04,289.49 L511.54,289.01 L512.04,288.58 L512.54,288.17 L513.04,287.78 L513.54,287.42 L514.04,287.09 L514.54,286.81 L515.04,286.58 L515.54,286.39 L516.04,286.21 L516.54,286.03 L517.04,285.86 L517.54,285.72 L518.04,285.59 L518.54,285.49 L519.04,285.42 L519.54,285.38 L520.04,285.38 L520.54,285.39 L521.04,285.42 L521.54,285.45 L522.04,285.48 L522.54,285.53 L523.04,285.58 L523.54,285.63 L524.04,285.69 L524.54,285.75 L525.04,285.84 L525.54,285.95 L526.04,286.08 L526.54,286.22 L527.04,286.39 L527.54,286.57 L528.04,286.76 L528.54,286.96 L529.04,287.18 L529.54,287.45 L530.04,287.76 L530.54,288.11 L531.04,288.50 L531.54,288.91 L532.04,289.34 L532.54,289.77 L533.04,290.21 L533.54,290.64 L534.04,291.08 L534.54,291.53 L535.04,292.00 L535.54,292.48 L536.04,292.98 L536.54,293.50 L537.04,294.04 L537.54,294.60 L538.04,295.19 L538.54,295.82 L539.04,296.48 L539.54,297.18 L540.04,297.91 L540.54,298.65 L541.04,299.41 L541.54,300.18 L542.04,300.95 L542.54,301.71 L543.04,302.47 L543.54,303.25 L544.04,304.07 L544.54,304.94 L545.04,305.89 L545.54,306.94 L546.04,308.21 L546.54,309.65 L547.04,311.19 L547.54,312.77 L548.04,314.33 L548.54,315.81 L549.04,317.14 L549.54,318.27 L550.04,319.26 L550.54,320.18 L551.04,321.04 L551.54,321.86 L552.04,322.66 L552.54,323.44 L553.04,324.24 L553.54,325.07 L554.04,325.90 L554.54,326.73 L555.04,327.55 L555.54,328.37 L556.04,329.19 L556.54,329.99 L557.04,330.79 L557.54,331.58 L558.04,332.37 L558.54,333.14 L559.04,333.91 L559.54,334.67 L560.04,335.43 L560.54,336.18 L561.04,336.92 L561.54,337.66 L562.04,338.39 L562.54,339.11 L563.04,339.81 L563.54,340.51 L564.04,341.20 L564.54,341.89 L565.04,342.57 L565.54,343.24 L566.04,343.92 L566.54,344.60 L567.04,345.29 L567.54,346.00 L568.04,346.74 L568.54,347.50 L569.04,348.28 L569.54,349.06 L570.04,349.84 L570.54,350.61 L571.04,351.35 L571.54,352.08 L572.04,352.76 L572.54,353.40 L573.04,353.99 L573.54,354.52 L574.04,354.98 L574.54,355.38 L575.04,355.74 L575.54,356.07 L576.04,356.38 L576.54,356.66 L577.04,356.94 L577.54,357.22 L578.04,357.50 L578.54,357.80 L579.04,358.11 L579.54,358.41 L580.04,358.72 L580.54,359.03 L581.04,359.34 L581.54,359.65 L582.04,359.95 L582.54,360.25 L583.04,360.54 L583.54,360.83 L584.04,361.11 L584.54,361.39 L585.04,361.66 L585.54,361.93 L586.04,362.19 L586.54,362.46 L587.04,362.71 L587.54,362.97 L588.04,363.21 L588.54,363.45 L589.04,363.68 L589.54,363.90 L590.04,364.12 L590.54,364.33 L591.04,364.54 L591.54,364.75 L592.04,364.96 L592.54,365.16 L593.04,365.35 L593.54,365.53 L594.04,365.70 L594.54,365.86 L595.04,365.99 L595.54,366.11 L596.04,366.21 L596.54,366.31 L597.04,366.41 L597.54,366.50 L598.04,366.59 L598.54,366.68 L599.04,366.75 L599.54,366.81 L600.04,366.86 L600.54,366.90 L601.04,366.92 L601.54,366.92 L602.04,366.90 L602.54,366.87 L603.04,366.83 L603.54,366.78 L604.04,366.72 L604.54,366.65 L605.04,366.58 L605.54,366.52 L606.04,366.45 L606.54,366.40 L607.04,366.35 L607.54,366.31 L608.04,366.27 L608.54,366.24 L609.04,366.20 L609.54,366.15 L610.04,366.10 L610.54,366.03 L611.04,365.94 L611.54,365.83 L612.04,365.71 L612.54,365.58 L613.04,365.44 L613.54,365.29 L614.04,365.13 L614.54,364.97 L615.04,364.80 L615.54,364.60 L616.04,364.39 L616.54,364.16 L617.04,363.93 L617.54,363.68 L618.04,363.43 L618.54,363.19 L619.04,362.95 L619.54,362.71 L620.04,362.47 L620.54,362.24 L621.04,362.00 L621.54,361.75 L622.04,361.51 L622.54,361.26 L623.04,361.01 L623.54,360.75 L624.04,360.48 L624.54,360.21 L625.04,359.93 L625.54,359.65 L626.04,359.37 L626.54,359.08 L627.04,358.78 L627.54,358.47 L628.04,358.15 L628.54,357.81 L629.04,357.45 L629.54,357.06 L630.04,356.61 L630.54,356.10 L631.04,355.57 L631.54,355.01 L632.04,354.45 L632.54,353.91 L633.04,353.41 L633.54,352.95 L634.04,352.56 L634.54,352.20 L635.04,351.85 L635.54,351.52 L636.04,351.20 L636.54,350.89 L637.04,350.60 L637.54,350.32 L638.04,350.05 L638.54,349.79 L639.04,349.54 L639.54,349.29 L640.04,349.06 L640.54,348.86 L641.04,348.66 L641.54,348.48 L642.04,348.30 L642.54,348.13 L643.04,347.95 L643.54,347.76 L644.04,347.56 L644.54,347.35 L645.04,347.11 L645.54,346.84 L646.04,346.54 L646.54,346.20 L647.04,345.83 L647.54,345.45 L648.04,345.07 L648.54,344.69 L649.04,344.32 L649.54,343.98 L650.04,343.66 L650.54,343.30 L651.04,342.94 L651.54,342.58 L652.04,342.24 L652.54,341.95 L653.04,341.73 L653.54,341.60 L654.04,341.55 L654.54,341.52 L655.04,341.48 L655.54,341.45 L656.04,341.42 L656.54,341.40 L657.04,341.38 L657.54,341.37 L658.04,341.36 L658.54,341.35 L658.82,341.35" stroke="#1f77b4" stroke-width="3.6" stroke-dasharray="13.10 6.12 13.10 6.12 13.10 6.12 13.10 6.12 13.10 6.12 13.10 6.12 13.10 6.12 13.10 4.74 13.10 5.14 13.10 5.93 13.10 4.96 13.10 5.43 13.10 5.69 13.10 5.62 13.10 5.74 13.10 5.37 13.10 5.37 13.10 5.80"/>
<path d="M410.22,359.35 L410.72,359.40 L411.22,359.45 L411.72,359.50 L412.22,359.55 L412.72,359.60 L413.22,359.65 L413.72,359.70 L414.22,359.75 L414.72,359.79 L415.22,359.84 L415.72,359.88 L416.22,359.93 L416.72,359.97 L417.22,360.01 L417.72,360.05 L418.22,360.08 L418.72,360.12 L419.22,360.15 L419.72,360.18 L420.22,360.21 L420.72,360.24 L421.22,360.26 L421.72,360.29 L422.22,360.31 L422.72,360.32 L423.22,360.34 L423.72,360.35 L424.22,360.35 L424.72,360.36 L425.22,360.36 L425.72,360.36 L426.22,360.36 L426.72,360.36 L427.22,360.36 L427.72,360.36 L428.22,360.36 L428.72,360.36 L429.22,360.36 L429.72,360.36 L430.22,360.36 L430.72,360.36 L431.22,360.36 L431.72,360.36 L432.22,360.36 L432.72,360.36 L433.22,360.36 L433.72,360.36 L434.22,360.36 L434.72,360.36 L435.22,360.36 L435.72,360.36 L436.22,360.36 L436.72,360.36 L437.22,360.36 L437.72,360.36 L438.22,360.36 L438.72,360.36 L439.22,360.36 L439.72,360.36 L440.22,360.36 L440.72,360.36 L441.22,360.36 L441.72,360.36 L442.22,360.35 L442.72,360.34 L443.22,360.33 L443.72,360.32 L444.22,360.30 L444.72,360.28 L445.22,360.26 L445.72,360.24 L446.22,360.21 L446.72,360.18 L447.22,360.15 L447.72,360.12 L448.22,360.09 L448.72,360.05 L449.22,360.02 L449.72,359.98 L450.22,359.94 L450.72,359.90 L451.22,359.86 L451.72,359.82 L452.22,359.78 L452.72,359.74 L453.22,359.69 L453.72,359.65 L454.22,359.61 L454.72,359.56 L455.22,359.52 L455.72,359.48 L456.22,359.44 L456.72,359.40 L457.22,359.35 L457.72,359.31 L458.22,359.27 L458.72,359.22 L459.22,359.18 L459.72,359.13 L460.22,359.08 L460.72,359.03 L461.22,358.98 L461.72,358.93 L462.22,358.87 L462.72,358.82 L463.22,358.76 L463.72,358.70 L464.22,358.64 L464.72,358.58 L465.22,358.52 L465.72,358.46 L466.22,358.40 L466.72,358.34 L467.22,358.28 L467.72,358.21 L468.22,358.15 L468.72,358.08 L469.22,358.02 L469.72,357.95 L470.22,357.89 L470.72,357.82 L471.22,357.76 L471.72,357.69 L472.22,357.62 L472.72,357.55 L473.22,357.47 L473.72,357.40 L474.22,357.32 L474.72,357.24 L475.22,357.16 L475.72,357.08 L476.22,357.00 L476.72,356.91 L477.22,356.83 L477.72,356.74 L478.22,356.66 L478.72,356.57 L479.22,356.49 L479.72,356.41 L480.22,356.32 L480.72,356.24 L481.22,356.16 L481.72,356.08 L482.22,356.00 L482.72,355.92 L483.22,355.84 L483.72,355.77 L484.22,355.69 L484.72,355.62 L485.22,355.55 L485.72,355.49 L486.22,355.44 L486.72,355.40 L487.22,355.36 L487.72,355.32 L488.22,355.28 L488.72,355.23 L489.22,355.16 L489.72,355.08 L490.22,354.97 L490.72,354.70 L491.22,353.99 L491.72,352.95 L492.22,351.70 L492.72,350.11 L493.22,347.61 L493.72,344.44 L494.22,340.89 L494.72,337.26 L495.22,333.82 L495.72,330.86 L496.22,328.54 L496.72,326.53 L497.22,324.67 L497.72,322.84 L498.22,320.92 L498.72,318.91 L499.22,316.87 L499.72,314.84 L500.22,312.87 L500.72,311.00 L501.22,309.19 L501.72,307.42 L502.22,305.71 L502.72,304.07 L503.22,302.49 L503.72,300.97 L504.22,299.49 L504.72,298.04 L505.22,296.60 L505.72,295.14 L506.22,293.72 L506.72,292.36 L507.22,291.12 L507.72,289.97 L508.22,288.88 L508.72,287.87 L509.22,286.98 L509.72,286.22 L510.22,285.51 L510.72,284.87 L511.22,284.33 L511.72,283.94 L512.22,283.68 L512.72,283.44 L513.22,283.25 L513.72,283.13 L514.22,283.12 L514.72,283.25 L515.22,283.50 L515.72,283.83 L516.22,284.17 L516.72,284.55 L517.22,285.02 L517.72,285.56 L518.22,286.12 L518.72,286.63 L519.22,287.12 L519.72,287.61 L520.22,288.10 L520.72,288.60 L521.22,289.12 L521.72,289.66 L522.22,290.22 L522.72,290.79 L523.22,291.39 L523.72,292.02 L524.22,292.68 L524.72,293.38 L525.22,294.11 L525.72,294.89 L526.22,295.71 L526.72,296.57 L527.22,297.50 L527.72,298.48 L528.22,299.54 L528.72,300.69 L529.22,301.96 L529.72,303.38 L530.22,305.00 L530.72,306.79 L531.22,308.70 L531.72,310.71 L532.22,312.76 L532.72,314.82 L533.22,316.84 L533.72,318.81 L534.22,320.79 L534.72,322.80 L535.22,324.82 L535.72,326.83 L536.22,328.84 L536.72,330.89 L537.22,332.92 L537.72,334.89 L538.22,336.78 L538.72,338.61 L539.22,340.38 L539.72,342.11 L540.22,343.77 L540.72,345.38 L541.22,346.94 L541.72,348.46 L542.22,349.94 L542.72,351.41 L543.22,352.85 L543.72,354.28 L544.22,355.71 L544.72,357.12 L545.22,358.51 L545.72,359.87 L546.22,361.19 L546.72,362.47 L547.22,363.73 L547.72,364.96 L548.22,366.15 L548.72,367.28 L549.22,368.35 L549.72,369.37 L550.22,370.35 L550.72,371.30 L551.22,372.21 L551.72,373.07 L552.22,373.89 L552.72,374.65 L553.22,375.37 L553.72,376.06 L554.22,376.72 L554.72,377.36 L555.22,377.97 L555.72,378.56 L556.22,379.14 L556.72,379.70 L557.22,380.24 L557.72,380.77 L558.22,381.28 L558.72,381.78 L559.22,382.27 L559.72,382.75 L560.22,383.22 L560.72,383.69 L561.22,384.15 L561.72,384.62 L562.22,385.07 L562.72,385.52 L563.22,385.96 L563.72,386.40 L564.22,386.83 L564.72,387.25 L565.22,387.66 L565.72,388.07 L566.22,388.47 L566.72,388.87 L567.22,389.26 L567.72,389.65 L568.22,390.03 L568.72,390.39 L569.22,390.75 L569.72,391.09 L570.22,391.42 L570.72,391.74 L571.22,392.06 L571.72,392.37 L572.22,392.66 L572.72,392.94 L573.22,393.21 L573.72,393.45 L574.22,393.67 L574.72,393.90 L575.22,394.13 L575.72,394.36 L576.22,394.57 L576.72,394.74 L577.22,394.87 L577.72,394.95 L578.22,394.97 L578.72,394.97 L579.22,394.97 L579.72,394.97 L580.22,394.97 L580.72,394.97 L581.22,394.97 L581.72,394.97 L582.22,394.96 L582.72,394.87 L583.22,394.71 L583.72,394.49 L584.22,394.24 L584.72,393.97 L585.22,393.70 L585.72,393.44 L586.22,393.15 L586.72,392.82 L587.22,392.47 L587.72,392.12 L588.22,391.75 L588.72,391.40 L589.22,391.05 L589.72,390.70 L590.22,390.35 L590.72,390.00 L591.22,389.64 L591.72,389.27 L592.22,388.91 L592.72,388.55 L593.22,388.18 L593.72,387.80 L594.22,387.41 L594.72,387.03 L595.22,386.64 L595.72,386.26 L596.22,385.88 L596.72,385.52 L597.22,385.17 L597.72,384.83 L598.22,384.50 L598.72,384.18 L599.22,383.87 L599.72,383.57 L600.22,383.26 L600.72,382.96 L601.22,382.65 L601.72,382.35 L602.22,382.03 L602.72,381.72 L603.22,381.41 L603.72,381.10 L604.22,380.78 L604.72,380.47 L605.22,380.16 L605.72,379.85 L606.22,379.53 L606.72,379.22 L607.22,378.89 L607.72,378.56 L608.22,378.23 L608.72,377.90 L609.22,377.58 L609.72,377.26 L610.22,376.97 L610.72,376.69 L611.22,376.45 L611.72,376.23 L612.22,376.03 L612.72,375.84 L613.22,375.66 L613.72,375.48 L614.22,375.29 L614.72,375.09 L615.22,374.86 L615.72,374.59 L616.22,374.29 L616.72,373.95 L617.22,373.57 L617.72,373.17 L618.22,372.74 L618.72,372.28 L619.22,371.81 L619.72,371.33 L620.22,370.84 L620.72,370.35 L621.22,369.87 L621.72,369.38 L622.22,368.88 L622.72,368.37 L623.22,367.85 L623.72,367.31 L624.22,366.77 L624.72,366.21 L625.22,365.64 L625.72,365.06 L626.22,364.47 L626.72,363.87 L627.22,363.26 L627.72,362.62 L628.22,361.97 L628.72,361.30 L629.22,360.62 L629.72,359.92 L630.22,359.21 L630.72,358.49 L631.22,357.76 L631.72,357.03 L632.22,356.28 L632.72,355.52 L633.22,354.74 L633.72,353.95 L634.22,353.16 L634.72,352.35 L635.22,351.53 L635.72,350.71 L636.22,349.88 L636.72,349.03 L637.22,348.17 L637.72,347.31 L638.22,346.44 L638.72,345.57 L639.22,344.70 L639.72,343.84 L640.22,342.98 L640.72,342.11 L641.22,341.24 L641.72,340.38 L642.22,339.52 L642.72,338.67 L643.22,337.83 L643.72,337.00 L644.22,336.18 L644.72,335.36 L645.22,334.55 L645.72,333.75 L646.22,332.97 L646.72,332.21 L647.22,331.48 L647.72,330.78 L648.22,330.05 L648.72,329.32 L649.22,328.60 L649.72,327.92 L650.22,327.28 L650.72,326.71 L651.22,326.24 L651.72,325.87 L652.22,325.57 L652.72,325.28 L653.22,325.01 L653.72,324.76 L654.22,324.52 L654.72,324.31 L655.22,324.12 L655.72,323.96 L656.22,323.82 L656.72,323.71 L657.22,323.63 L657.72,323.58 L658.22,323.53 L658.72,323.48 L659.22,323.45 L659.72,323.42 L660.22,323.40 L660.72,323.39 L661.22,323.41 L661.72,323.48 L662.22,323.58 L662.72,323.72 L663.22,323.89 L663.72,324.08 L664.22,324.28 L664.72,324.50 L665.22,324.71 L665.72,324.95 L666.22,325.23 L666.72,325.55 L667.22,325.91 L667.72,326.30 L668.22,326.71 L668.72,327.15 L669.22,327.59 L669.72,328.04 L670.22,328.50 L670.72,329.00 L671.22,329.53 L671.72,330.09 L672.22,330.66 L672.72,331.26 L673.22,331.86 L673.72,332.46 L674.22,333.06 L674.72,333.66 L675.22,334.26 L675.72,334.86 L676.22,335.48 L676.72,336.11 L677.22,336.75 L677.72,337.41 L678.22,338.08 L678.72,338.78 L679.22,339.49 L679.72,340.21 L680.22,340.95 L680.72,341.71 L681.22,342.48 L681.72,343.26 L682.22,344.05 L682.72,344.85 L683.22,345.68 L683.72,346.52 L684.22,347.39 L684.72,348.27 L685.22,349.15 L685.72,350.05 L686.22,350.95 L686.72,351.85 L687.22,352.74 L687.72,353.68 L688.22,354.68 L688.72,355.68 L689.22,356.60 L689.72,357.40 L690.22,358.02 L690.72,358.59 L691.22,359.16 L691.72,359.71 L692.22,360.25 L692.72,360.77 L693.22,361.27 L693.72,361.73 L694.22,362.17 L694.72,362.56 L695.22,362.92 L695.72,363.22 L696.22,363.48 L696.72,363.68 L697.22,363.82 L697.72,363.89 L697.99,363.90" stroke="#ff7f0e" stroke-width="2.25" stroke-linecap="square"/>
<path d="M410.22,359.35 L410.72,359.40 L411.22,359.45 L411.72,359.50 L412.22,359.55 L412.72,359.60 L413.22,359.65 L413.72,359.70 L414.22,359.75 L414.72,359.79 L415.22,359.84 L415.72,359.88 L416.22,359.93 L416.72,359.97 L417.22,360.01 L417.72,360.05 L418.22,360.08 L418.72,360.12 L419.22,360.15 L419.72,360.18 L420.22,360.21 L420.72,360.24 L421.22,360.26 L421.72,360.29 L422.22,360.31 L422.72,360.32 L423.22,360.34 L423.72,360.35 L424.22,360.35 L424.72,360.36 L425.22,360.36 L425.72,360.36 L426.22,360.36 L426.72,360.36 L427.22,360.36 L427.72,360.36 L428.22,360.36 L428.72,360.36 L429.22,360.36 L429.72,360.36 L430.22,360.36 L430.72,360.36 L431.22,360.36 L431.72,360.36 L432.22,360.36 L432.72,360.36 L433.22,360.36 L433.72,360.36 L434.22,360.36 L434.72,360.36 L435.22,360.36 L435.72,360.36 L436.22,360.36 L436.72,360.36 L437.22,360.36 L437.72,360.36 L438.22,360.36 L438.72,360.36 L439.22,360.36 L439.72,360.36 L440.22,360.36 L440.72,360.36 L441.22,360.36 L441.72,360.36 L442.22,360.35 L442.72,360.34 L443.22,360.33 L443.72,360.32 L444.22,360.30 L444.72,360.28 L445.22,360.26 L445.72,360.24 L446.22,360.21 L446.72,360.18 L447.22,360.15 L447.72,360.12 L448.22,360.09 L448.72,360.05 L449.22,360.02 L449.72,359.98 L450.22,359.94 L450.72,359.90 L451.22,359.86 L451.72,359.82 L452.22,359.78 L452.72,359.74 L453.22,359.69 L453.72,359.65 L454.22,359.61 L454.72,359.56 L455.22,359.52 L455.72,359.48 L456.22,359.44 L456.72,359.40 L457.22,359.35 L457.72,359.31 L458.22,359.27 L458.72,359.23 L459.22,359.18 L459.72,359.13 L460.22,359.08 L460.72,359.03 L461.22,358.98 L461.72,358.93 L462.22,358.88 L462.72,358.82 L463.22,358.77 L463.72,358.71 L464.22,358.65 L464.72,358.59 L465.22,358.53 L465.72,358.47 L466.22,358.41 L466.72,358.35 L467.22,358.29 L467.72,358.22 L468.22,358.16 L468.72,358.09 L469.22,358.03 L469.72,357.96 L470.22,357.89 L470.72,357.82 L471.22,357.76 L471.72,357.69 L472.22,357.61 L472.72,357.54 L473.22,357.46 L473.72,357.38 L474.22,357.29 L474.72,357.21 L475.22,357.12 L475.72,357.03 L476.22,356.94 L476.72,356.85 L477.22,356.75 L477.72,356.66 L478.22,356.57 L478.72,356.47 L479.22,356.38 L479.72,356.29 L480.22,356.20 L480.72,356.10 L481.22,356.01 L481.72,355.92 L482.22,355.84 L482.72,355.75 L483.22,355.67 L483.72,355.58 L484.22,355.50 L484.72,355.43 L485.22,355.35 L485.72,355.28 L486.22,355.22 L486.72,355.16 L487.22,355.11 L487.72,355.05 L488.22,355.00 L488.72,354.95 L489.22,354.90 L489.72,354.85 L490.22,354.80 L490.72,354.74 L491.22,354.68 L491.72,354.61 L492.22,354.53 L492.72,354.45 L493.22,354.36 L493.72,354.27 L494.22,354.17 L494.72,354.05 L495.22,353.89 L495.72,353.69 L496.22,353.43 L496.72,352.76 L497.22,350.94 L497.72,348.49 L498.22,346.03 L498.72,343.96 L499.22,341.91 L499.72,339.86 L500.22,337.79 L500.72,335.73 L501.22,333.69 L501.72,331.67 L502.22,329.68 L502.72,327.73 L503.22,325.82 L503.72,323.89 L504.22,321.91 L504.72,319.91 L505.22,317.90 L505.72,315.89 L506.22,313.84 L506.72,311.81 L507.22,309.89 L507.72,308.10 L508.22,306.40 L508.72,304.81 L509.22,303.32 L509.72,301.92 L510.22,300.61 L510.72,299.42 L511.22,298.28 L511.72,297.23 L512.22,296.36 L512.72,295.69 L513.22,295.10 L513.72,294.58 L514.22,294.16 L514.72,293.84 L515.22,293.56 L515.72,293.30 L516.22,293.10 L516.72,293.00 L517.22,293.02 L517.72,293.16 L518.22,293.39 L518.72,293.66 L519.22,293.92 L519.72,294.21 L520.22,294.55 L520.72,294.92 L521.22,295.31 L521.72,295.71 L522.22,296.11 L522.72,296.52 L523.22,296.95 L523.72,297.39 L524.22,297.84 L524.72,298.32 L525.22,298.81 L525.72,299.32 L526.22,299.85 L526.72,300.40 L527.22,300.97 L527.72,301.56 L528.22,302.19 L528.72,302.84 L529.22,303.54 L529.72,304.27 L530.22,305.05 L530.72,305.87 L531.22,306.73 L531.72,307.63 L532.22,308.56 L532.72,309.51 L533.22,310.48 L533.72,311.50 L534.22,312.57 L534.72,313.70 L535.22,314.92 L535.72,316.21 L536.22,317.61 L536.72,319.20 L537.22,321.13 L537.72,323.25 L538.22,325.41 L538.72,327.47 L539.22,329.50 L539.72,331.55 L540.22,333.56 L540.72,335.51 L541.22,337.39 L541.72,339.27 L542.22,341.08 L542.72,342.77 L543.22,344.27 L543.72,345.61 L544.22,346.85 L544.72,348.01 L545.22,349.10 L545.72,350.16 L546.22,351.21 L546.72,352.26 L547.22,353.34 L547.72,354.47 L548.22,355.67 L548.72,356.93 L549.22,358.21 L549.72,359.47 L550.22,360.69 L550.72,361.85 L551.22,362.99 L551.72,364.11 L552.22,365.19 L552.72,366.24 L553.22,367.25 L553.72,368.25 L554.22,369.23 L554.72,370.18 L555.22,371.10 L555.72,371.97 L556.22,372.79 L556.72,373.55 L557.22,374.28 L557.72,374.96 L558.22,375.62 L558.72,376.26 L559.22,376.87 L559.72,377.46 L560.22,378.03 L560.72,378.59 L561.22,379.14 L561.72,379.66 L562.22,380.17 L562.72,380.67 L563.22,381.16 L563.72,381.64 L564.22,382.11 L564.72,382.58 L565.22,383.04 L565.72,383.49 L566.22,383.93 L566.72,384.36 L567.22,384.78 L567.72,385.20 L568.22,385.63 L568.72,386.07 L569.22,386.52 L569.72,386.98 L570.22,387.48 L570.72,387.99 L571.22,388.51 L571.72,389.04 L572.22,389.55 L572.72,390.05 L573.22,390.52 L573.72,390.97 L574.22,391.42 L574.72,391.88 L575.22,392.32 L575.72,392.72 L576.22,393.06 L576.72,393.31 L577.22,393.48 L577.72,393.63 L578.22,393.77 L578.72,393.90 L579.22,394.00 L579.72,394.09 L580.22,394.14 L580.72,394.17 L581.22,394.16 L581.72,394.12 L582.22,394.06 L582.72,393.96 L583.22,393.85 L583.72,393.72 L584.22,393.57 L584.72,393.42 L585.22,393.22 L585.72,392.93 L586.22,392.55 L586.72,392.13 L587.22,391.67 L587.72,391.22 L588.22,390.79 L588.72,390.38 L589.22,389.95 L589.72,389.51 L590.22,389.07 L590.72,388.63 L591.22,388.20 L591.72,387.77 L592.22,387.36 L592.72,386.97 L593.22,386.58 L593.72,386.20 L594.22,385.83 L594.72,385.46 L595.22,385.09 L595.72,384.73 L596.22,384.36 L596.72,383.99 L597.22,383.61 L597.72,383.21 L598.22,382.81 L598.72,382.42 L599.22,382.02 L599.72,381.64 L600.22,381.27 L600.72,380.92 L601.22,380.60 L601.72,380.31 L602.22,380.04 L602.72,379.80 L603.22,379.56 L603.72,379.34 L604.22,379.11 L604.72,378.87 L605.22,378.62 L605.72,378.35 L606.22,378.05 L606.72,377.73 L607.22,377.40 L607.72,377.05 L608.22,376.69 L608.72,376.33 L609.22,375.97 L609.72,375.61 L610.22,375.26 L610.72,374.91 L611.22,374.56 L611.72,374.21 L612.22,373.86 L612.72,373.51 L613.22,373.16 L613.72,372.81 L614.22,372.46 L614.72,372.11 L615.22,371.76 L615.72,371.41 L616.22,371.06 L616.72,370.72 L617.22,370.37 L617.72,370.03 L618.22,369.69 L618.72,369.34 L619.22,369.00 L619.72,368.65 L620.22,368.29 L620.72,367.93 L621.22,367.57 L621.72,367.19 L622.22,366.82 L622.72,366.44 L623.22,366.05 L623.72,365.67 L624.22,365.27 L624.72,364.87 L625.22,364.47 L625.72,364.05 L626.22,363.63 L626.72,363.20 L627.22,362.75 L627.72,362.30 L628.22,361.84 L628.72,361.36 L629.22,360.87 L629.72,360.38 L630.22,359.87 L630.72,359.36 L631.22,358.84 L631.72,358.31 L632.22,357.78 L632.72,357.23 L633.22,356.68 L633.72,356.11 L634.22,355.53 L634.72,354.95 L635.22,354.35 L635.72,353.74 L636.22,353.13 L636.72,352.51 L637.22,351.89 L637.72,351.26 L638.22,350.64 L638.72,350.01 L639.22,349.37 L639.72,348.73 L640.22,348.07 L640.72,347.41 L641.22,346.75 L641.72,346.09 L642.22,345.42 L642.72,344.77 L643.22,344.12 L643.72,343.48 L644.22,342.86 L644.72,342.23 L645.22,341.59 L645.72,340.96 L646.22,340.32 L646.72,339.70 L647.22,339.08 L647.72,338.48 L648.22,337.89 L648.72,337.32 L649.22,336.78 L649.72,336.26 L650.22,335.76 L650.72,335.27 L651.22,334.78 L651.72,334.30 L652.22,333.84 L652.72,333.39 L653.22,332.96 L653.72,332.55 L654.22,332.17 L654.72,331.81 L655.22,331.48 L655.72,331.18 L656.22,330.87 L656.72,330.56 L657.22,330.24 L657.72,329.94 L658.22,329.64 L658.72,329.35 L659.22,329.08 L659.72,328.82 L660.22,328.60 L660.72,328.39 L661.22,328.22 L661.72,328.09 L662.22,327.99 L662.72,327.94 L663.22,327.93 L663.72,327.95 L664.22,328.00 L664.72,328.06 L665.22,328.15 L665.72,328.25 L666.22,328.36 L666.72,328.49 L667.22,328.62 L667.72,328.77 L668.22,328.98 L668.72,329.27 L669.22,329.63 L669.72,330.04 L670.22,330.50 L670.72,331.00 L671.22,331.52 L671.72,332.06 L672.22,332.59 L672.72,333.12 L673.22,333.63 L673.72,334.11 L674.22,334.58 L674.72,335.06 L675.22,335.55 L675.72,336.05 L676.22,336.55 L676.72,337.06 L677.22,337.57 L677.72,338.09 L678.22,338.62 L678.72,339.16 L679.22,339.71 L679.72,340.27 L680.22,340.84 L680.72,341.41 L681.22,341.98 L681.72,342.55 L682.22,343.12 L682.72,343.69 L683.22,344.25 L683.72,344.81 L684.22,345.36 L684.72,345.92 L685.22,346.48 L685.72,347.04 L686.22,347.60 L686.72,348.17 L687.22,348.75 L687.72,349.34 L688.22,349.93 L688.72,350.53 L689.22,351.13 L689.72,351.74 L690.22,352.36 L690.72,352.99 L691.22,353.64 L691.72,354.30 L692.22,354.95 L692.72,355.61 L693.22,356.26 L693.72,356.90 L694.22,357.52 L694.72,358.12 L695.22,358.69 L695.72,359.25 L696.22,359.80 L696.72,360.33 L697.22,360.85 L697.72,361.36 L697.99,361.63" stroke="#2ca02c" stroke-width="2.25" stroke-linecap="square"/>
<path d="M410.22,332.84 L410.72,332.99 L411.22,333.14 L411.72,333.30 L412.22,333.46 L412.72,333.62 L413.22,333.79 L413.72,333.97 L414.22,334.15 L414.72,334.34 L415.22,334.53 L415.72,334.72 L416.22,334.92 L416.72,335.12 L417.22,335.32 L417.72,335.54 L418.22,335.76 L418.72,335.98 L419.22,336.22 L419.72,336.46 L420.22,336.70 L420.72,336.95 L421.22,337.21 L421.72,337.47 L422.22,337.73 L422.72,337.99 L423.22,338.26 L423.72,338.53 L424.22,338.80 L424.72,339.07 L425.22,339.34 L425.72,339.62 L426.22,339.90 L426.72,340.19 L427.22,340.48 L427.72,340.77 L428.22,341.07 L428.72,341.37 L429.22,341.67 L429.72,341.98 L430.22,342.28 L430.72,342.59 L431.22,342.90 L431.72,343.21 L432.22,343.52 L432.72,343.83 L433.22,344.14 L433.72,344.44 L434.22,344.75 L434.72,345.05 L435.22,345.35 L435.72,345.65 L436.22,345.96 L436.72,346.26 L437.22,346.57 L437.72,346.88 L438.22,347.19 L438.72,347.50 L439.22,347.81 L439.72,348.11 L440.22,348.42 L440.72,348.73 L441.22,349.03 L441.72,349.33 L442.22,349.63 L442.72,349.93 L443.22,350.22 L443.72,350.51 L444.22,350.79 L444.72,351.07 L445.22,351.35 L445.72,351.62 L446.22,351.89 L446.72,352.16 L447.22,352.42 L447.72,352.69 L448.22,352.95 L448.72,353.21 L449.22,353.47 L449.72,353.72 L450.22,353.97 L450.72,354.22 L451.22,354.47 L451.72,354.72 L452.22,354.96 L452.72,355.20 L453.22,355.43 L453.72,355.67 L454.22,355.90 L454.72,356.12 L455.22,356.35 L455.72,356.57 L456.22,356.79 L456.72,357.01 L457.22,357.23 L457.72,357.45 L458.22,357.67 L458.72,357.88 L459.22,358.09 L459.72,358.30 L460.22,358.51 L460.72,358.71 L461.22,358.91 L461.72,359.11 L462.22,359.30 L462.72,359.49 L463.22,359.67 L463.72,359.85 L464.22,360.02 L464.72,360.19 L465.22,360.35 L465.72,360.51 L466.22,360.66 L466.72,360.81 L467.22,360.96 L467.72,361.11 L468.22,361.26 L468.72,361.40 L469.22,361.54 L469.72,361.68 L470.22,361.82 L470.72,361.95 L471.22,362.08 L471.72,362.20 L472.22,362.32 L472.72,362.44 L473.22,362.55 L473.72,362.66 L474.22,362.76 L474.72,362.86 L475.22,362.96 L475.72,363.05 L476.22,363.13 L476.72,363.22 L477.22,363.30 L477.72,363.38 L478.22,363.46 L478.72,363.53 L479.22,363.60 L479.72,363.68 L480.22,363.74 L480.72,363.81 L481.22,363.88 L481.72,363.94 L482.22,364.01 L482.72,364.07 L483.22,364.13 L483.72,364.19 L484.22,364.25 L484.72,364.30 L485.22,364.36 L485.72,364.42 L486.22,364.49 L486.72,364.55 L487.22,364.62 L487.72,364.68 L488.22,364.73 L488.72,364.76 L489.22,364.78 L489.72,364.36 L490.22,362.74 L490.72,360.48 L491.22,357.88 L491.72,354.08 L492.22,350.23 L492.72,347.28 L493.22,344.59 L493.72,342.07 L494.22,339.70 L494.72,337.44 L495.22,335.25 L495.72,333.13 L496.22,331.02 L496.72,328.92 L497.22,326.94 L497.72,325.02 L498.22,323.13 L498.72,321.19 L499.22,319.17 L499.72,317.11 L500.22,315.06 L500.72,313.10 L501.22,311.29 L501.72,309.55 L502.22,307.89 L502.72,306.31 L503.22,304.83 L503.72,303.45 L504.22,302.15 L504.72,300.91 L505.22,299.74 L505.72,298.61 L506.22,297.52 L506.72,296.48 L507.22,295.50 L507.72,294.62 L508.22,293.82 L508.72,293.05 L509.22,292.36 L509.72,291.76 L510.22,291.28 L510.72,290.84 L511.22,290.44 L511.72,290.08 L512.22,289.80 L512.72,289.62 L513.22,289.54 L513.72,289.48 L514.22,289.43 L514.72,289.39 L515.22,289.36 L515.72,289.35 L516.22,289.41 L516.72,289.56 L517.22,289.78 L517.72,290.04 L518.22,290.31 L518.72,290.54 L519.22,290.76 L519.72,290.99 L520.22,291.22 L520.72,291.47 L521.22,291.73 L521.72,292.02 L522.22,292.33 L522.72,292.69 L523.22,293.10 L523.72,293.53 L524.22,293.98 L524.72,294.43 L525.22,294.87 L525.72,295.28 L526.22,295.69 L526.72,296.10 L527.22,296.50 L527.72,296.91 L528.22,297.34 L528.72,297.78 L529.22,298.24 L529.72,298.73 L530.22,299.23 L530.72,299.74 L531.22,300.25 L531.72,300.76 L532.22,301.27 L532.72,301.77 L533.22,302.27 L533.72,302.77 L534.22,303.27 L534.72,303.77 L535.22,304.27 L535.72,304.77 L536.22,305.25 L536.72,305.71 L537.22,306.17 L537.72,306.64 L538.22,307.15 L538.72,307.70 L539.22,308.33 L539.72,309.05 L540.22,309.88 L540.72,310.78 L541.22,311.73 L541.72,312.72 L542.22,313.73 L542.72,314.73 L543.22,315.71 L543.72,316.64 L544.22,317.51 L544.72,318.30 L545.22,319.03 L545.72,319.73 L546.22,320.40 L546.72,321.06 L547.22,321.72 L547.72,322.37 L548.22,323.04 L548.72,323.73 L549.22,324.45 L549.72,325.18 L550.22,325.91 L550.72,326.66 L551.22,327.41 L551.72,328.16 L552.22,328.93 L552.72,329.69 L553.22,330.46 L553.72,331.24 L554.22,332.03 L554.72,332.83 L555.22,333.63 L555.72,334.44 L556.22,335.25 L556.72,336.06 L557.22,336.86 L557.72,337.66 L558.22,338.45 L558.72,339.21 L559.22,339.97 L559.72,340.72 L560.22,341.48 L560.72,342.23 L561.22,343.01 L561.72,343.80 L562.22,344.61 L562.72,345.46 L563.22,346.32 L563.72,347.22 L564.22,348.13 L564.72,349.05 L565.22,350.00 L565.72,350.95 L566.22,351.91 L566.72,352.88 L567.22,353.85 L567.72,354.82 L568.22,355.79 L568.72,356.77 L569.22,357.75 L569.72,358.76 L570.22,359.78 L570.72,360.82 L571.22,361.88 L571.72,362.96 L572.22,364.05 L572.72,365.17 L573.22,366.30 L573.72,367.45 L574.22,368.63 L574.72,369.83 L575.22,371.04 L575.72,372.26 L576.22,373.47 L576.72,374.69 L577.22,375.94 L577.72,377.19 L578.22,378.41 L578.72,379.58 L579.22,380.65 L579.72,381.66 L580.22,382.63 L580.72,383.56 L581.22,384.43 L581.72,385.23 L582.22,385.96 L582.72,386.67 L583.22,387.35 L583.72,387.97 L584.22,388.52 L584.72,388.97 L585.22,389.33 L585.72,389.69 L586.22,390.02 L586.72,390.31 L587.22,390.55 L587.72,390.70 L588.22,390.76 L588.72,390.76 L589.22,390.76 L589.72,390.76 L590.22,390.76 L590.72,390.76 L591.22,390.76 L591.72,390.76 L592.22,390.73 L592.72,390.66 L593.22,390.57 L593.72,390.49 L594.22,390.43 L594.72,390.44 L595.22,390.57 L595.72,390.80 L596.22,391.08 L596.72,391.38 L597.22,391.65 L597.72,391.85 L598.22,391.97 L598.72,392.07 L599.22,392.17 L599.72,392.26 L600.22,392.34 L600.72,392.40 L601.22,392.45 L601.72,392.47 L602.22,392.46 L602.72,392.44 L603.22,392.40 L603.72,392.34 L604.22,392.28 L604.72,392.20 L605.22,392.11 L605.72,392.03 L606.22,391.94 L606.72,391.84 L607.22,391.72 L607.72,391.58 L608.22,391.41 L608.72,391.24 L609.22,391.06 L609.72,390.87 L610.22,390.68 L610.72,390.51 L611.22,390.34 L611.72,390.17 L612.22,390.01 L612.72,389.84 L613.22,389.67 L613.72,389.50 L614.22,389.33 L614.72,389.14 L615.22,388.95 L615.72,388.74 L616.22,388.53 L616.72,388.30 L617.22,388.06 L617.72,387.82 L618.22,387.56 L618.72,387.30 L619.22,387.03 L619.72,386.75 L620.22,386.46 L620.72,386.16 L621.22,385.85 L621.72,385.53 L622.22,385.19 L622.72,384.85 L623.22,384.50 L623.72,384.15 L624.22,383.78 L624.72,383.41 L625.22,383.04 L625.72,382.66 L626.22,382.28 L626.72,381.90 L627.22,381.51 L627.72,381.11 L628.22,380.69 L628.72,380.27 L629.22,379.84 L629.72,379.42 L630.22,379.00 L630.72,378.59 L631.22,378.19 L631.72,377.79 L632.22,377.40 L632.72,377.00 L633.22,376.61 L633.72,376.22 L634.22,375.82 L634.72,375.43 L635.22,375.02 L635.72,374.61 L636.22,374.19 L636.72,373.76 L637.22,373.34 L637.72,372.91 L638.22,372.47 L638.72,372.03 L639.22,371.58 L639.72,371.13 L640.22,370.67 L640.72,370.20 L641.22,369.73 L641.72,369.24 L642.22,368.74 L642.72,368.22 L643.22,367.70 L643.72,367.16 L644.22,366.61 L644.72,366.06 L645.22,365.49 L645.72,364.93 L646.22,364.36 L646.72,363.78 L647.22,363.21 L647.72,362.63 L648.22,362.05 L648.72,361.45 L649.22,360.84 L649.72,360.23 L650.22,359.62 L650.72,359.01 L651.22,358.40 L651.72,357.79 L652.22,357.19 L652.72,356.60 L653.22,356.02 L653.72,355.45 L654.22,354.89 L654.72,354.32 L655.22,353.76 L655.72,353.21 L656.22,352.66 L656.72,352.11 L657.22,351.57 L657.72,351.03 L658.22,350.50 L658.72,349.97 L659.22,349.45 L659.72,348.92 L660.22,348.40 L660.72,347.88 L661.22,347.36 L661.72,346.85 L662.22,346.35 L662.72,345.86 L663.22,345.37 L663.72,344.90 L664.22,344.44 L664.72,343.99 L665.22,343.55 L665.72,343.12 L666.22,342.70 L666.72,342.28 L667.22,341.87 L667.72,341.47 L668.22,341.08 L668.72,340.70 L669.22,340.33 L669.72,339.97 L670.22,339.62 L670.72,339.28 L671.22,338.94 L671.72,338.62 L672.22,338.29 L672.72,337.98 L673.22,337.68 L673.72,337.38 L674.22,337.09 L674.72,336.82 L675.22,336.56 L675.72,336.31 L676.22,336.07 L676.72,335.83 L677.22,335.60 L677.72,335.37 L678.22,335.16 L678.72,334.94 L679.22,334.74 L679.72,334.55 L680.22,334.37 L680.72,334.21 L681.22,334.06 L681.72,333.92 L682.22,333.80 L682.72,333.67 L683.22,333.56 L683.72,333.45 L684.22,333.35 L684.72,333.25 L685.22,333.16 L685.72,333.07 L686.22,332.99 L686.72,332.91 L687.22,332.84 L687.72,332.76 L688.22,332.68 L688.72,332.60 L689.22,332.54 L689.72,332.51 L690.22,332.50 L690.72,332.50 L691.22,332.50 L691.72,332.50 L692.22,332.51 L692.72,332.52 L693.22,332.53 L693.72,332.55 L694.22,332.58 L694.72,332.61 L695.22,332.65 L695.72,332.69 L696.22,332.75 L696.72,332.82 L697.22,332.89 L697.72,332.98 L697.99,333.04" stroke="#d62728" stroke-width="2.25" stroke-linecap="square"/>
<path d="M410.22,336.86 L410.72,336.86 L411.22,336.87 L411.72,336.89 L412.22,336.90 L412.72,336.93 L413.22,336.96 L413.72,336.99 L414.22,337.02 L414.72,337.06 L415.22,337.10 L415.72,337.14 L416.22,337.19 L416.72,337.23 L417.22,337.28 L417.72,337.34 L418.22,337.41 L418.72,337.50 L419.22,337.60 L419.72,337.71 L420.22,337.83 L420.72,337.96 L421.22,338.10 L421.72,338.24 L422.22,338.39 L422.72,338.54 L423.22,338.69 L423.72,338.85 L424.22,339.00 L424.72,339.16 L425.22,339.31 L425.72,339.47 L426.22,339.63 L426.72,339.81 L427.22,339.98 L427.72,340.17 L428.22,340.35 L428.72,340.55 L429.22,340.74 L429.72,340.95 L430.22,341.15 L430.72,341.36 L431.22,341.57 L431.72,341.79 L432.22,342.00 L432.72,342.22 L433.22,342.44 L433.72,342.66 L434.22,342.88 L434.72,343.11 L435.22,343.33 L435.72,343.56 L436.22,343.79 L436.72,344.02 L437.22,344.26 L437.72,344.51 L438.22,344.75 L438.72,345.00 L439.22,345.25 L439.72,345.51 L440.22,345.77 L440.72,346.02 L441.22,346.28 L441.72,346.54 L442.22,346.80 L442.72,347.06 L443.22,347.32 L443.72,347.57 L444.22,347.83 L444.72,348.08 L445.22,348.33 L445.72,348.59 L446.22,348.84 L446.72,349.10 L447.22,349.35 L447.72,349.61 L448.22,349.87 L448.72,350.13 L449.22,350.39 L449.72,350.65 L450.22,350.90 L450.72,351.16 L451.22,351.42 L451.72,351.67 L452.22,351.92 L452.72,352.16 L453.22,352.41 L453.72,352.64 L454.22,352.88 L454.72,353.11 L455.22,353.33 L455.72,353.56 L456.22,353.77 L456.72,353.99 L457.22,354.21 L457.72,354.42 L458.22,354.64 L458.72,354.85 L459.22,355.05 L459.72,355.26 L460.22,355.46 L460.72,355.66 L461.22,355.86 L461.72,356.05 L462.22,356.25 L462.72,356.44 L463.22,356.62 L463.72,356.81 L464.22,356.99 L464.72,357.16 L465.22,357.34 L465.72,357.51 L466.22,357.68 L466.72,357.84 L467.22,358.01 L467.72,358.17 L468.22,358.34 L468.72,358.50 L469.22,358.66 L469.72,358.81 L470.22,358.97 L470.72,359.12 L471.22,359.26 L471.72,359.41 L472.22,359.55 L472.72,359.69 L473.22,359.83 L473.72,359.96 L474.22,360.09 L474.72,360.22 L475.22,360.34 L475.72,360.46 L476.22,360.58 L476.72,360.69 L477.22,360.81 L477.72,360.92 L478.22,361.03 L478.72,361.14 L479.22,361.24 L479.72,361.34 L480.22,361.45 L480.72,361.55 L481.22,361.64 L481.72,361.74 L482.22,361.83 L482.72,361.92 L483.22,362.01 L483.72,362.10 L484.22,362.19 L484.72,362.27 L485.22,362.35 L485.72,362.43 L486.22,362.52 L486.72,362.61 L487.22,362.70 L487.72,362.78 L488.22,362.86 L488.72,362.92 L489.22,362.95 L489.72,362.97 L490.22,362.26 L490.72,360.35 L491.22,357.99 L491.72,355.42 L492.22,352.08 L492.72,348.72 L493.22,346.01 L493.72,343.60 L494.22,341.34 L494.72,339.21 L495.22,337.17 L495.72,335.18 L496.22,333.22 L496.72,331.24 L497.22,329.23 L497.72,327.22 L498.22,325.25 L498.72,323.32 L499.22,321.44 L499.72,319.60 L500.22,317.80 L500.72,316.04 L501.22,314.35 L501.72,312.71 L502.22,311.11 L502.72,309.56 L503.22,308.08 L503.72,306.70 L504.22,305.43 L504.72,304.24 L505.22,303.12 L505.72,302.06 L506.22,301.06 L506.72,300.08 L507.22,299.14 L507.72,298.28 L508.22,297.52 L508.72,296.88 L509.22,296.28 L509.72,295.74 L510.22,295.25 L510.72,294.82 L511.22,294.46 L511.72,294.15 L512.22,293.85 L512.72,293.58 L513.22,293.35 L513.72,293.18 L514.22,293.07 L514.72,292.98 L515.22,292.90 L515.72,292.83 L516.22,292.79 L516.72,292.76 L517.22,292.78 L517.72,292.91 L518.22,293.11 L518.72,293.36 L519.22,293.62 L519.72,293.89 L520.22,294.15 L520.72,294.45 L521.22,294.78 L521.72,295.12 L522.22,295.48 L522.72,295.85 L523.22,296.22 L523.72,296.60 L524.22,297.00 L524.72,297.41 L525.22,297.83 L525.72,298.26 L526.22,298.71 L526.72,299.16 L527.22,299.64 L527.72,300.13 L528.22,300.64 L528.72,301.15 L529.22,301.66 L529.72,302.17 L530.22,302.67 L530.72,303.17 L531.22,303.65 L531.72,304.14 L532.22,304.64 L532.72,305.14 L533.22,305.67 L533.72,306.21 L534.22,306.78 L534.72,307.36 L535.22,307.95 L535.72,308.55 L536.22,309.15 L536.72,309.74 L537.22,310.32 L537.72,310.92 L538.22,311.51 L538.72,312.10 L539.22,312.69 L539.72,313.26 L540.22,313.82 L540.72,314.35 L541.22,314.86 L541.72,315.36 L542.22,315.85 L542.72,316.34 L543.22,316.85 L543.72,317.37 L544.22,317.91 L544.72,318.48 L545.22,319.07 L545.72,319.67 L546.22,320.29 L546.72,320.92 L547.22,321.56 L547.72,322.21 L548.22,322.86 L548.72,323.52 L549.22,324.18 L549.72,324.84 L550.22,325.51 L550.72,326.19 L551.22,326.88 L551.72,327.57 L552.22,328.27 L552.72,328.98 L553.22,329.69 L553.72,330.41 L554.22,331.14 L554.72,331.88 L555.22,332.64 L555.72,333.39 L556.22,334.15 L556.72,334.91 L557.22,335.67 L557.72,336.43 L558.22,337.18 L558.72,337.91 L559.22,338.65 L559.72,339.38 L560.22,340.11 L560.72,340.85 L561.22,341.60 L561.72,342.37 L562.22,343.15 L562.72,343.96 L563.22,344.78 L563.72,345.61 L564.22,346.46 L564.72,347.32 L565.22,348.19 L565.72,349.07 L566.22,349.96 L566.72,350.86 L567.22,351.78 L567.72,352.70 L568.22,353.63 L568.72,354.57 L569.22,355.51 L569.72,356.48 L570.22,357.47 L570.72,358.47 L571.22,359.50 L571.72,360.53 L572.22,361.59 L572.72,362.68 L573.22,363.79 L573.72,364.91 L574.22,366.02 L574.72,367.13 L575.22,368.23 L575.72,369.33 L576.22,370.43 L576.72,371.53 L577.22,372.63 L577.72,373.73 L578.22,374.88 L578.72,376.03 L579.22,377.17 L579.72,378.25 L580.22,379.25 L580.72,380.17 L581.22,381.06 L581.72,381.90 L582.22,382.68 L582.72,383.40 L583.22,384.05 L583.72,384.65 L584.22,385.23 L584.72,385.77 L585.22,386.24 L585.72,386.63 L586.22,386.93 L586.72,387.20 L587.22,387.45 L587.72,387.67 L588.22,387.86 L588.72,388.02 L589.22,388.13 L589.72,388.20 L590.22,388.25 L590.72,388.29 L591.22,388.33 L591.72,388.36 L592.22,388.39 L592.72,388.43 L593.22,388.48 L593.72,388.54 L594.22,388.62 L594.72,388.70 L595.22,388.79 L595.72,388.89 L596.22,388.97 L596.72,389.05 L597.22,389.13 L597.72,389.21 L598.22,389.29 L598.72,389.38 L599.22,389.45 L599.72,389.52 L600.22,389.58 L600.72,389.61 L601.22,389.63 L601.72,389.62 L602.22,389.61 L602.72,389.59 L603.22,389.55 L603.72,389.51 L604.22,389.47 L604.72,389.41 L605.22,389.36 L605.72,389.30 L606.22,389.24 L606.72,389.15 L607.22,389.05 L607.72,388.93 L608.22,388.79 L608.72,388.65 L609.22,388.50 L609.72,388.35 L610.22,388.20 L610.72,388.06 L611.22,387.90 L611.72,387.74 L612.22,387.57 L612.72,387.39 L613.22,387.21 L613.72,387.03 L614.22,386.84 L614.72,386.65 L615.22,386.45 L615.72,386.25 L616.22,386.05 L616.72,385.84 L617.22,385.63 L617.72,385.41 L618.22,385.19 L618.72,384.96 L619.22,384.71 L619.72,384.46 L620.22,384.20 L620.72,383.90 L621.22,383.57 L621.72,383.23 L622.22,382.88 L622.72,382.55 L623.22,382.23 L623.72,381.95 L624.22,381.69 L624.72,381.45 L625.22,381.22 L625.72,381.00 L626.22,380.78 L626.72,380.57 L627.22,380.36 L627.72,380.14 L628.22,379.91 L628.72,379.68 L629.22,379.43 L629.72,379.17 L630.22,378.89 L630.72,378.61 L631.22,378.32 L631.72,378.03 L632.22,377.72 L632.72,377.42 L633.22,377.10 L633.72,376.79 L634.22,376.47 L634.72,376.15 L635.22,375.82 L635.72,375.50 L636.22,375.17 L636.72,374.84 L637.22,374.50 L637.72,374.16 L638.22,373.81 L638.72,373.46 L639.22,373.10 L639.72,372.73 L640.22,372.35 L640.72,371.96 L641.22,371.55 L641.72,371.14 L642.22,370.71 L642.72,370.27 L643.22,369.82 L643.72,369.36 L644.22,368.89 L644.72,368.42 L645.22,367.95 L645.72,367.48 L646.22,367.00 L646.72,366.53 L647.22,366.04 L647.72,365.55 L648.22,365.05 L648.72,364.55 L649.22,364.05 L649.72,363.54 L650.22,363.03 L650.72,362.52 L651.22,362.01 L651.72,361.51 L652.22,361.01 L652.72,360.51 L653.22,360.00 L653.72,359.49 L654.22,358.98 L654.72,358.47 L655.22,357.97 L655.72,357.47 L656.22,356.97 L656.72,356.47 L657.22,355.99 L657.72,355.51 L658.22,355.04 L658.72,354.57 L659.22,354.11 L659.72,353.65 L660.22,353.19 L660.72,352.74 L661.22,352.30 L661.72,351.85 L662.22,351.42 L662.72,350.98 L663.22,350.56 L663.72,350.13 L664.22,349.71 L664.72,349.30 L665.22,348.89 L665.72,348.48 L666.22,348.08 L666.72,347.68 L667.22,347.29 L667.72,346.90 L668.22,346.51 L668.72,346.13 L669.22,345.76 L669.72,345.38 L670.22,345.01 L670.72,344.64 L671.22,344.27 L671.72,343.90 L672.22,343.55 L672.72,343.20 L673.22,342.86 L673.72,342.53 L674.22,342.22 L674.72,341.92 L675.22,341.63 L675.72,341.35 L676.22,341.08 L676.72,340.81 L677.22,340.55 L677.72,340.30 L678.22,340.06 L678.72,339.82 L679.22,339.59 L679.72,339.37 L680.22,339.15 L680.72,338.95 L681.22,338.74 L681.72,338.55 L682.22,338.36 L682.72,338.17 L683.22,337.99 L683.72,337.82 L684.22,337.64 L684.72,337.48 L685.22,337.31 L685.72,337.15 L686.22,336.99 L686.72,336.82 L687.22,336.65 L687.72,336.47 L688.22,336.30 L688.72,336.16 L689.22,336.03 L689.72,335.94 L690.22,335.89 L690.72,335.85 L691.22,335.81 L691.72,335.77 L692.22,335.74 L692.72,335.70 L693.22,335.67 L693.72,335.65 L694.22,335.62 L694.72,335.60 L695.22,335.58 L695.72,335.57 L696.22,335.55 L696.72,335.54 L697.22,335.54 L697.72,335.53 L697.99,335.53" stroke="#9467bd" stroke-width="2.25" stroke-linecap="square"/>
</g>
<rect x="410.05" y="244.05" width="287.90" height="170.55" fill="none" stroke="#1c1c1c" stroke-width="1"/>
<line x1="410.05" y1="414.6" x2="410.05" y2="417.8" stroke="#000" stroke-width="0.9"/>
<text transform="translate(410.05,431.60) scale(1.0,1)" font-size="14.3" text-anchor="middle" fill="#000" stroke="#000" stroke-width="0.3" >0.0</text>
<line x1="482.03" y1="414.6" x2="482.03" y2="417.8" stroke="#000" stroke-width="0.9"/>
<text transform="translate(482.03,431.60) scale(1.0,1)" font-size="14.3" text-anchor="middle" fill="#000" stroke="#000" stroke-width="0.3" >0.2</text>
<line x1="554.00" y1="414.6" x2="554.00" y2="417.8" stroke="#000" stroke-width="0.9"/>
<text transform="translate(554.00,431.60) scale(1.0,1)" font-size="14.3" text-anchor="middle" fill="#000" stroke="#000" stroke-width="0.3" >0.4</text>
<line x1="625.98" y1="414.6" x2="625.98" y2="417.8" stroke="#000" stroke-width="0.9"/>
<text transform="translate(625.98,431.60) scale(1.0,1)" font-size="14.3" text-anchor="middle" fill="#000" stroke="#000" stroke-width="0.3" >0.6</text>
<line x1="697.95" y1="414.6" x2="697.95" y2="417.8" stroke="#000" stroke-width="0.9"/>
<text transform="translate(697.95,431.60) scale(1.0,1)" font-size="14.3" text-anchor="middle" fill="#000" stroke="#000" stroke-width="0.3" >0.8</text>
<line x1="410.05" y1="411.00" x2="406.85" y2="411.00" stroke="#000" stroke-width="0.9"/>
<text transform="translate(403.55,416.00) scale(1.0,1)" font-size="14.3" text-anchor="end" fill="#000" stroke="#000" stroke-width="0.3" >−20</text>
<line x1="410.05" y1="381.60" x2="406.85" y2="381.60" stroke="#000" stroke-width="0.9"/>
<text transform="translate(403.55,386.60) scale(1.0,1)" font-size="14.3" text-anchor="end" fill="#000" stroke="#000" stroke-width="0.3" >−10</text>
<line x1="410.05" y1="352.20" x2="406.85" y2="352.20" stroke="#000" stroke-width="0.9"/>
<text transform="translate(403.55,357.20) scale(1.0,1)" font-size="14.3" text-anchor="end" fill="#000" stroke="#000" stroke-width="0.3" >0</text>
<line x1="410.05" y1="322.80" x2="406.85" y2="322.80" stroke="#000" stroke-width="0.9"/>
<text transform="translate(403.55,327.80) scale(1.0,1)" font-size="14.3" text-anchor="end" fill="#000" stroke="#000" stroke-width="0.3" >10</text>
<line x1="410.05" y1="293.40" x2="406.85" y2="293.40" stroke="#000" stroke-width="0.9"/>
<text transform="translate(403.55,298.40) scale(1.0,1)" font-size="14.3" text-anchor="end" fill="#000" stroke="#000" stroke-width="0.3" >20</text>
<line x1="410.05" y1="264.00" x2="406.85" y2="264.00" stroke="#000" stroke-width="0.9"/>
<text transform="translate(403.55,269.00) scale(1.0,1)" font-size="14.3" text-anchor="end" fill="#000" stroke="#000" stroke-width="0.3" >30</text>
<text transform="translate(209.40,9.50) scale(1.0,1)" font-size="12.8" text-anchor="middle" fill="#000" stroke="#000" stroke-width="0.3" >Thoracic Aorta II (segment 35)</text>
<text transform="translate(554.50,9.70) scale(1.0,1)" font-size="12.8" text-anchor="middle" fill="#000" stroke="#000" stroke-width="0.3" >Abdominal Aorta IV (segment 47)</text>
<text transform="translate(209.20,222.20) scale(1.0,1)" font-size="12.8" text-anchor="middle" fill="#000" stroke="#000" stroke-width="0.3" >Right Common Iliac (segment 51)</text>
<text transform="translate(554.05,223.50) scale(1.0,1)" font-size="12.8" text-anchor="middle" fill="#000" stroke="#000" stroke-width="0.3" >Right Femoral (segment 60)</text>
<text transform="translate(208.85,455.60) scale(1.0,1)" font-size="14.3" text-anchor="middle" fill="#000" stroke="#000" stroke-width="0.3" >Time (s)</text>
<text transform="translate(554.05,455.60) scale(1.0,1)" font-size="14.3" text-anchor="middle" fill="#000" stroke="#000" stroke-width="0.3" >Time (s)</text>
<text transform="translate(12.9,100.9) rotate(-90) scale(1.0,1)" font-size="14.3" text-anchor="middle" stroke="#000" stroke-width="0.3">Flow (cm<tspan font-size="10.01" dy="-5.15">3</tspan><tspan dy="5.15">/s)</tspan></text>
<text transform="translate(12.9,329.5) rotate(-90) scale(1.0,1)" font-size="14.3" text-anchor="middle" stroke="#000" stroke-width="0.3">Flow (cm<tspan font-size="10.01" dy="-5.15">3</tspan><tspan dy="5.15">/s)</tspan></text>
<rect x="80.85" y="49.3" width="47.4" height="28.2" fill="#1f77b4" stroke="#000" stroke-width="1"/>
<text transform="translate(104.55,68.60) scale(1.0,1)" font-size="17.6" text-anchor="middle" fill="#000" stroke="#000" stroke-width="0.3" >[27]</text>
<rect x="422.5" y="49.3" width="47.4" height="28.2" fill="#1f77b4" stroke="#000" stroke-width="1"/>
<text transform="translate(446.20,68.60) scale(1.0,1)" font-size="17.6" text-anchor="middle" fill="#000" stroke="#000" stroke-width="0.3" >[27]</text>
<rect x="80.85" y="282.6" width="47.4" height="28.2" fill="#1f77b4" stroke="#000" stroke-width="1"/>
<text transform="translate(104.55,301.90) scale(1.0,1)" font-size="17.6" text-anchor="middle" fill="#000" stroke="#000" stroke-width="0.3" >[27]</text>
<rect x="422.5" y="282.6" width="47.4" height="28.2" fill="#1f77b4" stroke="#000" stroke-width="1"/>
<text transform="translate(446.20,301.90) scale(1.0,1)" font-size="17.6" text-anchor="middle" fill="#000" stroke="#000" stroke-width="0.3" >[27]</text>
<rect x="136.2" y="19.4" width="212.10" height="66.40" rx="1.6" fill="#fff" fill-opacity="0.8" stroke="#ccc" stroke-width="1"/>
<line x1="139.0" y1="26.1" x2="157.0" y2="26.1" stroke="#1f77b4" stroke-width="3.6" stroke-dasharray="13.5 6"/>
<text transform="translate(162.25,28.90) scale(1.0,1)" font-size="8.08" text-anchor="start" fill="#000" stroke="#000" stroke-width="0.2" >Experimental data</text>
<line x1="138.2" y1="37.9" x2="157.0" y2="37.9" stroke="#ff7f0e" stroke-width="3.8"/>
<text transform="translate(162.25,40.70) scale(1.0,1)" font-size="8.08" text-anchor="start" fill="#000" stroke="#000" stroke-width="0.2" >Exponential decay, <tspan font-style="italic">ε</tspan><tspan font-size="5.66" dy="1.62">0</tspan><tspan dy="-1.62">=0.5, </tspan><tspan font-style="italic">D</tspan><tspan font-size="5.66" dy="1.62" font-style="italic">p</tspan><tspan font-size="5.66">,</tspan><tspan font-size="5.66"> min</tspan><tspan dy="-1.62">=</tspan>0.08 cm</text>
<line x1="138.2" y1="50.7" x2="157.0" y2="50.7" stroke="#2ca02c" stroke-width="2.5"/>
<text transform="translate(162.25,53.50) scale(1.0,1)" font-size="8.08" text-anchor="start" fill="#000" stroke="#000" stroke-width="0.2" >Exponential decay, <tspan font-style="italic">ε</tspan><tspan font-size="5.66" dy="1.62">0</tspan><tspan dy="-1.62">=0.5, </tspan><tspan font-style="italic">D</tspan><tspan font-size="5.66" dy="1.62" font-style="italic">p</tspan><tspan font-size="5.66">,</tspan><tspan font-size="5.66"> min</tspan><tspan dy="-1.62">=</tspan>0.05 cm</text>
<line x1="138.2" y1="63.7" x2="157.0" y2="63.7" stroke="#d62728" stroke-width="2.5"/>
<text transform="translate(162.25,66.50) scale(1.0,1)" font-size="8.08" text-anchor="start" fill="#000" stroke="#000" stroke-width="0.2" >Linear decay, <tspan font-style="italic">ε</tspan><tspan font-size="5.66" dy="1.62">0</tspan><tspan dy="-1.62">=0.5, </tspan><tspan font-style="italic">η</tspan>=0.8, <tspan font-style="italic">D</tspan><tspan font-size="5.66" dy="1.62" font-style="italic">p</tspan><tspan font-size="5.66">,</tspan><tspan font-size="5.66"> min</tspan><tspan dy="-1.62">=</tspan>0.08 cm</text>
<line x1="138.2" y1="76.8" x2="157.0" y2="76.8" stroke="#9467bd" stroke-width="2.5"/>
<text transform="translate(162.25,79.60) scale(1.0,1)" font-size="8.08" text-anchor="start" fill="#000" stroke="#000" stroke-width="0.2" >Linear decay, <tspan font-style="italic">ε</tspan><tspan font-size="5.66" dy="1.62">0</tspan><tspan dy="-1.62">=0.5, </tspan><tspan font-style="italic">η</tspan>=0.8, <tspan font-style="italic">D</tspan><tspan font-size="5.66" dy="1.62" font-style="italic">p</tspan><tspan font-size="5.66">,</tspan><tspan font-size="5.66"> min</tspan><tspan dy="-1.62">=</tspan>0.05 cm</text>
</svg>
</body></html>
